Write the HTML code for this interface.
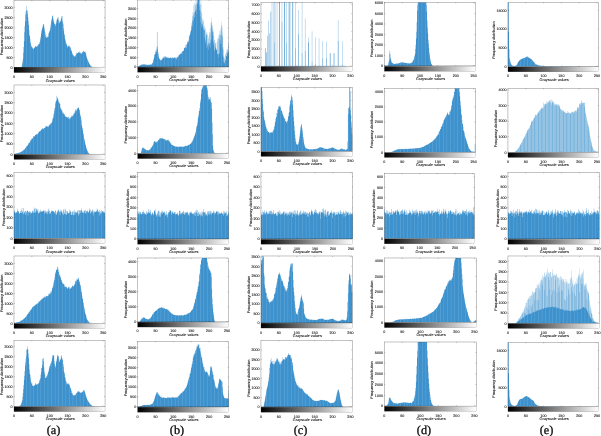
<!DOCTYPE html>
<html><head><meta charset="utf-8"><title>Histograms</title>
<style>
html,body{margin:0;padding:0;background:#fff;}
svg{display:block;}
text{text-rendering:geometricPrecision;}
.t text{font-family:"Liberation Sans",Arial,sans-serif;font-size:3.7px;fill:#111;stroke:#111;stroke-width:0.08px;}
.t text.b{font-size:3.8px;}
.l text{font-family:"Liberation Serif","Times New Roman",serif;font-size:12.3px;fill:#000;stroke:#000;stroke-width:0.25px;}
</style></head><body>
<svg width="601" height="436" viewBox="0 0 601 436">
<defs><linearGradient id="gg" x1="0" x2="1" y1="0" y2="0"><stop offset="0" stop-color="#000"/><stop offset="1" stop-color="#fff"/></linearGradient><path id="p0" d="M13.98 67.49h.35h.36h.35h.36h.35h.36h.36h.35h.36h.35h.36h.35h.36h.36h.35h.36h.35h.36h.35h.36h.36v-.16h.35v-2.11h.36v-1.82h.35v-1.95h.36v-2.69h.35v-6.11h.36v-5.54h.36v-5.88h.35v-8.91h.36v-6.09h.35v-4.99h.36v-6.51h.35v-3.33h.36v-.71h.35v-4.73h.36v3.99h.36v.57h.35v3.25h.36v3.44h.35v3.8h.36v4.06h.35v5.24h.36v4.69h.36v1.62h.35v2.46h.36v2.8h.35v2.1h.36v2.54h.35v-.84h.36v1.51h.36v.37h.35v.29h.36v1.42h.35v-.39h.36v-.4h.35v-.85h.36v.37h.35v-.75h.36v-.19h.36v-.92h.35v-.12h.36v.92h.35v-.37h.36v-.4h.35v-.38h.36v-.25h.36v.84h.35v-2.25h.36v.27h.35v-.2h.36v-.4h.35v-1.76h.36v-1.55h.36v-1.84h.35v-2.16h.36v-2.83h.35v-2.3h.36v-1.9h.35v-1.15h.36v-1.17h.35v-1.98h.36v-1.26h.36v.22h.35v1.68h.36v2.08h.35v2.39h.36v1.76h.35v2.5h.36v2.36h.36v1.09h.35v-.17h.36v-2h.35v1.19h.36v.47h.35v-.9h.36v.1h.36v-3.29h.35v-.52h.36v-1.13h.35v-.69h.36v-1.33h.35v-2.04h.36v-2.96h.36v-2.7h.35v-1.8h.36v-1.3h.35v-2.23h.36v-.92h.35v-.28h.36v3.36h.35v2.19h.36v1.44h.36v1.6h.35v-.7h.36v1.7h.35v1.26h.36v-2.35h.35v-.38h.36v-2.09h.36v-1.99h.35v-.27h.36v-1.98h.35v1.54h.36v-1.6h.35v2.76h.36v3.24h.36v-.29h.35v-1.88h.36v.92h.35v-.63h.36v-.81h.35v-1.86h.36v-1.07h.35v-1.32h.36v-.18h.36v4.66h.35v1.63h.36v1.27h.35v4.67h.36v2.73h.35v2.83h.36v1.5h.36v3.02h.35v1.36h.36v2.09h.35v1.95h.36v-.45h.35v1.74h.36v1.17h.36v1.17h.35v-1.19h.36v.37h.35v-.83h.36v-.23h.35v.18h.36v.73h.35v.68h.36v-.22h.36v1.6h.35v1.25h.36v.99h.35v.61h.36v1.4h.35v1.09h.36v1h.36v.2h.35v.44h.36v.47h.35v.51h.36v.09h.35v-.07h.36v-.26h.36v-1.27h.35v-.51h.36v-.55h.35v-1.05h.36v.29h.35v-.1h.36v-.28h.36v-.05h.35v-.67h.36v.24h.35v-1.03h.36v1.39h.35v.26h.36v-.35h.35v.57h.36v.22h.36v.3h.35v.01h.36v-1.48h.35v.1h.36v-.08h.35v-1h.36v-.45h.36v.83h.35v.04h.36v.3h.35v.19h.36v-.24h.35v1h.36v1.41h.36v1.58h.35v1.74h.36v.74h.35v.97h.36v.85h.35v.67h.36v1.12h.35v.7h.36v.7h.36v.61h.35v.68h.36v.54h.35v.32h.36v.5h.35v.26h.36v.26h.36v.22h.35v.25h.36v.24h.35v.05h.36v.21h.35h.36h.36h.35h.36h.35h.36h.35h.36h.35h.36h.36h.35h.36h.35h.36h.35h.36h.36h.35h.36h.35h.36h.35h.36h.36h.35h.36h.35h.36h.35h.36h.35V67.49Z"/><clipPath id="c0"><use href="#p0"/></clipPath><path id="p1" d="M137.57 66.89v-.29h.36v.07h.35v-.27h.36v-.02h.36v-.45h.35v-.11h.36v-.28h.36v-.09h.35v-.53h.36v.17h.36v-.3h.35v-.05h.36v-.22h.35v-.11h.36v.08h.36v-.28h.35v-.02h.36v.19h.36v.09h.35v.13h.36v-.35h.36v.15h.35v.43h.36v-.26h.36v.19h.35v-.12h.36v.11h.35v.24h.36v-.23h.36v.19h.35v-.34h.36v.38h.36v-.27h.35v.18h.36v-.14h.36v-.18h.35v-.35h.36v.04h.36v.15h.35v.36h.36v-.53h.35v-1.14h.36v-.22h.36v-1.3h.35v-1.47h.36v-1.31h.36v-1.49h.35v-2.22h.36v-1.03h.36v.01h.35v-3.48h.36v1.44h.36v-.35h.35v-2.41h.36v-2.84h.35v.08h.36v2.07h.36v3.46h.35v2.11h.36v2.7h.36v1.15h.35v.87h.36v.31h.36v.7h.35v-.08h.36v1.11h.36v-.92h.35v-.4h.36v-.04h.35v-.66h.36v-1.18h.36v.39h.35v-1.53h.36v1.29h.36v.41h.35v-1.27h.36v-.79h.36v.12h.35v1.23h.36v-.95h.36v.67h.35v-.13h.36v.91h.36v-.18h.35v-.53h.36v-.49h.35v1.18h.36v.06h.36v-.06h.35v-.16h.36v-.07h.36v-.22h.35v.63h.36v-1.07h.36v1.06h.35v-.03h.36v-.68h.36v.68h.35v-1.03h.36v.79h.35v.24h.36v-.36h.36v-.17h.35v-.68h.36v1.05h.36v.55h.35v-1.08h.36v-.08h.36v2.01h.35v-1.8h.36v-.1h.36v-.32h.35v.05h.36v-.7h.35v.06h.36v-1.02h.36v-1.16h.35v.22h.36v.16h.36v-1.64h.35v.9h.36v.17h.36v-.9h.35v.21h.36v-1.61h.36v-.55h.35v-.45h.36v.45h.35v-.67h.36v-.24h.36v-2.58h.35v.45h.36v-.9h.36v.03h.35v-.29h.36v-2.5h.36v3.6h.35v-3.85h.36v-.07h.36v-2.47h.35v.7h.36v-1.86h.35v1.86h.36v-2.11h.36v-5.04h.35v1.18h.36v-1.49h.36v-3.3h.35v2.12h.36v-2.91h.36v-1.26h.35v-4.02h.36v-2.72h.36v3.16h.35v-6.51h.36v1.46h.35v-.4h.36v-5.71h.36v2.06h.35v.33h.36v-5.43h.36v-1.12h.35v.29h.36v-6.81h.36v4.8h.35v4.69h.36v-10.94h.36v1.01h.35v-3.03h.36v-.91h.36h.35h.36h.35v5.15h.36v4.98h.36v5.54h.35v6.21h.36v-11.38h.36v13.36h.35v3.48h.36v-9.71h.36v7.9h.35v-1.84h.36v3.38h.36v2.04h.35v.98h.36v6.86h.35v-6.84h.36v.1h.36v8.79h.35v4.49h.36v-2.73h.36v-5.6h.35v.19h.36v12.62h.36v-1.92h.35v.46h.36v-3.29h.36v-.68h.35v6.84h.36v-5h.35v-1.13h.36v2.19h.36v2.19h.35v-4.54h.36v-2.68h.36v-18.29h.35v4.97h.36v12.17h.36v-9.06h.35v1.7h.36v3.07h.36v6.38h.35v2.15h.36v2.11h.35v4.73h.36v.89h.36v-2.73h.35v-5.04h.36v4.15h.36v2.29h.35v-1.13h.36v1.24h.36v4.54h.35v-.98h.36v.87h.36v2.82h.35v-3.14h.36v-.88h.35v.87h.36v-15.42h.36v-3.73h.35v9.29h.36v-3.84h.36v3.43h.35v-18.8h.36v10.38h.36v.9h.35v12.22h.36v6.96h.36v1.65h.35v3.99h.36v1.99h.35v.47h.36v-1.22h.36v-1.6h.35v-.03h.36v-.86h.36v-3.45h.35v-.14h.36v-.18h.36v-2.66h.35v-.29h.36v-1.67h.36v-.04h.35v.08h.36V66.89Z"/><clipPath id="c1"><use href="#p1"/></clipPath><path id="p3" d="M384.36 65.89v-.17h.36v-.01h.35v.11h.36v-.09h.35v-.1h.36v.04h.35v.08h.36v-.1h.35v.09h.36v-.18h.36v-.68h.35v-1.55h.36v-1.84h.35v-1.75h.36v-6.19h.35v-2.84h.36v3.78h.36v3.81h.35v1.32h.36v1.46h.35v1.24h.36v.39h.35v.19h.36v.09h.36v.55h.35v.31h.36v.15h.35v-.05h.36v.06h.35v-.16h.36h.35v-.01h.36v-.18h.36v.21h.35v-.43h.36v.14h.35v-.2h.36v.15h.35v-.04h.36v-.02h.36v-.1h.35v-.02h.36v-.35h.35v-.04h.36v-.28h.35v.11h.36v-.37h.36v-.13h.35v.12h.36v-.06h.35v.19h.36v.02h.35v-.12h.36v.09h.35v-.07h.36v.1h.36v.13h.35v.03h.36v-.04h.35v.2h.36v.15h.35v.04h.36v.14h.36v-.19h.35v.42h.36v-.42h.35v.29h.36v-.1h.35v.03h.36v.03h.36v.18h.35v.18h.36v-.32h.35v-.04h.36v-.39h.35v.03h.36v-.31h.36v-.03h.35v-.23h.36v-.81h.35v-.67h.36v-.83h.35v-.59h.36v-1.04h.35v-1.74h.36v-1.28h.36v-1.64h.35v-4.73h.36v-4.19h.35v-6.35h.36v-6.77h.35v-9.4h.36v-11.6h.36v-5.95h.35v-2.35h.36h.35h.36h.35h.36h.36h.35h.36h.35h.36h.35h.36h.35h.36h.36h.35h.36h.35h.36h.35h.36h.36h.35h.36v2.5h.35v6.64h.36v8.95h.35v6.94h.36v5.89h.36v6.39h.35v3.65h.36v4.65h.35v4.43h.36v2.89h.35v2.98h.36v1.95h.35v1.25h.36v1.62h.36v1.11h.35v.37h.36v.61h.35v.45h.36v.22h.35h.36h.36h.35h.36h.35h.36h.35h.36h.36h.35h.36h.35h.36h.35h.36h.35h.36h.36h.35h.36h.35h.36h.35h.36h.36h.35h.36h.35h.36h.35h.36h.36h.35h.36h.35h.36h.35h.36h.36h.35h.36h.35h.36h.35h.36h.35h.36h.36h.35h.36h.35h.36h.35h.36h.36h.35h.36h.35h.36h.35h.36h.36h.35h.36h.35h.36h.35h.36h.35h.36h.36h.35h.36h.35h.36h.35h.36h.36h.35h.36h.35h.36h.35h.36h.36h.35h.36h.35h.36h.35h.36h.35h.36h.36h.35h.36h.35h.36h.35h.36h.36h.35h.36h.35h.36h.35h.36h.36h.35h.36h.35h.36h.35h.36h.36h.35h.36h.35h.36V65.89Z"/><clipPath id="c3"><use href="#p3"/></clipPath><path id="p4" d="M507.96 66.49v-64.09h.35h.35v29.29h.36v17.5h.35v8.78h.36v1.83h.35v1.58h.36v1.33h.35v1.11h.36v.58h.35v.45h.36v.89h.35v-.16h.36v.15h.35v-.07h.36v.03h.35v.12h.36v.02h.35v.07h.36v.12h.35v-.25h.36v-.11h.35v-.36h.36v-.06h.35v-.29h.36v-.36h.35v-.72h.36v-.96h.35v-.83h.36v-.38h.35v-.56h.36v-.43h.35v-.33h.36v-.5h.35v.03h.36v-.46h.35v-.26h.36v-.26h.35v-.04h.36v.26h.35v-.67h.36v-.27h.35v.24h.35v.07h.36v-.54h.35h.36v-.07h.35v-.24h.36v-.24h.35v.08h.36v-.22h.35v-.34h.36v-.08h.35v-.28h.36v.04h.35v-.09h.36v.14h.35v.47h.36v.67h.35v-.02h.36v.22h.35v.12h.36v.12h.35v.46h.36v.01h.35v.37h.36v.17h.35v.57h.36v.33h.35v.32h.36v.46h.35v.62h.36v.33h.35v.13h.36v.74h.35v.26h.36v.59h.35v.33h.36v.44h.35v-.25h.36v.4h.35v.1h.36v.22h.35v.13h.35v.1h.36v.04h.35v.25h.36v.21h.35v-.22h.36v.09h.35v.1h.36v.22h.35v-.02h.36v-.01h.35v.08h.36v.03h.35v-.09h.36v.02h.35v.12h.36v.05h.35v-.18h.36v.26h.35v-.16h.36v.11h.35v.02h.36v.08h.35v-.21h.36v.16h.35v-.1h.36v.23h.35v-.16h.36v.13h.35v.01h.36v-.26h.35v.12h.36v-.12h.35v.16h.36v.06h.35v.09h.36v-.07h.35v-.15h.36v.14h.35h.35v-.23h.36v.09h.35v.16h.36v.15h.35v-.39h.36v.2h.35v-.18h.36v.39h.35v-.18h.36v.13h.35v-.05h.36v-.09h.35v.11h.36v-.01h.35h.36v-.01h.35v-.19h.36v-.01h.35v.08h.36v.08h.35v.07h.36v.15h.35v-.19h.36v.07h.35v.06h.36v.16h.35v-.41h.36v.3h.35v-.02h.36v-.41h.35v.18h.36v.19h.35v-.18h.36v-.07h.35v.14h.36v-.05h.35v.15h.36v-.09h.35v-.13h.36v.3h.35v-.37h.35v.27h.36v-.19h.35v.15h.36v.06h.35v-.11h.36v-.22h.35v.4h.36v-.19h.35v-.2h.36v.09h.35v.33h.36v-.12h.35h.36v-.03h.35v-.04h.36v-.09h.35v-.09h.36v.43h.35v.02h.36v-.07h.35v-.05h.36v.08h.35v-.15h.36v.11h.35v-.14h.36v.1h.35v-.17h.36v.19h.35v-.15h.36v.03h.35v.01h.36v-.01h.35v.22h.36v-.31h.35v.13h.36v-.18h.35v.21h.36v.13h.35v-.28h.36v.29h.35v-.24h.35v.16h.36v.09h.35v-.11h.36v.05h.35v.06h.36v-.36h.35v.32h.36v.04h.35h.36h.35v-.02h.36v-.08h.35v-.1h.36v.1h.35v.05h.36v-.09h.35v.14h.36v-.04h.35v-.02h.36v-.03h.35v.09h.36v-.07h.35v.02h.36v-.03h.35v-.19h.36v.27h.35v-.18h.36v.13h.35v-.18h.36v.23h.35v-.23h.36v.23h.35v-.08h.36h.35v.07h.36v.01h.35h.36v-.19h.35v.01h.36v.13h.35v-.24h.35v.11h.36v-.03h.35v.14h.36v-.22h.35v.29h.36v-.01h.35v-.11h.36v.12h.35v-.24h.36v.03h.35V66.49Z"/><clipPath id="c4"><use href="#p4"/></clipPath><path id="p5" d="M13.98 154.28v-.29h.35v.05h.36v-.07h.35v-.38h.36v.01h.35v-.09h.36v-.1h.36h.35v-.16h.36v-.3h.35v.25h.36v-.08h.35v-.08h.36v-.18h.36v-.14h.35v-.12h.36v-.4h.35v.21h.36v-.57h.35v.47h.36v-.47h.36v-.24h.35v-.18h.36v-.39h.35v-.29h.36v-.25h.35v-.17h.36v-.48h.36v-.17h.35v-.38h.36v-.06h.35v-.86h.36v-.26h.35v-.51h.36v-.85h.35v-.33h.36v-.43h.36v-.25h.35v-.13h.36v-1.21h.35v-.11h.36v-1.27h.35v-.26h.36v.22h.36v-1.1h.35v-.42h.36v-.84h.35v-.76h.36v.45h.35v-1.25h.36v-.72h.36v.09h.35v.06h.36v-.75h.35v-1.55h.36v-.04h.35v.02h.36v.21h.35v-.03h.36v-1.23h.36v-.47h.35v.38h.36v-.99h.35v.11h.36v.8h.35v-.7h.36v-.57h.36v.1h.35v-1.6h.36v.54h.35v-1.16h.36v.01h.35v-.1h.36v-.65h.36v.21h.35v-.54h.36v-.69h.35v-.19h.36v-.34h.35v.16h.36v-1.49h.35v.19h.36v.89h.36v-.31h.35v-.61h.36v-.16h.35v-.05h.36v-1.01h.35v-1.04h.36v1.82h.36v-1.57h.35v.02h.36v.87h.35v-.55h.36v-.27h.35v.23h.36v.27h.36v-.27h.35v-1.3h.36v.71h.35v-1.43h.36v.14h.35v-.09h.36v-1.1h.36v.07h.35v-.54h.36v-.35h.35v-.87h.36v-2.23h.35v-1.42h.36v-.33h.35v-2.9h.36v-1.43h.36v-2.6h.35v-2.27h.36v-.83h.35v-4.19h.36v-1.64h.35v-.79h.36v-.65h.36v-4.58h.35v3.12h.36v-1.26h.35v-.32h.36v2.58h.35v2.12h.36v-.05h.36v.62h.35v.84h.36v.49h.35v4.22h.36v-.71h.35v2.42h.36v-.9h.35v1.84h.36v-.33h.36v2.34h.35v.04h.36v-.51h.35v1.43h.36v.38h.35v.42h.36v-.22h.36v1.83h.35v.41h.36v-.4h.35v.22h.36v.87h.35v-.33h.36v.78h.36v-.24h.35v-.52h.36v2.15h.35v-2.03h.36v-.61h.35v2.15h.36v-.29h.35v1.09h.36v-1.37h.36v-.99h.35v.13h.36v-1.87h.35v1.51h.36v-.63h.35v-.78h.36v.92h.36v-.6h.35v-1.79h.36v.3h.35v-.69h.36v-.43h.35v-1.92h.36v-2.31h.36v2.36h.35v-1.1h.36v1.22h.35v-1.82h.36v-.32h.35v-1.58h.36v.88h.36v-.64h.35v-.81h.36v.89h.35v2.14h.36v-.64h.35v3.21h.36v2.5h.35v.82h.36v1.84h.36v2.72h.35v4.35h.36v1.76h.35v1.41h.36v2.23h.35v2.44h.36v1.56h.36v2.21h.35v2.14h.36v1.23h.35v2.16h.36v1.74h.35v1.18h.36v1.41h.36v1.26h.35v1.58h.36v.98h.35v.64h.36v.65h.35v.74h.36v.69h.35v.43h.36v.35h.36v.02h.35v.33h.36v.11h.35v.12h.36h.35h.36h.36h.35h.36h.35h.36h.35h.36h.36h.35h.36h.35h.36h.35h.36h.35h.36h.36h.35h.36h.35h.36h.35h.36h.36h.35h.36h.35h.36h.35h.36h.36h.35h.36h.35h.36h.35h.36h.35V154.28Z"/><clipPath id="c5"><use href="#p5"/></clipPath><path id="p6" d="M137.57 153.28h.36h.35h.36h.36h.35h.36h.36h.35h.36h.36v-1.78h.35v-1.84h.36v-1.11h.35v-.65h.36v-.49h.36v.07h.35v.58h.36v.31h.36v-.11h.35v.54h.36v.35h.36v.21h.35h.36v.61h.36v-.06h.35v.29h.36v-.03h.35v-.05h.36v.17h.36v.15h.35h.36v-.13h.36v-.51h.35v.01h.36v-.23h.36v-.43h.35v-.7h.36v-.3h.36v-.36h.35v-.81h.36v-.19h.35v-.77h.36v-.83h.36v-.52h.35v-.88h.36v-1.91h.36v-.21h.35v-.54h.36v-.09h.36v.07h.35v1.27h.36v.22h.36v-.48h.35v.01h.36v-.52h.35v-.2h.36v.06h.36v-.79h.35v-.77h.36v-.04h.36h.35v-1.11h.36v-.53h.36v-.08h.35v.18h.36v-.11h.36v-.18h.35v.63h.36v-.94h.35v.69h.36v.13h.36v.09h.35v.12h.36v.3h.36v-.39h.35v.25h.36v.84h.36v-.05h.35v-.3h.36v.97h.36v.01h.35v.14h.36v-.63h.36v-.16h.35v.44h.36v-.1h.35v-.46h.36v1.41h.36v.46h.35v-.33h.36v.65h.36v.58h.35v.62h.36v.88h.36v-.36h.35v.88h.36v.61h.36v-.05h.35v-.02h.36v.43h.35v.26h.36v.23h.36v.07h.35v.29h.36v-.12h.36v.63h.35v-.28h.36v.13h.36v-.18h.35v.11h.36v.16h.36v.12h.35v.14h.36v-.09h.35v-.22h.36v.06h.36v.04h.35v-.11h.36v.21h.36v-.22h.35v.1h.36v-.13h.36v-.04h.35v.25h.36v-.29h.36v.13h.35v.08h.36v.09h.35v-.06h.36v-.17h.36v.33h.35v-.79h.36v.16h.36v-.38h.35v-.1h.36v.03h.36v-.12h.35v.18h.36v.27h.36v-.59h.35v.28h.36v-.7h.35v-.06h.36v-.19h.36v-.35h.35v.22h.36v-.37h.36v-.32h.35v-.37h.36v-.14h.36v-.4h.35v-.62h.36v-1.01h.36v.16h.35v-1.27h.36v-.45h.35v-.96h.36v-.97h.36v-.76h.35v-.92h.36v-1.2h.36v-1.16h.35v-1.21h.36v-1.4h.36v-2.56h.35v-2.24h.36v-.45h.36v-1.4h.35v-2.37h.36v-3.91h.36v-1.6h.35v-2.13h.36v-3.44h.35v-.54h.36v-2.65h.36v-4.93h.35v-1.77h.36v-2.1h.36v-5.19h.35v-4.08h.36v-1.13h.36v-1.97h.35v1.28h.36v-1.97h.36v-.36h.35v-.29h.36h.35h.36h.36h.35h.36h.36h.35h.36v1.95h.36v.75h.35v2.25h.36v4.31h.36v2.5h.35v2.5h.36v-2.9h.35v2.54h.36v-.55h.36v-.25h.35v-1.43h.36v4.16h.36v.72h.35v.77h.36v6.21h.36v13.74h.35v11.48h.36v11.72h.36v3.57h.35v1.12h.36v1.4h.35v.58h.36v.17h.36v.05h.35v.07h.36v.11h.36v.15h.35h.36h.36h.35h.36h.36h.35h.36h.35h.36h.36h.35h.36h.36h.35h.36h.36h.35h.36h.36h.35h.36h.35h.36h.36h.35h.36h.36h.35h.36h.36h.35h.36h.36h.35h.36V153.28Z"/><clipPath id="c6"><use href="#p6"/></clipPath><path id="p7" d="M260.97 151.28v-63.69h.35h.36h.35v3.79h.36v7.58h.36v5.15h.35v6.16h.36v1.72h.36v5.08h.35v2.42h.36v1h.36v1.75h.35v1.79h.36v2.12h.36v.77h.35v1.6h.36v.61h.35v.36h.36v1.42h.36v.58h.35v.53h.36v-.02h.36v.06h.35v1.22h.36v-.41h.36v-.16h.35v.53h.36v-.89h.36v-.31h.35v.6h.36v-.36h.35v.39h.36v-.35h.36v-1.47h.35v.1h.36v-2.04h.36v1.01h.35v-3.03h.36v-1.23h.36v-2.88h.35v-1.35h.36v-2.8h.36v-1.33h.35v-.63h.36v-3.75h.35v.5h.36v-3.38h.36v-.77h.35v-.36h.36v-2.48h.36v-.15h.35v-.13h.36v.64h.36v-1.49h.35v2.63h.36v-.85h.36v3.4h.35v.03h.36v-.04h.35v1.29h.36v2.45h.36v-.33h.35v1.58h.36v.98h.36v1.15h.35v.43h.36v.71h.36v.06h.35v2.13h.36v.13h.36v.79h.35v-.38h.36v1.91h.35v-1.56h.36v-.83h.36v-1.58h.35v-2.8h.36v-.5h.36v-3.2h.35v-.83h.36v-5.93h.36v-1.97h.35v-3.65h.36v.24h.36v-2.55h.35v-2.16h.36v-1.18h.36v2.07h.35v3.08h.36v4.76h.35v5.46h.36v6.53h.36v4.53h.35v4.37h.36v5.31h.36v3.77h.35v3.55h.36v2.98h.36v.99h.35v1.81h.36v.53h.36v.04h.35v.08h.36v-.56h.35v.09h.36v-1.53h.36v-1.52h.35v-2.04h.36v-2.58h.36v-3.21h.35v-3.21h.36v-2.95h.36v-.87h.35v-2.12h.36v.39h.36v3.64h.35v2.29h.36v2.83h.35v3.51h.36v2.69h.36v2.56h.35v2.22h.36v1.22h.36v1.1h.35v.48h.36v.8h.36v.4h.35v.11h.36v.01h.36v.07h.35v.43h.36v-.15h.35v.37h.36v-.16h.36v.15h.35v.23h.36h.36v-.1h.35v.09h.36v-.05h.36v-.07h.35v.05h.36v.2h.36v-.25h.35v.19h.36v-.15h.35v-.2h.36v.02h.36v-.1h.35v.33h.36v-.46h.36v.23h.35v.01h.36v-.47h.36v.24h.35v-.07h.36v-.1h.36v.06h.35v-.36h.36v-.05h.36v-.11h.35v-.37h.36v.04h.35v-.68h.36v.4h.36v-.5h.35v-.05h.36v.16h.36v.11h.35v.06h.36v-.34h.36v.53h.35v-.11h.36v.38h.36v-.22h.35v.69h.36v-.26h.35v.21h.36v.4h.36v.33h.35v-.25h.36v.1h.36v-.11h.35v.01h.36v-.02h.36v.17h.35v-.06h.36v-.05h.36v-.11h.35v.06h.36v-.42h.35v.03h.36v-.03h.36v-.1h.35v-.26h.36v.3h.36v-.6h.35v.24h.36v-.27h.36v-.13h.35v-.2h.36v.05h.36v.03h.35v.55h.36v.11h.35v.21h.36v.22h.36v.07h.35v.38h.36v-.16h.36v.34h.35v.17h.36v.18h.36v-.05h.35v.24h.36v.05h.36v.04h.35v-.13h.36v.11h.35h.36h.36v-.41h.35v-.24h.36v-.07h.36v-.61h.35v-.07h.36v.26h.36v-.21h.35v.44h.36v.26h.36v.2h.35v.15h.36v-.13h.35v.01h.36h.36v.39h.35v.14h.36v-.07h.36v.13h.35v-.35h.36v-.22h.36v-.18h.35v-.39h.36v-7.41h.36v-27.13h.35v-6.46h.36v.44h.36v-1.27h.35v-19.4h.36h.35v3.66h.36v18.73h.36v4.65h.35v7.02h.36v5.83h.36v7.25h.35V151.28Z"/><clipPath id="c7"><use href="#p7"/></clipPath><path id="p8" d="M384.36 152.28h.36h.35h.36h.35h.36h.35h.36h.35h.36h.36h.35h.36h.35h.36h.35h.36v-.38h.36v.07h.35h.36v-.05h.35v.02h.36v-.24h.35v-.28h.36v.07h.36v-.1h.35v-.27h.36v-.12h.35v-.52h.36v.07h.35v-.17h.36v-.23h.35h.36v-.21h.36v-.19h.35v-.06h.36v-.4h.35v.39h.36v-.23h.35v-.25h.36v-.2h.36v-.05h.35v.46h.36v-.25h.35v-.15h.36v.18h.35v-.34h.36v.34h.36v-.2h.35v.03h.36v-.05h.35v.04h.36v.09h.35v-.03h.36v.36h.35v-.61h.36v.2h.36v.11h.35v-.27h.36v.01h.35v.13h.36v.07h.35v-.17h.36v-.12h.36v.05h.35v.19h.36v-.14h.35v-.05h.36v-.01h.35v.13h.36v-.15h.36v.03h.35v-.06h.36v-.11h.35v-.03h.36v-.31h.35v.36h.36v.12h.36v-.15h.35v-.23h.36v.17h.35h.36v.08h.35v-.18h.36v-.11h.35v.07h.36v.15h.36v-.21h.35v-.1h.36v-.34h.35v.45h.36v-.09h.35v-.28h.36v.3h.36v-.34h.35v.08h.36v-.09h.35v-.08h.36v.4h.35v-.43h.36v.09h.36v.23h.35v-.42h.36v-.17h.35v-.21h.36v-.04h.35v-.28h.36v.06h.35v-.27h.36v.04h.36v-.22h.35v.02h.36v-.25h.35v-.48h.36v-.05h.35v-.42h.36v.06h.36v-.04h.35v-.47h.36v.06h.35v-.46h.36v.1h.35v-.22h.36v-.23h.36v-.09h.35v-.29h.36v-.02h.35v-.66h.36v-.33h.35v.16h.36v.02h.35v-.74h.36v-.32h.36v.04h.35v-.15h.36v-.59h.35v.11h.36v-.57h.35v-.14h.36v-.58h.36v-.29h.35v-.28h.36v-.34h.35v-.69h.36v-.02h.35v-.48h.36v-.68h.36v-.85h.35v-.3h.36v.09h.35v-1.23h.36v-.41h.35v-.54h.36v.16h.35v-2.47h.36v-.25h.36v-.32h.35v-.96h.36v-1.21h.35v-.01h.36v-1.81h.35v-1.04h.36v.72h.36v-1.23h.35v-1.66h.36v-.48h.35v-.74h.36v-1.45h.35v-1.37h.36v-.6h.36v-.74h.35v-.5h.36v-.71h.35v-1.02h.36h.35v-1.18h.36v-.58h.36v-.6h.35v-1.05h.36v-.7h.35v2.84h.36v-.86h.35v.27h.36v.33h.35v-2.62h.36v-1.21h.36v.64h.35v-1.56h.36v-.95h.35v-2.62h.36v-1.62h.35v-3.37h.36v-1.37h.36v-1.93h.35v-.42h.36v-1.43h.35v-1.28h.36v-3.22h.35v-.51h.36v-2.85h.36h.35h.36h.35h.36h.35h.36h.35h.36h.36h.35h.36h.35v3.41h.36v4.34h.35v4.54h.36v4.65h.36v3.75h.35v4.9h.36v.87h.35v4.78h.36v3.64h.35v.55h.36v2.72h.36v3.49h.35v.87h.36v.73h.35v1.71h.36v2.18h.35v.99h.36v1.45h.35v.62h.36v1.38h.36v1h.35v1.55h.36v1.04h.35v.83h.36v1.38h.35v.67h.36v1.36h.36v.57h.35v.49h.36v.53h.35v.32h.36v.59h.35v.51h.36v.31h.36v.05h.35v.06h.36v-.02h.35v.28h.36v-.12h.35v.01h.36v.36h.36v.18h.35v-.18h.36v.22h.35v-.08h.36V152.28Z"/><clipPath id="c8"><use href="#p8"/></clipPath><path id="p9" d="M507.96 152.28h.35h.35h.36h.35h.36h.35h.36h.35h.36h.35h.36h.35h.36h.35h.36h.35h.36v-.17h.35v-.41h.36v-.06h.35v-.19h.36v-.18h.35v-.38h.36v-.04h.35v-.3h.36v-.42h.35v-.33h.36v-.45h.35v-.77h.36v-.59h.35v-.16h.36v-.75h.35v-.61h.36v-.62h.35v-.81h.36v-.4h.35v-.65h.36v-.96h.35v-.55h.36v-.54h.35v-.3h.36v-1.27h.35v-1.03h.35v-.48h.36v.03h.35v-1.13h.36v-.78h.35v-.63h.36v-.07h.35v-2.03h.36v-.04h.35v-1.16h.36v-.66h.35v.05h.36v-1.48h.35v-.93h.36v.14h.35v-1.11h.36v-.38h.35v-.53h.36v-.23h.35v-1.62h.36v-.85h.35v-.35h.36v-.6h.35v-1.92h.36v-.88h.35v-.83h.36v.35h.35v-.26h.36v-.62h.35v-1.27h.36v.37h.35v-1.37h.36h.35v-1.08h.36v-2.25h.35v.4h.36v-.39h.35v.25h.36v-.52h.35v1.55h.36v-1.98h.35v-.27h.35v-1.82h.36v.6h.35v.53h.36v-1.57h.35v-.85h.36v.37h.35v-1.61h.36v-.09h.35v.31h.36v-.73h.35v-.79h.36v-1h.35v1.16h.36v-1.16h.35v1.32h.36v-.43h.35v-5.68h.36v1.73h.35v1.7h.36v-1.77h.35v.84h.36v-.88h.35v-.47h.36v.02h.35v.62h.36v-3.04h.35v2.4h.36v-1.87h.35v.63h.36v-.69h.35v1.25h.36v-.84h.35v-1.36h.36v1.01h.35v-1.5h.36v2.38h.35v-2.75h.36v2.71h.35v-2.98h.35v5.24h.36v-4.11h.35v1.3h.36v.62h.35v.21h.36v.03h.35v-1.82h.36v3.45h.35v.27h.36v-.19h.35v-.86h.36v.92h.35v1.57h.36v-2.25h.35v.62h.36v.08h.35v1.04h.36v-1.09h.35v1.3h.36v-1.67h.35v.25h.36v.77h.35v1.37h.36v1.06h.35v1.18h.36v.34h.35v.13h.36v.07h.35v1.39h.36v-.14h.35v.31h.36v-.94h.35v.2h.36v1.2h.35v.54h.36v.64h.35v-.64h.36v.23h.35v.71h.36v-1.64h.35v2.68h.35v-.94h.36v.01h.35v-.02h.36v.2h.35v-1.98h.36v1.43h.35v.29h.36v-.5h.35v1.43h.36v-1.11h.35v-.24h.36v1.32h.35v-.03h.36v-.81h.35v-.17h.36v-.81h.35v.1h.36v.06h.35v-.54h.36v.81h.35v.92h.36v-1.48h.35v.08h.36v.56h.35v-1.31h.36v-.83h.35v.74h.36v-.9h.35v2.01h.36v-2.24h.35v.29h.36v-2.53h.35v-.33h.36v.93h.35v-1.12h.36v.84h.35v-2.92h.36v-1.46h.35v.48h.36v-.95h.35v-.12h.35v2.26h.36v-1.46h.35v-2.3h.36v-1h.35v2.84h.36v-.61h.35v-.01h.36v-.24h.35v.76h.36v-.39h.35v-.18h.36v4h.35v3.17h.36v3.27h.35v.56h.36v1.89h.35v2.09h.36v2.67h.35v.68h.36v2.34h.35v.59h.36v1.89h.35v1.17h.36v2.01h.35v2h.36v2.8h.35v2.13h.36v2.32h.35v1.64h.36v1.5h.35v1.95h.36v2.04h.35v1h.36v.72h.35v1.02h.36v.76h.35v1.14h.36v.48h.35v-.06h.36v.61h.35v-.19h.35v.33h.36v.02h.35v.36h.36v.18h.35v.04h.36v.04h.35v-.02h.36v.33h.35v-.13h.36v.26h.35V152.28Z"/><clipPath id="c9"><use href="#p9"/></clipPath><path id="p10" d="M13.98 238.28v-27.98h.35v2.17h.36v-1.21h.35v1.67h.36v.2h.35v-1.47h.36v.78h.36v-.46h.35v1.08h.36v-1.98h.35v-2.23h.36v2.19h.35v-.04h.36v1.3h.36v.88h.35v.13h.36v.47h.35v-2.98h.36v1.72h.35v.42h.36v.15h.36v-2.79h.35v-2.33h.36v3.99h.35v-.47h.36v2.13h.35v-5.69h.36v6.38h.36v-3.32h.35v1.54h.36v.29h.35v-1.65h.36v3.75h.35v-4.09h.36v2.46h.35v-1.53h.36v-.42h.36v-.32h.35v-1.02h.36v5.48h.35v-3.79h.36v.21h.35v.01h.36v-1.01h.36v1.99h.35v-1.34h.36v2.07h.35v-1.96h.36v1.5h.35v.11h.36v-.96h.36v-.5h.35v-1.65h.36v2.26h.35v-1.62h.36v2.08h.35v-5.38h.36v1.55h.35v3.77h.36v-1.06h.36v-3.67h.35v4.58h.36v-4h.35v.53h.36v2.01h.35v-.05h.36v-1.37h.36v-.72h.35v4.4h.36v-.36h.35v-.87h.36v.88h.35v-1.94h.36v.37h.36v.08h.35v-2.02h.36v1.75h.35v.22h.36v.15h.35v-.16h.36v-.61h.35v.53h.36v-.77h.36v.06h.35v-.42h.36v3.44h.35v-2.63h.36v.61h.35v.98h.36v-2.53h.36v3.56h.35v-2.57h.36v1.01h.35v1.9h.36v-2.34h.35v-1.31h.36v-.69h.36v2.1h.35v-3.38h.36v5.21h.35v-2.78h.36v3.03h.35v-2.08h.36v1.29h.36v-1.82h.35v-1.15h.36v1.2h.35v-.58h.36v.18h.35v.13h.36v-.23h.35v.8h.36v.14h.36v.48h.35v.15h.36v1.84h.35v-3.45h.36v-.71h.35v4.81h.36v-.79h.36v-1.68h.35v-.12h.36v-1.54h.35v.61h.36v-1.63h.35v-.34h.36v1.87h.36v1.11h.35v-1.16h.36v4.06h.35v-3.9h.36v-1.59h.35v1.75h.36v-1.55h.35v1.63h.36v1.22h.36v1.22h.35v-2.29h.36v-2.92h.35v6h.36v-4.51h.35v2.34h.36v1.13h.36v-5.06h.35v1.03h.36v4.25h.35v.89h.36v-.55h.35v-3.36h.36v-.07h.36v.7h.35v1.41h.36v.16h.35v.13h.36v-.65h.35v-.1h.36v-2.94h.35v2.56h.36v-1.94h.36v1.42h.35v3.34h.36v-2.9h.35v2.69h.36v-.5h.35v-2.33h.36v-.76h.36v4h.35v-4.66h.36v4.29h.35v-2.32h.36v-2.62h.35v4.86h.36v-2.69h.36v-.37h.35v.69h.36v-.36h.35v.54h.36v-1.72h.35v2.07h.36v-2.67h.36v3.09h.35v2.18h.36v-5.61h.35v4.3h.36v-3.71h.35v-.62h.36v3.14h.35v-2.52h.36v-.37h.36v.63h.35v-2.35h.36v4.13h.35v-1.19h.36v1.02h.35v-1.6h.36v2.35h.36v-.34h.35v-2.7h.36v2.18h.35v-1.71h.36v-.65h.35v3.08h.36v.7h.36v-2.49h.35v-.15h.36v.35h.35v-1.21h.36v1.2h.35v-.01h.36v.66h.35v.57h.36v-4.17h.36v2.65h.35v-1.25h.36v-.41h.35v3.94h.36v-.56h.35v-1.98h.36v1.11h.36v-1.69h.35v-.72h.36v2.38h.35v3.41h.36v-5.06h.35v2.4h.36v-1.7h.36v1.57h.35v-.74h.36v-.17h.35v.13h.36v.26h.35v-.59h.36v-.43h.35v-2.56h.36v1.65h.36v-.73h.35v2.66h.36v.16h.35v-.97h.36v.64h.35v-2.11h.36v5.6h.36v-2.28h.35v-2.26h.36v2.78h.35v-3.6h.36v2.42h.35v.04h.36v-1.36h.36v-.08h.35v.08h.36v.28h.35v1.25h.36v-.92h.35v.66h.36v.67h.35V238.28Z"/><clipPath id="c10"><use href="#p10"/></clipPath><path id="p11" d="M137.57 238.88v-26.49h.36v1.52h.35v-2.78h.36v2.46h.36v1.13h.35v-3.16h.36v.84h.36v-.42h.35v1.97h.36v-1.59h.36v1.36h.35v.68h.36v-.51h.35v-1.85h.36v.4h.36v-2.07h.35v1.31h.36v2.1h.36v-1.34h.35v1.81h.36v-1.42h.36v1.28h.35v.32h.36v-.82h.36v-2.6h.35v3.9h.36v-2.58h.35v.12h.36v1.56h.36v-1.38h.35v-.02h.36v-3.69h.36v3.71h.35v.39h.36v-2.37h.36v1.94h.35v-2.91h.36v4.34h.36v-.17h.35v1.57h.36v-.63h.35v-2.08h.36v-.28h.36v1.09h.35v.46h.36v1.3h.36v-3.93h.35v-.76h.36v.23h.36v-1.63h.35v3.57h.36v1.94h.36v2.01h.35v-1.58h.36v-1.48h.35v-1.55h.36v2.12h.36v1.96h.35v-4.81h.36v-.76h.36v4.21h.35v-3.5h.36v5.55h.36v-4.53h.35v4.35h.36v-1.82h.36v-2.79h.35v1.03h.36v-2.74h.35v3.58h.36v-2.36h.36v-.35h.35v1.74h.36v-.57h.36v-.94h.35v.9h.36v.1h.36v.89h.35v2.4h.36v-1.15h.36h.35v-3.66h.36v4.26h.36v-.77h.35v3.04h.36v-5.1h.35v1.44h.36v-1.57h.36v-.24h.35v.04h.36v-2h.36v.25h.35v.52h.36v-.22h.36v2.08h.35v2.05h.36v-2.86h.36v.7h.35v-1.21h.36v2.22h.35v-.83h.36v.99h.36v-2.3h.35v1.02h.36v1.11h.36v-1.55h.35v2.25h.36v.3h.36v-.34h.35v-.79h.36v.57h.36v-1.78h.35v2.21h.36v-1h.35v1.92h.36v.95h.36v-2.43h.35v-2.92h.36v-.58h.36v.8h.35v3.87h.36v-1.7h.36v.31h.35v-.44h.36v-.48h.36v.34h.35v-.82h.36v-1.1h.35v-.48h.36v3.41h.36v-2.39h.35v2.07h.36v1.24h.36v-1.4h.35v-.77h.36v-.65h.36v1.1h.35v-.96h.36v-.43h.36v.97h.35v-1.4h.36v3.17h.35v-1.73h.36v2.13h.36v1.27h.35v-3.78h.36v1.09h.36v-1.76h.35v1.21h.36v-.78h.36v-.67h.35v1.15h.36v.86h.36v.09h.35v.53h.36v-1.53h.35v.18h.36v1.22h.36v1.37h.35v-3.4h.36v1.48h.36v2.75h.35v-5.23h.36v1.65h.36v-1.06h.35v-1.97h.36v3.19h.36v-2.93h.35v5.71h.36v-2.47h.36v-1.23h.35v4.04h.36v-4.37h.35v2.34h.36v.59h.36v1.57h.35v-3.76h.36v2.2h.36v-3.03h.35v3.86h.36v-.86h.36v-2.26h.35v4.16h.36v-5.02h.36v.96h.35v-3.52h.36v3.22h.35v-.13h.36v1.14h.36v2.35h.35v-2.08h.36v-1.76h.36v3.81h.35v-1.41h.36v.27h.36v-2.59h.35v3.99h.36v-4.08h.36v-.58h.35v3.19h.36v-1.28h.35v-1.74h.36v3.69h.36v-3.11h.35v2.02h.36v-2.93h.36v4.06h.35v-1.71h.36v-1.96h.36v2h.35v-.34h.36v-.19h.36v-2.3h.35v2.33h.36v-1.73h.35v3.39h.36v-1.61h.36v-.3h.35v.99h.36v-.78h.36v-1.86h.35v1.01h.36v-.02h.36v-.48h.35v.47h.36v2.62h.36v-.1h.35v-2.74h.36v.4h.35v1.4h.36v-.22h.36v.87h.35v-.83h.36v-.04h.36v-1.35h.35v.73h.36v.62h.36v.87h.35v-.95h.36v1.18h.36v-3.43h.35v4.84h.36v-2.79h.35v1.1h.36v-2.77h.36v.97h.35v.73h.36v-.38h.36v.77h.35v2.6h.36v-5.1h.36v4.99h.35v-1.18h.36v-.85h.36v-2.48h.35v1.68h.36V238.88Z"/><clipPath id="c11"><use href="#p11"/></clipPath><path id="p12" d="M260.97 238.88v-23.57h.35v-2.68h.36v2.13h.36v-.12h.36v-3.95h.36v3.79h.36v-2.17h.36v-.38h.36v2.54h.35v-2.01h.36v-2.11h.36v3.17h.36v.88h.36v-1.79h.36v-.01h.36v-1.88h.36v1.32h.35v1.33h.36v.97h.36v-1.87h.36v1.41h.36v-.17h.36v-3.04h.36v1.27h.36v1.8h.35v-3.03h.36v.41h.36v2.98h.36v-3.69h.36v4.04h.36v-2.66h.36v.65h.36v1.45h.35v.61h.36v-4.61h.36v2.93h.36v1.12h.36v.38h.36v-.42h.36v-.85h.36v.72h.35v-.58h.36v1.72h.36v1.34h.36v-3.61h.36v-.98h.36v4.21h.36v-1.43h.36v-2.32h.36v-.62h.35v2.18h.36v-.17h.36v-3.05h.36v1.32h.36v2.68h.36v-.05h.36v-.77h.36v-.51h.35v1.65h.36v-2.1h.36v1.2h.36v-.88h.36v-1.87h.36v.97h.36v1.62h.36v1.47h.35v-3.72h.36v2.05h.36v.52h.36v-2.05h.36v3.35h.36v-2.35h.36v-.55h.36v1.02h.35v1.93h.36v-1.21h.36v-1.26h.36v1.72h.36v-3.02h.36v.67h.36v2.95h.36v-.72h.35v-1.9h.36v-1.12h.36v1.77h.36v-.75h.36v-1.1h.36v1.75h.36v3.75h.36v-5.56h.35v1.29h.36v1.54h.36v-4.11h.36v3.94h.36v.51h.36v-.92h.36v-2.84h.36v5.13h.36v-2.3h.35v.57h.36v-2.91h.36v3.38h.36v-4.44h.36v3.99h.36v-.04h.36v2h.36v-1.16h.35v-2.88h.36v.83h.36v1.73h.36v-3.86h.36v-.12h.36v3.97h.36v-1.34h.36v.91h.35v-1.03h.36v-1.03h.36v1.86h.36v-1.19h.36v-2.22h.36v3.7h.36v-1.51h.36v-1.43h.35v.66h.36v2.63h.36v-2.82h.36v1.86h.36v.24h.36v-1.57h.36v.3h.36v3.86h.35v-2.44h.36v-.95h.36v3.5h.36v-4.38h.36v-.26h.36v1.27h.36v1.26h.36v1.08h.36v-4.18h.35v-1.92h.36v1.49h.36v1.08h.36v-1.18h.36v3.17h.36v.57h.36v-1.36h.36v.96h.35v-1.64h.36v-2.07h.36v1.82h.36v.75h.36v-4.05h.36v.86h.36v2.18h.36v.54h.35v1.71h.36v-1.4h.36v.48h.36v1.23h.36v-1.98h.36v.99h.36v-.95h.36v-.85h.35v-.95h.36v7.87h.36v-5.05h.36v-1.63h.36v-.13h.36v.48h.36v-3.53h.36v4.4h.35v-1.33h.36v1.38h.36v-5.06h.36v2.24h.36v2.93h.36v2.74h.36v-5.93h.36v4.63h.35v-5.31h.36v3.04h.36v4.46h.36v-2.27h.36v-2.47h.36v-1h.36v-.42h.36h.36v4.72h.35v-1.04h.36v.96h.36v-1.67h.36v-.63h.36v-.82h.36v-.14h.36v.31h.36v-2.35h.35v2.16h.36v1.07h.36v4.19h.36v-5.05h.36v1.3h.36v-1.74h.36v-.71h.36v1.87h.35v-1.2h.36v.37h.36v2.95h.36v-.73h.36v-2.88h.36v2.71h.36v-.45h.36v.54h.35v-.34h.36v-2.82h.36v1.51h.36v-.9h.36v.33h.36v1.94h.36v-.39h.36v-2.96h.35v2.72h.36v-3.51h.36v4.31h.36v-.95h.36v-1.68h.36v1.77h.36v.65h.36v-1.75h.35v-.14h.36v-1.73h.36v6.1h.36v-3.84h.36v.73h.36v-3.09h.36v2.06h.36v3.23h.36v-5.28h.35v4.65h.36v-3.12h.36v.24h.36v.38h.36v.02h.36v2.35h.36v-3.46h.36v2.22h.35v.71h.36v-1.14h.36v-.89h.36v2.49h.36v-2.74h.36v1.3h.36v.15h.36v.35h.35v-1.66h.36v2.02h.36V238.88Z"/><clipPath id="c12"><use href="#p12"/></clipPath><path id="p13" d="M384.36 238.48v-29.18h.35v2.59h.35v.68h.35v.25h.36v.84h.35v-.77h.35v-2.73h.35v4.51h.35v-1.45h.36v-2.79h.35v3.41h.35v-1.37h.35v1.53h.35v-2.15h.35v4.6h.36v-4.75h.35v.87h.35v.4h.35v2.11h.35v-5.99h.35v3.27h.36v2.37h.35v-.72h.35v.47h.35v-2.82h.35v-.58h.36v1.62h.35v-1.23h.35v1.21h.35v.24h.35v-1.51h.35v-1.21h.36v1.23h.35v1.94h.35v-2.71h.35v4.31h.35v-4.51h.35v-.92h.36v2.06h.35v-.69h.35v.97h.35v.27h.35v1.97h.35v1.07h.36v-3.78h.35v.16h.35v2.62h.35v-.27h.35v-3.01h.36v-.32h.35v-1.07h.35v.67h.35v3.52h.35v.89h.35v-3.14h.36v1.61h.35v-1.25h.35v-1.48h.35v-.79h.35v5.29h.35v-2.94h.36v2.74h.35v-.31h.35v-4.03h.35v4.41h.35v.32h.36v-2.58h.35v1.96h.35v-1.23h.35v.21h.35v-.3h.35v-3.29h.36v2.82h.35v.27h.35v-.85h.35v-1.16h.35v3h.35v-.71h.36v2.12h.35v-5.56h.35v4.12h.35v-2.49h.35v-.19h.36v1.89h.35v.43h.35v-.8h.35v-1.95h.35v4.24h.35v-2.65h.36v-2.09h.35v2.1h.35v-2.93h.35v4.44h.35v-1.38h.35v-1.8h.36v2.18h.35v3.56h.35v-2.25h.35v-1.18h.35v-2.2h.36v.46h.35v2.12h.35v-2.25h.35v3.18h.35v-3.84h.35v2.69h.36v-2.06h.35v2.65h.35v-1.46h.35v-1.24h.35v3.73h.35v-2.38h.36v1.63h.35v-1.9h.35v.61h.35v-2.14h.35v2.79h.36v1.3h.35v-3.38h.35v.95h.35v1.12h.35v.84h.35v-1.13h.36v-2.65h.35v.22h.35v1.36h.35v-.89h.35v1.99h.35v-1.98h.36v-.66h.35v3.21h.35v-.26h.35v-.9h.35v-.12h.35v-2.24h.36v.68h.35v4.42h.35v-4.37h.35v-.98h.35v3.14h.36v-.03h.35v-1.13h.35v-.2h.35v1.37h.35v-1.61h.35v-.24h.36v1.49h.35v-1.48h.35v1.06h.35v-.23h.35v-3.2h.35v3.04h.36v-.78h.35v.43h.35v2.32h.35v.3h.35v-4.53h.36v5.87h.35v-1.61h.35v-.31h.35v-.06h.35v.16h.35v-1.99h.36v-.84h.35v2.89h.35v-1.16h.35v1.45h.35v-1.96h.35v-3.22h.36v1.71h.35v4.03h.35v-1.66h.35v-1.61h.35v.49h.36v-2.5h.35v2.29h.35v2.11h.35v.33h.35v-.93h.35v1.06h.36v3.72h.35v-4.71h.35v-2.53h.35v.32h.35v2.47h.35v-1.47h.36v-.49h.35v-.83h.35v-.71h.35v1.09h.35v2.7h.36v-1.89h.35v2.22h.35v-2.21h.35v1.98h.35v-1.79h.35v1.53h.36v-1.76h.35v.68h.35v2.2h.35v-1.26h.35v-2.06h.35v3.46h.36v-5.95h.35v5.54h.35v1.43h.35v-5.35h.35v3.68h.35v-.56h.36v-.14h.35v-.33h.35v-.14h.35v2.01h.35v-2.93h.36v2.35h.35v-1.85h.35v1.14h.35v.59h.35v.15h.35v-1.15h.36v.79h.35v-2.89h.35v-.93h.35v2.23h.35v-.39h.35v-1.98h.36v.53h.35v.97h.35v1.43h.35v-2.31h.35v.28h.36v3.65h.35v-3.27h.35v2.91h.35v-5.31h.35v6.8h.35v-4.11h.36v1.62h.35v-1.86h.35v.03h.35v2.12h.35v-.72h.35v-2.35h.36v2.05h.35v-.92h.35v1.01h.35v-2.12h.35v1.76h.36v-.34h.35v1.76h.35v-2.04h.35v.97h.35v-5.12h.35v7.22h.36v-1.87h.35v1.96h.35V238.48Z"/><clipPath id="c13"><use href="#p13"/></clipPath><path id="p14" d="M507.96 238.88v-26.01h.35v-.69h.36v1.35h.35v.43h.36v-.38h.36h.35v-3.09h.36v2.72h.36v-.13h.35v-.73h.36v-1.25h.36v4.78h.35v-2.56h.36v-1.06h.36v-2.77h.35v3.91h.36v.28h.35v-.95h.36v.14h.36v4.37h.35v-3.83h.36v-1.98h.36v-.36h.35v3.83h.36v-3.96h.36v3.11h.35v-1.62h.36v-3.49h.36v2.77h.35v4.24h.36v-2.33h.35v-1.9h.36v-2.47h.36v4.26h.35v-1.13h.36v.15h.36v-1.22h.35v-.18h.36v1.79h.36v-.99h.35v5.14h.36v-3.65h.36v.16h.35v-.75h.36v-.8h.35v-.17h.36v1.61h.36v-1.52h.35v-.33h.36v.56h.36v.52h.35v-.87h.36v-.73h.36v.74h.35v1.01h.36v1.58h.36v-2.84h.35v.24h.36v.3h.35v.39h.36v.65h.36v-3.77h.35v1.75h.36v1.11h.36v-.87h.35v1.39h.36v-2.97h.36v3.49h.35v.87h.36v-1.5h.36v.42h.35v-2.21h.36v3.22h.35v-1.66h.36v-2.3h.36v2.16h.35v-3.55h.36v4.18h.36v1.63h.35v-1.57h.36v-3.71h.36v.38h.35v3.83h.36v-.81h.36v-2.09h.35v2.77h.36v-.35h.36v1.92h.35v-2.68h.36v-2.19h.35v2.91h.36v1.89h.36v-2.9h.35v1.33h.36v-2.46h.36v2.63h.35v-2.92h.36v.38h.36v.04h.35v4.25h.36v-.23h.36v-2.88h.35v2.85h.36v-.45h.35v-.87h.36v-1.13h.36v1.21h.35v-2.1h.36v.33h.36v.7h.35v1.22h.36v.77h.36v-2.91h.35v-1.74h.36v2.87h.36v.04h.35v1.94h.36v.96h.35v-4.34h.36v3.28h.36v-.62h.35v-1.57h.36v-1.83h.36v3.12h.35v-1.98h.36v-2.12h.36v3.29h.35v4.19h.36v-3.03h.36v-2.47h.35v2.42h.36v-.58h.35v.46h.36v-4.68h.36v2.06h.35v4.56h.36v-3.08h.36v2.41h.35v-5.28h.36v2.15h.36v.04h.35v-1.46h.36v2.84h.36v.22h.35v-.73h.36v.5h.35v-2.8h.36v.43h.36v2.58h.35v-2.58h.36v3.05h.36v.2h.35v-3.34h.36v4.18h.36v-2.33h.35v-.77h.36v4.47h.36v-4.24h.35v.32h.36v-2.68h.36v6.74h.35v-5h.36v.1h.35v.66h.36v-.28h.36v5.08h.35v-7.52h.36v4.08h.36v-.53h.35v-2.43h.36v.15h.36v1.77h.35v.77h.36v-.75h.36v-1.29h.35v-1.73h.36v5.42h.35v-1.87h.36v-2.75h.36v5.37h.35v-4.27h.36v1.5h.36v.15h.35v-.08h.36v-.52h.36v-1.49h.35v.77h.36v.58h.36v2.16h.35v.36h.36v-1.59h.35v-1.36h.36v1.21h.36v.2h.35v-1.01h.36v.51h.36v-.81h.35v-2.99h.36v3.9h.36v1.02h.35v-3.49h.36v1.12h.36v1.53h.35v-.65h.36v-.55h.35v1.02h.36v-.46h.36v1.98h.35v-1.47h.36v.23h.36v-3.65h.35v6.55h.36v-5.06h.36v1.46h.35v1.44h.36v.19h.36v-2.97h.35v2.84h.36v1.57h.35v-7.55h.36v5.32h.36v-2.91h.35v2.29h.36v-.43h.36v1.85h.35v-.87h.36v-3.74h.36v2.68h.35v1.71h.36v1.09h.36v-.18h.35v-2.27h.36v.01h.35v-1.89h.36v3.37h.36v-.26h.35v.44h.36v-1.67h.36v-.44h.35v-.53h.36v1.65h.36v-5.04h.35v3.65h.36v-.55h.36v-.05h.35v.67h.36v1.1h.36v.75h.35v-2.79h.36v1.9h.35v-2.6h.36h.36v3.01h.35v-2.38h.36v.93h.36v1.96h.35V238.88Z"/><clipPath id="c14"><use href="#p14"/></clipPath><path id="p15" d="M13.98 323.28v-.43h.35v-.01h.36v-.14h.35v.04h.36v.17h.35v-.53h.36v.13h.36v-.25h.35v.18h.36v-.16h.35v-.11h.36v-.24h.35v.05h.36v.01h.36v-.02h.35v-.25h.36v-.09h.35v-.33h.36v-.3h.35v-.46h.36v.32h.36v-.52h.35v-.05h.36v-.34h.35v-.16h.36v-.26h.35v-.34h.36v-.38h.36v-.36h.35v-.12h.36v-.35h.35v-.36h.36v-.57h.35v-.35h.36v-.4h.35v-.56h.36v-.41h.36v-1h.35v-.13h.36v-.19h.35v-.8h.36v-.93h.35v.22h.36v-.69h.36v-.48h.35v-.71h.36v-.44h.35v-.46h.36v-.1h.35v-.61h.36v-.74h.36v-.74h.35v-.55h.36v.14h.35v-.32h.36v-.97h.35v.14h.36v-.17h.35v-.4h.36v-.09h.36v-.67h.35v-.24h.36v-.7h.35v.82h.36v-.72h.35v-.58h.36v.19h.36v.31h.35v-.77h.36v-1.54h.35v-.11h.36v-.05h.35v.4h.36v-.78h.36v-.63h.35v.13h.36h.35v-1.42h.36v.29h.35v-1.02h.36v.75h.35v-.7h.36v-.38h.36v-1.22h.35v1.41h.36v-1.44h.35v.08h.36v.11h.35v.94h.36v-1.48h.36v-.17h.35v.36h.36v-.9h.35v.78h.36v-.21h.35v-.06h.36v-.39h.36v-1.88h.35v.65h.36v-.76h.35v-.27h.36v.98h.35v-1.22h.36v-1.85h.36v1.2h.35v-.83h.36v-1.29h.35v-1.88h.36v-2.01h.35v1.41h.36v-2.28h.35v-2.63h.36v-1.75h.36v-1.21h.35v-2.5h.36v-2.76h.35v-1.85h.36v-.61h.35v-2.02h.36v-.25h.36v-1.01h.35v.61h.36v-2.73h.35v-.18h.36v2.58h.35v2.57h.36v-.52h.36v2.99h.35v1.31h.36v-.96h.35v2.58h.36v.19h.35v2.15h.36v.09h.35v1.65h.36v.68h.36v1.23h.35v.12h.36v.34h.35v.21h.36v.34h.35v.11h.36v2.25h.36v.05h.35v-.5h.36v.66h.35v-.22h.36v.32h.35v.55h.36v.86h.36v-.14h.35v.18h.36v-1.04h.35v-.75h.36v.58h.35v1.5h.36v-2.07h.35v1.92h.36v-.13h.36v.21h.35v-.99h.36v-.46h.35v-.01h.36v-.68h.35v-1.23h.36v.69h.36v.18h.35v.39h.36v-.59h.35v-1.09h.36v-.72h.35v-.25h.36v-3.11h.36v.6h.35v.37h.36v-1.06h.35v-1.77h.36v1.15h.35v-.41h.36v-1.19h.36v-1.25h.35v1.45h.36v.69h.35v1.25h.36v1.28h.35v1.63h.36v1.49h.35v.73h.36v2.81h.36v2.64h.35v1.26h.36v3.03h.35v2.66h.36v.78h.35v3.21h.36v.5h.36v2.84h.35v1.92h.36v1.86h.35v2.35h.36v1.62h.35v1.06h.36v1.02h.36v1.73h.35v1.55h.36v.91h.35v.32h.36v.38h.35v.78h.36v.34h.35v.89h.36v.17h.36v.34h.35v-.12h.36v.17h.35v.34h.36v-.26h.35v.38h.36v.04h.36h.35h.36h.35h.36h.35h.36h.36h.35h.36h.35h.36h.35h.36h.35h.36h.36h.35h.36h.35h.36h.35h.36h.36h.35h.36h.35h.36h.35h.36h.36h.35h.36h.35h.36h.35h.36h.35V323.28Z"/><clipPath id="c15"><use href="#p15"/></clipPath><path id="p16" d="M137.57 321.88h.36h.35h.36h.36h.35h.36v-.58h.36v-.48h.35v-.55h.36v-.64h.36v-.42h.35v-.45h.36v-.14h.35v-.14h.36v-.78h.36v.08h.35v-.53h.36v.31h.36v-.02h.35v.12h.36v.36h.36v.61h.35v-.16h.36v.09h.36v.36h.35v-.05h.36v.12h.35v.1h.36v.32h.36v.09h.35v-.25h.36v-.08h.36v-.14h.35v-.37h.36v-.26h.36v-.1h.35v-.26h.36v-.84h.36v-.63h.35v-.19h.36v-.97h.35v-.64h.36v-.66h.36v-.35h.35v-.08h.36v-.89h.36v-.43h.35v-.61h.36v.25h.36v-.91h.35v-.11h.36v.01h.36v-.53h.35v-.5h.36v.4h.35v-.69h.36v-.59h.36v-.26h.35v.21h.36v-.95h.36v-.13h.35v-.19h.36v.48h.36v-.6h.35v.02h.36v-.14h.36v-.18h.35v-.21h.36v.56h.35v.17h.36v.16h.36v-.58h.35v.99h.36v-.21h.36v.21h.35v-.14h.36v.01h.36v.61h.35v-.21h.36v.53h.36v-.29h.35v.36h.36h.36v.39h.35v-.24h.36v.34h.35v.33h.36v.6h.36v.31h.35v.44h.36v.18h.36v.16h.35v.66h.36v.67h.36v-.03h.35v.15h.36v.15h.36v.5h.35v.11h.36v.56h.35v.15h.36v.03h.36v.14h.35v.08h.36v-.18h.36v.48h.35v-.02h.36v-.4h.36v.43h.35v.03h.36v.16h.36v-.16h.35v-.28h.36v.52h.35v.09h.36v-.02h.36v-.69h.35v.46h.36v.15h.36v-.21h.35v-.11h.36v.17h.36v-.08h.35v-.04h.36v.04h.36v.23h.35v-.36h.36v.08h.35v-.14h.36v.37h.36v-.58h.35v.14h.36v-.44h.36v-.01h.35v.05h.36v.26h.36v-.3h.35v-.41h.36v.22h.36v-.71h.35v.13h.36v-.23h.35v-.33h.36v-.06h.36v-.15h.35v-.28h.36v-.04h.36v-.37h.35v-.33h.36v-.61h.36v-.71h.35v-.18h.36v-.19h.36v-.68h.35v-.5h.36v-.7h.35v-1.09h.36v-1.34h.36v-1.66h.35v-1.06h.36v-1.17h.36v-2.11h.35v-.95h.36v-1.12h.36v-2.25h.35v-1.52h.36v-2.08h.36v-.03h.35v-2.85h.36v-2.61h.36v-.61h.35v-3.58h.36v-1.36h.35v-5.87h.36v-1.96h.36v-3.96h.35v-4.78h.36v.03h.36v-3.73h.35v-1.36h.36v-.79h.36v-.69h.35h.36h.36h.35h.36h.35h.36h.36h.35h.36h.36h.35h.36h.36v3.4h.35v1.1h.36v4.24h.36v-.88h.35v2.06h.36v1.49h.35v.89h.36v-1.1h.36v1.91h.35v.36h.36v1.49h.36v.19h.35v3.59h.36v12.47h.36v9.39h.35v5.7h.36v4.3h.36v3.55h.35v2.95h.36v2.92h.35v1.94h.36v1.4h.36v.53h.35h.36h.36h.35h.36h.36h.35h.36h.36h.35h.36h.35h.36h.36h.35h.36h.36h.35h.36h.36h.35h.36h.36h.35h.36h.35h.36h.36h.35h.36h.36h.35h.36h.36h.35h.36h.36h.35h.36V321.88Z"/><clipPath id="c16"><use href="#p16"/></clipPath><path id="p17" d="M260.97 322.88v-59.03h.35v-3.91h.36v.25h.35v-.83h.36v-3.09h.36v-.02h.35v-.26h.36v1.19h.36v16.29h.35v2.71h.36v8.48h.36v3.2h.35v.97h.36v3.54h.36v.75h.35v-.18h.36v4.6h.35v-.92h.36v2.14h.36v.31h.35v.29h.36v1.83h.36v.54h.35v.08h.36v1.52h.36v-.81h.35v-.68h.36v-.37h.36v.77h.35v-1.26h.36v-.12h.35v.07h.36v-.35h.36v-1.62h.35v.52h.36v-.96h.36v-1.33h.35v-3.31h.36v-.05h.36v-.55h.35v-1.9h.36v-3.37h.36v-.62h.35v-2.17h.36v-2.24h.35v-1.97h.36v-1.98h.36v-1.67h.35v-2.28h.36v-.73h.36v-.1h.35v-1.83h.36v.97h.36v1.39h.35v-.1h.36v1.97h.36v1.47h.35v1.22h.36v1.87h.35v-1.07h.36v.96h.36v1.14h.35v1.28h.36v2.31h.36v.2h.35v.1h.36v2.08h.36v-1.03h.35v1.97h.36v1.36h.36v.39h.35v.62h.36v-2.04h.35v-.45h.36v-1.02h.36v-2.51h.35v-3.62h.36v-.16h.36v-4.59h.35v-1.04h.36v-5.34h.36v-2.65h.35v-1.79h.36v-2.21h.36v-.75h.35v.47h.36v1.53h.36v-1.48h.35v-.91h.36v8.82h.35v8.11h.36v7.62h.36v4.13h.35v3.98h.36v5.39h.36v3.75h.35v3.35h.36v3.08h.36v2.08h.35v.43h.36v.14h.36v.76h.35v.13h.36v-2.51h.35v-1.72h.36v-1.53h.36v-.83h.35v-.93h.36v-2.51h.36v-2.14h.35v-1.63h.36v-2.73h.36v-.6h.35v-2.88h.36v1.63h.36v1.94h.35v1.81h.36v.86h.35v1h.36v1.65h.36v5.39h.35v4.54h.36v.77h.36v1.15h.35v1.15h.36v.66h.36v.55h.35v.31h.36v.15h.36v.42h.35v.29h.36h.35v-.14h.36v.52h.36v.07h.35v.05h.36v-.05h.36v.04h.35v-.01h.36v.26h.36v-.13h.35v.2h.36v.05h.36v-.17h.35v.26h.36v-.24h.35v.14h.36v-.17h.36v.46h.35v-.19h.36v.01h.36h.35v-.2h.36v.23h.36h.35v-.14h.36v.11h.36v-.1h.35v-.22h.36v-.08h.36v-.2h.35v-.12h.36v-.07h.35v-.06h.36v-.25h.36v-.08h.35v.02h.36v.17h.36v-.4h.35v.32h.36v-.19h.36v.14h.35v-.32h.36v.13h.36v.39h.35v.27h.36v.05h.35v.24h.36v.19h.36v.05h.35v.05h.36v-.01h.36v.08h.35v-.31h.36v.05h.36v-.18h.35v.32h.36v.09h.36v-.02h.35v-.25h.36v-.11h.35v-.03h.36v-.12h.36v-.13h.35v-.17h.36v-.02h.36v-.22h.35v.23h.36v-.15h.36v-.07h.35v-.3h.36v.41h.36v-.02h.35v.06h.36v.41h.35v.28h.36v.2h.36v-.04h.35v.33h.36v.41h.36h.35v.05h.36v.03h.36v.03h.35v.15h.36v.39h.36v-.07h.35v-.01h.36v-.31h.35v.13h.36v-.31h.36v-.05h.35v.29h.36v-.67h.36v.06h.35v-.63h.36v.16h.36v-.19h.35v-.01h.36v-.11h.36v.04h.35v.63h.36v-.12h.35v.12h.36v.06h.36v-.18h.35v.49h.36v-.38h.36v.06h.35v-.15h.36v-1.26h.36v-2.18h.35v-5.46h.36v-9.11h.36v-8.77h.35v-8.74h.36v-4.38h.36v-5.01h.35v-1.39h.36v-.06h.35v1.85h.36v2.82h.36v6.01h.35v-.65h.36v2.26h.36v5.69h.35V322.88Z"/><clipPath id="c17"><use href="#p17"/></clipPath><path id="p18" d="M384.36 322.28h.36h.36h.36h.35h.36h.36h.36h.36h.36h.36h.36h.35h.36h.36h.36h.36h.36h.36v-.18h.36v-.02h.35v-.06h.36v-.12h.36v-.21h.36v.08h.36v-.02h.36v-.14h.36v-.39h.36v.09h.36v-.51h.35v.14h.36v-.4h.36v-.17h.36v-.26h.36v.13h.36v-.14h.36v-.15h.36v-.3h.35v.06h.36v.11h.36v-.34h.36v.15h.36v-.23h.36v-.24h.36v.27h.36v-.27h.35v.23h.36v-.17h.36v.01h.36v.22h.36v-.46h.36v.52h.36v-.1h.36v.1h.35v-.42h.36v.23h.36h.36v-.09h.36v-.05h.36v-.11h.36v.15h.36v-.49h.35v.41h.36v.02h.36v-.31h.36v.34h.36v-.07h.36v-.11h.36v.16h.36v-.22h.36v.12h.35v-.17h.36v-.01h.36v-.28h.36v.16h.36h.36v.18h.36h.36v-.27h.35v.02h.36v-.24h.36v.45h.36v-.39h.36v.14h.36v-.16h.36v.03h.36h.35v.13h.36v-.17h.36v-.05h.36v-.1h.36v-.04h.36v-.05h.36v.19h.36v-.46h.35v.27h.36v.02h.36v-.11h.36v.19h.36v-.29h.36v-.47h.36v.22h.36v.25h.35v-.02h.36v-.15h.36v-.17h.36v-.45h.36h.36v-.11h.36v-.09h.36v.04h.35v-.38h.36v-.29h.36v.04h.36v.06h.36v-.49h.36v-.13h.36v-.18h.36v-.04h.36v-.34h.35v.17h.36v-.32h.36v-.64h.36v-.14h.36v-.26h.36v.01h.36v-.28h.36v-.63h.35v.15h.36v-.03h.36v-.51h.36v-.01h.36v.04h.36v-.71h.36v.06h.36v-.24h.35v-.23h.36v-.57h.36v.39h.36v-.86h.36v-.3h.36v-.89h.36v.14h.36v-.58h.35v-.46h.36v-.35h.36v-.33h.36v-.02h.36v-.89h.36v-.54h.36v-1.03h.36v-.35h.35v-.92h.36v.1h.36v-1.28h.36v.15h.36v-.76h.36v-.31h.36v-1.8h.36v-1.05h.35v-.85h.36v-.36h.36v-.99h.36v-.5h.36v-1.95h.36v-.86h.36v-1h.36v-.68h.36v-1.99h.35v-.64h.36v-.71h.36v.69h.36v-2.26h.36v-1.15h.36v.18h.36v-1.04h.36v-.98h.35v-1.04h.36v-1.58h.36v1.8h.36v-2.02h.36v-.17h.36v-1.43h.36v.67h.36v.61h.35v-1.04h.36v-.49h.36v1.02h.36v-1.63h.36v-.11h.36v-1.07h.36v-.86h.36v-3.8h.35v-3.23h.36v-4.19h.36v-2.47h.36v-2.22h.36v-1.09h.36v-.25h.36v-1.61h.36h.35h.36h.36h.36h.36h.36h.36h.36h.36h.35h.36h.36h.36h.36v.31h.36v4.56h.36v5.7h.36v5.36h.35v5.25h.36v7.35h.36v3.67h.36v2.6h.36v1.95h.36v2.22h.36v2.33h.36v2.3h.35v1.94h.36v1.19h.36v1.96h.36v1.42h.36v1.12h.36v1.42h.36v1.37h.36v.83h.35v1.83h.36v1.26h.36v1.08h.36v.9h.36v.48h.36v1.02h.36v.75h.36v.86h.35v.67h.36v.03h.36v.07h.36v.2h.36v.21h.36v-.02h.36v-.23h.36v-.28h.35v-.21h.36v-.33h.36v.03h.36v-.52h.36v.01h.36v-.62h.36v-.28h.36V322.28Z"/><clipPath id="c18"><use href="#p18"/></clipPath><clipPath id="u19"><path d="M507.96 323.28h.35h.36h.35h.36h.36h.35h.36h.36h.35h.36h.36h.35h.36h.36h.35h.36h.35h.36h.36h.35h.36h.36v-.01h.35v-.82h.36v-.61h.36v-.25h.35v-.71h.36v-.33h.36v-.94h.35v-.28h.36v-.52h.35v-.72h.36v-.36h.36v-.02h.35v-.6h.36v-1.13h.36v-.02h.35v-1.16h.36v-.33h.36v-.9h.35v-.69h.36v-1.1h.36v-.35h.35v.57h.36v-1.7h.35v-1.48h.36v.05h.36v-2.23h.35v.55h.36v-1.59h.36v-2.65h.35v-.29h.36v-.2h.36v.57h.35v-3.03h.36v-.03h.36v-2.44h.35v1.52h.36v-.23h.35v-2.07h.36v-.72h.36v2.92h.35v-1.21h.36v-2.13h.36v.76h.35v-1.42h.36v-.55h.36v1.64h.35v-4.44h.36v-.25h.36v1.21h.35v1.6h.36v-1.35h.35v-1.5h.36v1.42h.36v-.14h.35v-4.36h.36v.67h.36v-.76h.35v-.14h.36v.1h.36v-3.44h.35v2.1h.36v-1.5h.36v-1.95h.35v4.13h.36v-2.69h.36v.73h.35v2.56h.36v-5.08h.35v.6h.36v-3.3h.36v.94h.35v-2.97h.36v7.44h.36v-4.11h.35v-1.89h.36v-4.85h.36v2.41h.35v-.39h.36v.58h.36v-.52h.35v-3.59h.36v-1.09h.35v5.71h.36v-2.22h.36v-.74h.35v-1.42h.36v-1.4h.36v2.58h.35v-3.49h.36v-2.9h.36v8.71h.35v-4.52h.36v.54h.36v6.76h.35v-6.21h.36v-.87h.35v-.67h.36v.09h.36v-.27h.35v5.31h.36v-.22h.36v-1.54h.35v-2.81h.36v-3.62h.36v4.85h.35v1.8h.36v.67h.36v-1.63h.35v.28h.36v-1.08h.35v1.47h.36v-.53h.36v1.23h.35v-.78h.36v-1.88h.36v.75h.35v3.34h.36v.22h.36v-1.21h.35v1.96h.36v-.36h.36v1.59h.35v-2.2h.36v7.25h.35v-8.59h.36v3.43h.36v-3h.35v.08h.36v2.5h.36v.62h.35v-1.59h.36v3.6h.36v-1.64h.35v-.81h.36v-.46h.36v2.24h.35v2.09h.36v-1.35h.36v-2.94h.35v4.9h.36v-1.69h.35v1.66h.36v-4.9h.36v2.56h.35v1.55h.36v-1.31h.36v3.17h.35v-1.09h.36v-.69h.36v4.81h.35v-4.86h.36v.44h.36v-5.53h.35v2.07h.36v-1.41h.35v-8.55h.36v8.13h.36v-2.05h.35v5.85h.36v2.06h.36v-4.21h.35v6.93h.36v-1.04h.36v-1.69h.35v.78h.36v-.37h.36v-.1h.35v-1.32h.36v-1.91h.35v2.55h.36v.86h.36v-5.75h.35v3.04h.36v-3.68h.36v-1.51h.35v-.2h.36v-2.78h.36v.81h.35v-6.1h.36v7.89h.36v-1.1h.35v1.75h.36v1.94h.35v-4.84h.36v4.06h.36v-4.75h.35v1.73h.36v-2.59h.36v-.65h.35v-2.22h.36v9.4h.36v4.65h.35v1.38h.36v1.4h.36v-1.75h.35v-.41h.36v-1.03h.35v2.59h.36v-2.37h.36v4.57h.35v1.44h.36v1.6h.36v.41h.35v1.36h.36v-.26h.36v3.69h.35v3.8h.36v2.53h.36v2.73h.35v1.99h.36v.64h.35v1.75h.36v2.84h.36v1.17h.35v.97h.36v2.5h.36v.83h.35v1.04h.36v.23h.36v.91h.35v.65h.36v.52h.36v.17h.35v.36h.36v.02h.36v.36h.35v.01h.36v.18h.35v.04h.36v.14h.36v.37h.35v.01h.36v.02h.36v.06h.35V323.28Z"/></clipPath><path id="p19" d="M507.96 323.28h.35h.36h.35h.36h.36h.35h.36h.36h.35h.36h.36h.35h.36h.36h.35h.36h.35h.36h.36h.35h.36h.36h.35v-.29h.36v-.53h.36v-.13h.35v-.31h.36v-.27h.36v-.3h.35v-.32h.36v-.21h.35v-.38h.36v-.16h.36v-.12h.35v-.57h.36v.06h.36v-.27h.35v-.41h.36v-.01h.36v-.66h.35v.13h.36v-.5h.36v-.2h.35v-.32h.36v-.19h.35v-.56h.36v.05h.36v-.46h.35v-.22h.36v-.41h.36v-.41h.35v-.02h.36v-.29h.36h.35v-.38h.36v-.19h.36v.29h.35v-.52h.36v.21h.35v-.62h.36v.03h.36v-.27h.35v.1h.36v.24h.36v-.54h.35v.1h.36v-.66h.36v.6h.35v-.86h.36v.66h.36v-.96h.35v-.37h.36v.44h.35v-.53h.36v.15h.36v-.21h.35v-.35h.36v.46h.36v-.16h.35v-.59h.36v.13h.36v-.88h.35v.13h.36v-.09h.36h.35v.15h.36v-.35h.36v.25h.35v-.66h.36v.26h.35v-.38h.36v-.12h.36v-.09h.35v-.17h.36v-.41h.36v.48h.35v-.9h.36v.74h.36h.35v-.64h.36v.09h.36v-.65h.35v.04h.36v-.31h.35v.52h.36v-.77h.36v.75h.35v-.33h.36v-.03h.36v-.06h.35v-.42h.36v.12h.36v-.03h.35v-.15h.36v-.34h.36v1.08h.35v-.45h.36v-.61h.35v.21h.36h.36v-.45h.35v.16h.36v.28h.36v-.06h.35v-.67h.36v.01h.36v.31h.35v.19h.36v.31h.36v-.35h.35v.24h.36v.29h.35v1.07h.36v-1.64h.36v.71h.35v-.6h.36v.73h.36v.85h.35v-.38h.36v-.59h.36v.91h.35v-.3h.36v-.35h.36v.53h.35v.1h.36v.67h.35v.04h.36v-.48h.36v.34h.35v.24h.36v.19h.36v.2h.35v-.49h.36v.35h.36v.16h.35v.42h.36v-.78h.36v.7h.35v.7h.36v-.25h.36v-.46h.35v.37h.36v.38h.35v-.16h.36v-.83h.36v1.12h.35v-.41h.36v-.46h.36v.53h.35v.39h.36v-.62h.36v.65h.35v-.47h.36v.45h.36v.02h.35v.02h.36v-.26h.35v-.02h.36v-.02h.36v.25h.35v-.6h.36v.21h.36v.1h.35v.11h.36v.37h.36v-.5h.35v-.12h.36v.04h.36v.08h.35v-.41h.36h.35v.23h.36v-.94h.36v.16h.35v.26h.36v-.27h.36v-.35h.35v.33h.36v-.18h.36v.18h.35v-.11h.36v-.17h.36v-.26h.35v.02h.36v-.22h.35v-.37h.36v-.34h.36v.09h.35v-.26h.36v-.01h.36v-.83h.35v-.33h.36v.23h.36v.31h.35v.4h.36v-.28h.36v-.06h.35v.24h.36v.17h.35v.77h.36v.77h.36v.49h.35v1.01h.36v.75h.36v1.21h.35v.17h.36v.62h.36v.86h.35v.92h.36v.85h.36v1.2h.35v.29h.36v.6h.35v.85h.36v.17h.36v.79h.35v.54h.36v.54h.36v.37h.35v.02h.36v.12h.36v.2h.35v-.11h.36v.41h.36v.1h.35v.08h.36v.34h.36v-.25h.35v.23h.36v.16h.35v-.15h.36v.28h.36v.05h.35v.15h.36v-.07h.36v.07h.35V323.28Z"/><clipPath id="c19"><use href="#p19"/></clipPath><path id="p20" d="M13.98 406.48h.35h.36h.35h.36h.35h.36h.36h.35h.36h.35h.36h.35h.36h.36v-.03h.35v-.13h.36v-.71h.35v-.01h.36v-.34h.35v-.45h.36v-1.11h.36v-1.21h.35v-1.35h.36v-1.19h.35v-3.16h.36v-3.7h.35v-4.05h.36v-3.94h.36v-5.01h.35v-4.26h.36v-4.89h.35v-5.16h.36v-3.23h.35v-3.85h.36v-3.02h.35v-5.34h.36v-1.26h.36v-2.8h.35v2.93h.36v.36h.35v3.87h.36v4.4h.35v6.18h.36v5.36h.36v4.4h.35v.83h.36v2.89h.35v3.16h.36v1.58h.35v1.49h.36v-.4h.36v1.36h.35v1.27h.36v.01h.35v-.1h.36v.32h.35v-.37h.36v-.3h.35v-.58h.36v-.22h.36v-1.44h.35v.23h.36v.86h.35v-.01h.36v.57h.35v-.71h.36v.04h.36v-.79h.35v.65h.36v-1.23h.35v-.21h.36v-1.37h.35v-1.55h.36v-.46h.36v-1.4h.35v-3.03h.36v-2.6h.35v-4.18h.36v-.03h.35v-3.2h.36v-5.81h.35v-.21h.36v-1.09h.36v3.4h.35v6.14h.36v3.96h.35v2.08h.36v1.49h.35v3.25h.36v.03h.36v-.64h.35v-.73h.36v-.79h.35v-.4h.36v-1.4h.35v-.78h.36v-1.38h.36v-1.05h.35v-1.66h.36v-1.78h.35v-1.45h.36v.17h.35v-1.74h.36v-1.1h.36v-.37h.35v-1.67h.36v-.52h.35v-2.47h.36v-2.84h.35v.11h.36v-.04h.35v-.07h.36v-.39h.36v6.06h.35v2.92h.36v2.39h.35v.93h.36v-1.93h.35v-2.87h.36v-1.57h.36v-1.7h.35v-2.45h.36v-1.72h.35v-.43h.36v1.51h.35v-.06h.36v2.89h.36v2.12h.35v.78h.36v-2.28h.35v-.05h.36v-.93h.35v-2.59h.36v1.61h.35v-2.68h.36v3.13h.36v1.45h.35v.87h.36v3.42h.35v2.7h.36v4.63h.35v1.32h.36v1.29h.36v3.08h.35v1.15h.36v2.17h.35v.95h.36v1.04h.35v2.17h.36v-.84h.36v.53h.35v-.88h.36v.53h.35v.67h.36v-1.36h.35v1.4h.36v.78h.35v.87h.36v1.78h.36v.01h.35v1.8h.36v.94h.35v2.26h.36v-.24h.35v1.09h.36v1.02h.36v.41h.35v.06h.36v.36h.35v-.17h.36v-.48h.35h.36v.33h.36v-.99h.35v-.81h.36v-.33h.35v-.13h.36v-.65h.35v-.04h.36v-1.16h.36v.64h.35v-.22h.36v-.68h.35v.68h.36v.65h.35v.1h.36v.25h.35v.22h.36v.17h.36v-.28h.35v-.59h.36v-.09h.35v.2h.36v-.91h.35v-.45h.36v-1.18h.36v.8h.35v-.2h.36v1.11h.35v.09h.36v2.05h.35v1.09h.36v1.65h.36v.72h.35v1.3h.36v.56h.35v1.15h.36v.49h.35v.74h.36v.36h.35v.72h.36v.35h.36v.64h.35v.47h.36v.39h.35v.37h.36v.31h.35v.46h.36v.02h.36v.29h.35v.27h.36v.35h.35v.1h.36v.01h.35v-.03h.36v.04h.36v.08h.35v.03h.36h.35h.36h.35h.36h.35h.36h.36h.35h.36h.35h.36h.35h.36h.36h.35h.36h.35h.36h.35h.36h.36h.35h.36h.35h.36h.35h.36h.35V406.48Z"/><clipPath id="c20"><use href="#p20"/></clipPath><path id="p21" d="M137.57 406.88v-.2h.36v.17h.35v-.4h.36v.25h.36v-.21h.35v-.11h.36v-.05h.36v-.06h.35v-.23h.36v-.11h.36h.35v-.26h.36v-.06h.35v-.12h.36v-.35h.36v-.12h.35v.2h.36v-.14h.36v.01h.35v.03h.36v-.02h.36v-.15h.35v.19h.36v-.1h.36v-.28h.35v.18h.36v-.01h.35v-.07h.36v.03h.36v-.04h.35v.01h.36v.42h.36v-.39h.35v.01h.36v-.37h.36v.22h.35v-.27h.36v-.15h.36v-.01h.35v-.02h.36v-.29h.35v-.33h.36v-.5h.36v-.82h.35v-.54h.36v-.78h.36v-.85h.35v-1.16h.36v-1.25h.36v-1.61h.35v-.65h.36v-1.02h.36v-1h.35v-.71h.36v-1.09h.35v.34h.36v1.11h.36v.07h.35v1.25h.36v-.08h.36v.67h.35v.46h.36v.83h.36v.06h.35v.39h.36v.01h.36v.63h.35v-.57h.36v.87h.35v-.07h.36v.09h.36v-.23h.35v-.01h.36v-.08h.36v-.16h.35v.56h.36v.12h.36v-.02h.35v-.21h.36v.24h.36v-.04h.35v.22h.36v-.2h.36v-.4h.35v-.2h.36v.03h.35v.09h.36v.13h.36v.03h.35v-.16h.36v.28h.36v-.32h.35v.33h.36v.1h.36v-.43h.35v.33h.36v-.67h.36v.25h.35v.06h.36v.01h.35v-.32h.36v.53h.36v-.08h.35v.18h.36v-.02h.36v-.14h.35v-.29h.36v.04h.36v.24h.35v.06h.36v-.09h.36v.14h.35v-1.2h.36v.24h.35v-.84h.36v.21h.36v-.33h.35v-.5h.36v-.93h.36v.08h.35v-.54h.36v-.35h.36v-.34h.35v-.25h.36v-.25h.36v-.47h.35v-.1h.36v-1.23h.35v.62h.36v-.35h.36v-.32h.35v-.98h.36v-.49h.36v-.78h.35v-.39h.36v-.28h.36v-1.18h.35v-.06h.36v-1.38h.36v-.66h.35v-1.83h.36v-1.25h.35v-1.18h.36v-1.41h.36v-1.58h.35v-.4h.36v-2.44h.36v-1.42h.35v.1h.36v-2.91h.36v-2.17h.35v-1.36h.36v-2.46h.36v-.55h.35v-2.56h.36v-2.89h.35v-1.27h.36v-2.32h.36v.93h.35v-1.49h.36v-1.32h.36v.35h.35v-2.27h.36v-.84h.36v-.6h.35v-1.53h.36v-1.93h.36v.88h.35v-1.15h.36v-2.02h.36v1.79h.35v-.89h.36v-.02h.35v3.68h.36v.34h.36v-.81h.35v3.41h.36v2.32h.36v1.81h.35v1.97h.36v.43h.36v2.76h.35v2.35h.36v1.16h.36v3.44h.35v-1.01h.36v.37h.35v2.47h.36v1.38h.36v1.48h.35v.1h.36v-.94h.36v.52h.35v-.5h.36v.98h.36v.06h.35v.52h.36v.94h.36v1.09h.35v.61h.36v1.35h.35v-.95h.36v-1.81h.36v-3.8h.35v-3.06h.36v-.68h.36v.58h.35v-1.14h.36v2.33h.36v2.11h.35v1.91h.36v2.24h.36v.12h.35v4.21h.36v1.06h.35v.8h.36v2.07h.36v1.98h.35v2.57h.36v-.99h.36v1.13h.35v.51h.36v.85h.36v-.25h.35v-1.28h.36v-.88h.36v-2.27h.35v-1.25h.36v-1.95h.35v-2.1h.36v-.27h.36v.26h.35v.97h.36v-.12h.36v.88h.35v.09h.36v1.46h.36v-.63h.35v5.76h.36v5.27h.36v2.09h.35v1.47h.36v.54h.35v1.25h.36v.21h.36h.35v-.23h.36v.49h.36v-.21h.35v.19h.36v.06h.36v-.28h.35v.13h.36v.48h.36v.31h.35v-8.9h.36V406.88Z"/><clipPath id="c21"><use href="#p21"/></clipPath><path id="p22" d="M260.97 406.88h.35h.36h.35h.36h.36h.35h.36v-.37h.36v-2.02h.35v-1.63h.36v-1.56h.36v-2.12h.35v-2.4h.36v-1.53h.36v-2.4h.35v-2.38h.36v-1.64h.35v-1.08h.36v-1.54h.36v-1.77h.35v-2.48h.36v-1.71h.36v-3.29h.35v-3.15h.36v-5.71h.36v-3.88h.35v-.51h.36v-3.45h.36v-1.92h.35v3.46h.36v.14h.35v-.96h.36v2.25h.36v.41h.35v.75h.36v-.41h.36v-3.44h.35v3.07h.36v.92h.36v-2.76h.35v.5h.36v-1.46h.36v.49h.35v-1.41h.36v-1.52h.35v.83h.36v-.97h.36v1.11h.35v2.63h.36v-1.39h.36v.91h.35v2.26h.36v-2.04h.36v3.09h.35v-1.11h.36v-1.08h.36v1.61h.35v-3.26h.36v1.14h.35v-2.08h.36v.86h.36v-3.71h.35v2.53h.36v-.58h.36v-.21h.35v.25h.36v.5h.36v-.09h.35v-2.6h.36v.23h.36v.47h.35v-.7h.36v1.2h.35v-1.3h.36v-1.11h.36v-.57h.35v-.29h.36v-1.48h.36v-.02h.35v1.6h.36v.12h.36v-.07h.35v2.58h.36v-2.34h.36v1.21h.35v1.97h.36v.87h.36v2.65h.35v.64h.36v3.05h.35v4.32h.36v2.01h.36v1.68h.35v1.87h.36v2.35h.36v.57h.35v2.6h.36v.53h.36v1.18h.35v.66h.36v1.31h.36v1.57h.35v-1.26h.36v.55h.35v1.34h.36v-1.4h.36v1.85h.35v-.26h.36v.03h.36v1.41h.35v-.92h.36v1.09h.36v-.11h.35v-.4h.36v.37h.36v.95h.35v-.02h.36v-.5h.35v1.32h.36v.55h.36v.75h.35v.03h.36v.98h.36v.3h.35v.87h.36v-.55h.36v-.2h.35v1.16h.36v-.1h.36v.45h.35v-.57h.36v1.16h.35v.67h.36h.36v.23h.35v.12h.36v.69h.36v-.25h.35v.79h.36v.34h.36v.29h.35v.25h.36v.66h.36v.51h.35v.13h.36v.07h.35v.23h.36v.62h.36v-.22h.35v.33h.36v.17h.36v.35h.35v-.51h.36v.29h.36v.14h.35v.01h.36v-.38h.36v.12h.35v.04h.36v.12h.36v-.2h.35v-.1h.36v-.01h.35v-.22h.36v.1h.36v-.45h.35v-.04h.36v-.15h.36v.13h.35v-.53h.36v.55h.36v-.21h.35v.3h.36v-.24h.36v.13h.35v.32h.36v.03h.35v-.38h.36v.32h.36v-.16h.35v.73h.36v-.12h.36v.01h.35v-.27h.36v.33h.36v.13h.35v-.06h.36v.55h.36v.28h.35v.34h.36v.06h.35v.34h.36v-.05h.36v.41h.35h.36v.37h.36v-.13h.35v-.1h.36v-.02h.36v.12h.35v-.12h.36v-.2h.36v.27h.35v-.36h.36v-.11h.35v-.64h.36v-.28h.36v-.27h.35v-.38h.36v-1.19h.36v-2.11h.35v-1.35h.36v-1.88h.36v-1.54h.35v-1.31h.36v-1.52h.36v-.32h.35v-.38h.36v1.1h.35v1.59h.36v1.37h.36v2.48h.35v1.83h.36v1.92h.36v1.43h.35v1.63h.36v1.51h.36v.94h.35v.85h.36v.61h.36v.19h.35h.36h.35h.36h.36h.35h.36h.36h.35h.36h.36h.35h.36h.36h.35h.36h.36h.35h.36h.35h.36h.36h.35h.36h.36h.35V406.88Z"/><clipPath id="c22"><use href="#p22"/></clipPath><path id="p23" d="M384.36 406.08h.36v-.09h.36v-.04h.36v-.14h.35v-.22h.36v-.09h.36v.03h.36v-.1h.36v-.73h.36v-.75h.36v-.5h.36v-1.16h.35v-2.44h.36v-1.96h.36v-.47h.36v.03h.36v.6h.36v.78h.36v.8h.36v.64h.35v.83h.36v.25h.36v.34h.36v.67h.36v.07h.36v.34h.36v.31h.36v-.13h.36v.29h.35v-.05h.36v.21h.36v.13h.36v-.56h.36v.32h.36v.04h.36v.49h.36v-.18h.35v-.04h.36v-.19h.36v-.2h.36v-.07h.36v.02h.36v-.09h.36v-.1h.36v.06h.35v.07h.36v-.36h.36v.07h.36v-.22h.36v.24h.36v-.11h.36v.05h.36v-.23h.35v-.27h.36v.16h.36v.11h.36v-.33h.36v.15h.36v.19h.36v-.01h.36v.21h.35v-.25h.36v.27h.36v.01h.36v-.02h.36v-.15h.36v.08h.36v.05h.36v.15h.36v.15h.35v.02h.36v-.05h.36v-.33h.36v-.03h.36v.3h.36v.1h.36v-.35h.36v-.53h.35v-.51h.36v-.19h.36v-.26h.36v-.52h.36v-1.49h.36v-1.33h.36v-1.34h.36v-1.78h.35v-3.57h.36v-3.3h.36v-6.21h.36v-7.22h.36v-8.36h.36v-8.69h.36v-6.42h.36v-8.99h.35h.36h.36h.36h.36h.36h.36h.36h.35h.36h.36h.36h.36h.36h.36h.36h.35h.36h.36h.36h.36h.36h.36h.36h.36h.35v8.81h.36v7.51h.36v7.15h.36v6.69h.36v6.65h.36v4.82h.36v5.09h.36v3.26h.35v2.65h.36v3.33h.36v2.03h.36v1.29h.36v1.73h.36v.74h.36v.57h.36v.64h.35v.58h.36v.27h.36v-.14h.36v.2h.36v.16h.36v.05h.36v.01h.36h.35h.36h.36h.36h.36h.36h.36h.36h.35h.36h.36h.36h.36h.36h.36h.36h.35h.36h.36h.36h.36h.36h.36h.36h.36h.35h.36h.36h.36h.36h.36h.36h.36h.35h.36h.36h.36h.36h.36h.36h.36h.35h.36h.36h.36h.36h.36h.36h.36h.35h.36h.36h.36h.36h.36h.36h.36h.35h.36h.36h.36h.36h.36h.36h.36h.36h.35h.36h.36h.36h.36h.36h.36h.36h.35h.36h.36h.36h.36h.36h.36h.36h.35h.36h.36h.36h.36h.36h.36h.36h.35h.36h.36h.36h.36h.36h.36h.36h.35h.36h.36h.36h.36h.36h.36h.36h.35h.36h.36h.36h.36h.36h.36h.36V406.08Z"/><clipPath id="c23"><use href="#p23"/></clipPath><path id="p24" d="M507.96 406.48v-64.09h.35h.35v30.91h.36v16.94h.35v7.34h.36v2.33h.35v1.64h.36v1.42h.35v.82h.36v.56h.35v.23h.36v.58h.35v.26h.36v-.06h.35v.2h.36v.16h.35v-.28h.36v.26h.35v.3h.36v.19h.35v-.38h.36v.03h.35v-.55h.36v-.15h.35v-.09h.36v-.33h.35v-.69h.36v-.94h.35v-1.2h.36v-.73h.35v-.39h.36v-.79h.35v-.33h.36v-.42h.35v.14h.36v-.35h.35v-.11h.36v-.02h.35v-.01h.36v-.84h.35v.72h.36v-.15h.35v-.33h.35v-.51h.36v-.25h.35v-.41h.36v-.11h.35v-.41h.36v.1h.35v.08h.36v-.81h.35v.09h.36v.26h.35v-.2h.36v.04h.35v.59h.36v.16h.35v.39h.36v-.22h.35v.15h.36v1.04h.35v-.48h.36v.68h.35v.08h.36v.37h.35v.24h.36v.25h.35v.29h.36v.33h.35v-.05h.36v.62h.35v.24h.36v.26h.35v.78h.36v.6h.35v.65h.36v.71h.35v.15h.36v.28h.35v.01h.36v.75h.35v.09h.36v.33h.35v-.01h.35v.3h.36v-.16h.35v.02h.36v.34h.35v-.06h.36v.2h.35v.05h.36v.11h.35v-.07h.36v-.25h.35v.27h.36v-.06h.35v-.03h.36h.35v.15h.36v-.12h.35v.15h.36v-.22h.35v.35h.36v-.18h.35v.24h.36v-.24h.35v-.09h.36v.25h.35v.03h.36v-.24h.35v.05h.36v-.13h.35v.07h.36v.16h.35v-.02h.36v.01h.35v.02h.36v.07h.35v-.01h.36v-.19h.35v-.01h.36v-.03h.35v.32h.35v-.24h.36v-.08h.35v.02h.36v.1h.35v.06h.36v-.06h.35v.12h.36v.04h.35v-.11h.36v-.18h.35v.23h.36v-.02h.35v.12h.36h.35v-.12h.36v-.2h.35v.32h.36v-.2h.35v.16h.36v-.4h.35v.02h.36v.42h.35v-.06h.36v-.32h.35v.19h.36v.19h.35h.36v-.32h.35v.05h.36v.2h.35v-.07h.36v-.13h.35v.08h.36v.02h.35v.17h.36v-.06h.35v-.11h.36v.17h.35v-.05h.36v.02h.35v-.11h.35v.14h.36v-.1h.35v.02h.36v-.22h.35v.26h.36v-.12h.35v-.03h.36v.09h.35v-.02h.36v-.11h.35v.23h.36h.35v-.08h.36v-.2h.35v.28h.36v-.32h.35v.3h.36v-.15h.35v.1h.36v.07h.35h.36v-.37h.35v.37h.36v-.04h.35v.04h.36v-.26h.35v.24h.36v-.08h.35v.1h.36v-.28h.35v.1h.36v.11h.35v-.15h.36v.11h.35v.11h.36v-.02h.35v.02h.36v-.02h.35v-.24h.36v.26h.35v-.19h.35v-.01h.36v.18h.35v-.3h.36v.32h.35v-.06h.36v-.05h.35v.11h.36v-.14h.35v.09h.36v-.02h.35v-.01h.36v-.02h.35v-.02h.36v.12h.35v-.16h.36v.04h.35h.36v.12h.35v-.18h.36v-.12h.35v.22h.36h.35v.08h.36h.35v-.23h.36v.23h.35h.36v-.08h.35v.03h.36v.05h.35v-.14h.36v-.02h.35v.16h.36v-.04h.35v-.21h.36v.25h.35v-.05h.36v.05h.35v-.21h.36v.21h.35h.35h.36h.35h.36h.35h.36h.35v-.02h.36v.02h.35v-.01h.36v-.09h.35V406.48Z"/><clipPath id="c24"><use href="#p24"/></clipPath></defs>
<rect width="601" height="436" fill="#fff"/>
<g class="t">
<g><use href="#p0" fill="#3d91cd"/><g clip-path="url(#c0)"><rect x="15.58" y="0.40" width="0.5" height="67.09" fill="#fff" opacity="0.22"/><rect x="19.15" y="0.40" width="0.5" height="67.09" fill="#fff" opacity="0.22"/><rect x="22.72" y="0.40" width="0.5" height="67.09" fill="#fff" opacity="0.22"/><rect x="26.29" y="0.40" width="0.5" height="67.09" fill="#fff" opacity="0.22"/><rect x="29.87" y="0.40" width="0.5" height="67.09" fill="#fff" opacity="0.22"/><rect x="33.44" y="0.40" width="0.5" height="67.09" fill="#fff" opacity="0.22"/><rect x="37.01" y="0.40" width="0.5" height="67.09" fill="#fff" opacity="0.22"/><rect x="40.58" y="0.40" width="0.5" height="67.09" fill="#fff" opacity="0.22"/><rect x="44.15" y="0.40" width="0.5" height="67.09" fill="#fff" opacity="0.22"/><rect x="47.72" y="0.40" width="0.5" height="67.09" fill="#fff" opacity="0.22"/><rect x="51.29" y="0.40" width="0.5" height="67.09" fill="#fff" opacity="0.22"/><rect x="54.86" y="0.40" width="0.5" height="67.09" fill="#fff" opacity="0.22"/><rect x="58.43" y="0.40" width="0.5" height="67.09" fill="#fff" opacity="0.22"/><rect x="62.00" y="0.40" width="0.5" height="67.09" fill="#fff" opacity="0.22"/><rect x="65.57" y="0.40" width="0.5" height="67.09" fill="#fff" opacity="0.22"/><rect x="69.14" y="0.40" width="0.5" height="67.09" fill="#fff" opacity="0.22"/><rect x="72.71" y="0.40" width="0.5" height="67.09" fill="#fff" opacity="0.22"/><rect x="76.28" y="0.40" width="0.5" height="67.09" fill="#fff" opacity="0.22"/><rect x="79.85" y="0.40" width="0.5" height="67.09" fill="#fff" opacity="0.22"/><rect x="83.42" y="0.40" width="0.5" height="67.09" fill="#fff" opacity="0.22"/><rect x="86.99" y="0.40" width="0.5" height="67.09" fill="#fff" opacity="0.22"/><rect x="90.56" y="0.40" width="0.5" height="67.09" fill="#fff" opacity="0.22"/><rect x="94.13" y="0.40" width="0.5" height="67.09" fill="#fff" opacity="0.22"/><rect x="97.71" y="0.40" width="0.5" height="67.09" fill="#fff" opacity="0.22"/><rect x="101.28" y="0.40" width="0.5" height="67.09" fill="#fff" opacity="0.22"/><rect x="104.85" y="0.40" width="0.5" height="67.09" fill="#fff" opacity="0.22"/></g><rect x="13.98" y="0.40" width="91.05" height="67.09" fill="none" stroke="#3a3a3a" stroke-width="0.3"/><path d="M31.83 0.40v0.9M31.83 67.49v-0.9M49.68 0.40v0.9M49.68 67.49v-0.9M67.53 0.40v0.9M67.53 67.49v-0.9M85.39 0.40v0.9M85.39 67.49v-0.9M103.24 0.40v0.9M103.24 67.49v-0.9M13.98 7.59h0.9M105.02 7.59h-0.9M13.98 17.57h0.9M105.02 17.57h-0.9M13.98 27.55h0.9M105.02 27.55h-0.9M13.98 37.54h0.9M105.02 37.54h-0.9M13.98 47.52h0.9M105.02 47.52h-0.9M13.98 57.50h0.9M105.02 57.50h-0.9M13.98 67.49h0.9M105.02 67.49h-0.9" stroke="#3a3a3a" stroke-width="0.3" fill="none"/><rect x="13.98" y="67.09" width="91.05" height="5.59" fill="url(#gg)" stroke="#555" stroke-width="0.2"/><text x="12.68" y="8.89" text-anchor="end">3000</text><text x="12.68" y="18.87" text-anchor="end">2500</text><text x="12.68" y="28.85" text-anchor="end">2000</text><text x="12.68" y="38.84" text-anchor="end">1500</text><text x="12.68" y="48.82" text-anchor="end">1000</text><text x="12.68" y="58.80" text-anchor="end">500</text><text x="12.68" y="68.79" text-anchor="end">0</text><text x="13.98" y="78.27" text-anchor="middle">0</text><text x="31.83" y="78.27" text-anchor="middle">50</text><text x="49.68" y="78.27" text-anchor="middle">100</text><text x="67.53" y="78.27" text-anchor="middle">150</text><text x="85.39" y="78.27" text-anchor="middle">200</text><text x="103.24" y="78.27" text-anchor="middle">250</text><text x="60.20" y="81.67" text-anchor="middle" class="b">Grayscale values</text><text transform="translate(3.08 36.70) rotate(-90)" text-anchor="middle" class="b">Frequency distribution</text></g>
<g><path d="M137.57 66.89h.36h.35h.36h.36h.35h.36h.36h.35h.36h.36h.35h.36h.35h.36h.36h.35h.36h.36h.35h.36h.36h.35h.36h.36h.35h.36h.35h.36h.36h.35h.36h.36h.35h.36h.36h.35h.36h.36h.35h.36h.35h.36h.36h.35h.36h.36h.35h.36h.36h.35h.36h.36h.35h.36h.35h.36h.36h.35h.36h.36h.35h.36h.36h.35h.36h.36h.35h.36h.35h.36h.36h.35h.36h.36h.35h.36h.36h.35h.36h.36h.35h.36h.36h.35h.36h.35h.36h.36h.35h.36h.36h.35h.36h.36h.35h.36h.36h.35h.36h.35h.36h.36h.35h.36h.36h.35h.36h.36h.35h.36h.36h.35h.36h.35h.36h.36h.35h.36h.36h.35h.36h.36h.35h.36h.36h.35h.36h.35h.36h.36h.35h.36h.36h.35h.36h.36h.35h.36h.36h.35h.36h.35h.36h.36h.35h.36h.36h.35h.36h.36v-32.83h.35v-4.41h.36v-1.68h.36v-11.86h.35v-3.73h.36v3.93h.35v-3.28h.36v-6.95h.36v-3.81h.35v1.84h.36v8.82h.36v-6.66h.35v3.38h.36v-9.65h.36h.35v4.35h.36v3h.36v-7.35h.35h.36h.36h.35h.36v.09h.35h.36h.36v-.09h.35v3.98h.36v.83h.36v-3.27h.35v11.17h.36v-.46h.36v10.29h.35v-2.5h.36v-.75h.36v.84h.35v1h.36v5.18h.35v-1.07h.36v2.67h.36v-.09h.35v.86h.36v5.05h.36v-1.94h.35v2.52h.36v-2.44h.36v2.11h.35v.81h.36v9.43h.36v-5.18h.35v-2.24h.36v-.95h.35v-3.9h.36v.43h.36v.44h.35v-4.85h.36v-4.36h.36v-5.76h.35v4.13h.36v3.05h.36v.34h.35v-.44h.36v3.99h.36v1.5h.35v1.53h.36v4.02h.35v3.9h.36v.22h.36v1.59h.35v1.44h.36v3.88h.36v2.79h.35v1.11h.36v-8.6h.36v-.55h.35v-3.14h.36v-.68h.36v1.28h.35v-3.76h.36v.42h.35v-4.78h.36v3.1h.36v-2.9h.35v2.99h.36v-5.51h.36v-.59h.35v-6.64h.36v8.69h.36v-3.65h.35v5.62h.36v6.08h.36v8.74h.35v2.81h.36v6.31h.35v2.61h.36v-.57h.36v-2.81h.35v-.65h.36v-.99h.36v-1.45h.35v-.22h.36v-2.38h.36v-.64h.35v.12h.36v.13h.36v-5.55h.35v-2.01h.36V66.89Z" fill="#3d91cd" opacity="0.45"/><use href="#p1" fill="#3d91cd"/><rect x="156.94" y="31.95" width="0.8" height="34.94" fill="#3d91cd" opacity="0.45"/><g clip-path="url(#c1)"><rect x="139.18" y="0.00" width="0.5" height="66.89" fill="#fff" opacity="0.22"/><rect x="142.76" y="0.00" width="0.5" height="66.89" fill="#fff" opacity="0.22"/><rect x="146.34" y="0.00" width="0.5" height="66.89" fill="#fff" opacity="0.22"/><rect x="149.92" y="0.00" width="0.5" height="66.89" fill="#fff" opacity="0.22"/><rect x="153.49" y="0.00" width="0.5" height="66.89" fill="#fff" opacity="0.22"/><rect x="157.07" y="0.00" width="0.5" height="66.89" fill="#fff" opacity="0.22"/><rect x="160.65" y="0.00" width="0.5" height="66.89" fill="#fff" opacity="0.22"/><rect x="164.23" y="0.00" width="0.5" height="66.89" fill="#fff" opacity="0.22"/><rect x="167.81" y="0.00" width="0.5" height="66.89" fill="#fff" opacity="0.22"/><rect x="171.39" y="0.00" width="0.5" height="66.89" fill="#fff" opacity="0.22"/><rect x="174.96" y="0.00" width="0.5" height="66.89" fill="#fff" opacity="0.22"/><rect x="178.54" y="0.00" width="0.5" height="66.89" fill="#fff" opacity="0.22"/><rect x="182.12" y="0.00" width="0.5" height="66.89" fill="#fff" opacity="0.22"/><rect x="185.70" y="0.00" width="0.5" height="66.89" fill="#fff" opacity="0.22"/><rect x="189.28" y="0.00" width="0.5" height="66.89" fill="#fff" opacity="0.22"/><rect x="192.86" y="0.00" width="0.5" height="66.89" fill="#fff" opacity="0.22"/><rect x="196.43" y="0.00" width="0.5" height="66.89" fill="#fff" opacity="0.22"/><rect x="200.01" y="0.00" width="0.5" height="66.89" fill="#fff" opacity="0.22"/><rect x="203.59" y="0.00" width="0.5" height="66.89" fill="#fff" opacity="0.22"/><rect x="207.17" y="0.00" width="0.5" height="66.89" fill="#fff" opacity="0.22"/><rect x="210.75" y="0.00" width="0.5" height="66.89" fill="#fff" opacity="0.22"/><rect x="214.33" y="0.00" width="0.5" height="66.89" fill="#fff" opacity="0.22"/><rect x="217.90" y="0.00" width="0.5" height="66.89" fill="#fff" opacity="0.22"/><rect x="221.48" y="0.00" width="0.5" height="66.89" fill="#fff" opacity="0.22"/><rect x="225.06" y="0.00" width="0.5" height="66.89" fill="#fff" opacity="0.22"/><rect x="228.64" y="0.00" width="0.5" height="66.89" fill="#fff" opacity="0.22"/></g><rect x="137.57" y="0.00" width="91.25" height="66.89" fill="none" stroke="#3a3a3a" stroke-width="0.3"/><path d="M155.46 0.00v0.9M155.46 66.89v-0.9M173.35 0.00v0.9M173.35 66.89v-0.9M191.25 0.00v0.9M191.25 66.89v-0.9M209.14 0.00v0.9M209.14 66.89v-0.9M227.03 0.00v0.9M227.03 66.89v-0.9M137.57 8.39h0.9M228.82 8.39h-0.9M137.57 18.37h0.9M228.82 18.37h-0.9M137.57 27.95h0.9M228.82 27.95h-0.9M137.57 37.74h0.9M228.82 37.74h-0.9M137.57 47.52h0.9M228.82 47.52h-0.9M137.57 57.30h0.9M228.82 57.30h-0.9M137.57 66.89h0.9M228.82 66.89h-0.9" stroke="#3a3a3a" stroke-width="0.3" fill="none"/><rect x="137.57" y="67.09" width="91.25" height="5.19" fill="url(#gg)" stroke="#555" stroke-width="0.2"/><text x="136.27" y="9.69" text-anchor="end">3000</text><text x="136.27" y="19.67" text-anchor="end">2500</text><text x="136.27" y="29.25" text-anchor="end">2000</text><text x="136.27" y="39.04" text-anchor="end">1500</text><text x="136.27" y="48.82" text-anchor="end">1000</text><text x="136.27" y="58.60" text-anchor="end">500</text><text x="136.27" y="68.19" text-anchor="end">0</text><text x="137.57" y="77.87" text-anchor="middle">0</text><text x="155.46" y="77.87" text-anchor="middle">50</text><text x="173.35" y="77.87" text-anchor="middle">100</text><text x="191.25" y="77.87" text-anchor="middle">150</text><text x="209.14" y="77.87" text-anchor="middle">200</text><text x="227.03" y="77.87" text-anchor="middle">250</text><text x="183.89" y="81.07" text-anchor="middle" class="b">Grayscale values</text><text transform="translate(126.67 37.30) rotate(-90)" text-anchor="middle" class="b">Frequency distribution</text></g>
<g><rect x="264.97" y="48.25" width="0.7" height="18.04" fill="#3d91cd" opacity="0.72"/><rect x="265.96" y="52.41" width="0.7" height="13.88" fill="#3d91cd" opacity="0.72"/><rect x="267.13" y="35.77" width="0.7" height="30.52" fill="#3d91cd" opacity="0.58"/><rect x="268.29" y="20.80" width="0.7" height="45.49" fill="#3d91cd" opacity="0.51"/><rect x="269.29" y="33.28" width="0.7" height="33.01" fill="#3d91cd" opacity="0.58"/><rect x="270.46" y="11.65" width="0.7" height="54.64" fill="#3d91cd" opacity="0.65"/><rect x="271.62" y="2.00" width="0.7" height="5.49" fill="#3d91cd" opacity="0.42"/><rect x="271.62" y="7.49" width="0.7" height="58.80" fill="#3d91cd" opacity="0.36"/><rect x="272.95" y="2.00" width="0.7" height="64.29" fill="#3d91cd" opacity="0.36"/><rect x="274.28" y="2.00" width="0.7" height="40.43" fill="#3d91cd" opacity="0.42"/><rect x="274.28" y="42.43" width="0.7" height="23.86" fill="#3d91cd" opacity="0.72"/><rect x="275.45" y="2.00" width="0.7" height="64.29" fill="#3d91cd" opacity="0.36"/><rect x="276.78" y="2.00" width="0.7" height="64.29" fill="#3d91cd" opacity="0.36"/><rect x="279.11" y="2.00" width="0.7" height="64.29" fill="#3d91cd" opacity="1.00"/><rect x="281.61" y="2.00" width="0.7" height="19.63" fill="#3d91cd" opacity="0.42"/><rect x="281.61" y="21.63" width="0.7" height="44.66" fill="#3d91cd" opacity="0.80"/><rect x="284.10" y="2.00" width="0.7" height="64.29" fill="#3d91cd" opacity="1.00"/><rect x="286.26" y="2.00" width="0.7" height="40.43" fill="#3d91cd" opacity="0.42"/><rect x="286.26" y="42.43" width="0.7" height="23.86" fill="#3d91cd" opacity="0.72"/><rect x="288.76" y="2.00" width="0.7" height="64.29" fill="#3d91cd" opacity="1.00"/><rect x="289.92" y="2.00" width="0.7" height="64.29" fill="#3d91cd" opacity="0.36"/><rect x="292.42" y="2.00" width="0.7" height="64.29" fill="#3d91cd" opacity="1.00"/><rect x="295.08" y="2.00" width="0.7" height="46.26" fill="#3d91cd" opacity="0.42"/><rect x="295.08" y="48.25" width="0.7" height="18.04" fill="#3d91cd" opacity="0.80"/><rect x="298.24" y="9.98" width="0.7" height="24.13" fill="#3d91cd" opacity="0.42"/><rect x="298.24" y="34.11" width="0.7" height="32.18" fill="#3d91cd" opacity="0.80"/><rect x="301.74" y="2.00" width="0.7" height="51.25" fill="#3d91cd" opacity="0.42"/><rect x="301.74" y="53.24" width="0.7" height="13.04" fill="#3d91cd" opacity="0.80"/><rect x="304.90" y="18.30" width="0.7" height="32.45" fill="#3d91cd" opacity="0.42"/><rect x="304.90" y="50.75" width="0.7" height="15.54" fill="#3d91cd" opacity="0.80"/><rect x="308.23" y="37.44" width="0.7" height="4.99" fill="#3d91cd" opacity="0.42"/><rect x="308.23" y="42.43" width="0.7" height="23.86" fill="#3d91cd" opacity="1.00"/><rect x="311.72" y="31.28" width="0.7" height="30.28" fill="#3d91cd" opacity="0.42"/><rect x="311.72" y="61.56" width="0.7" height="4.73" fill="#3d91cd" opacity="0.80"/><rect x="315.05" y="37.44" width="0.7" height="26.62" fill="#3d91cd" opacity="0.42"/><rect x="315.05" y="64.06" width="0.7" height="2.23" fill="#3d91cd" opacity="0.72"/><rect x="318.71" y="38.27" width="0.7" height="26.62" fill="#3d91cd" opacity="0.42"/><rect x="318.71" y="64.89" width="0.7" height="1.40" fill="#3d91cd" opacity="0.65"/><rect x="322.37" y="40.77" width="0.7" height="17.47" fill="#3d91cd" opacity="0.42"/><rect x="322.37" y="58.24" width="0.7" height="8.05" fill="#3d91cd" opacity="0.80"/><rect x="326.20" y="41.60" width="0.7" height="16.64" fill="#3d91cd" opacity="0.42"/><rect x="326.20" y="58.24" width="0.7" height="8.05" fill="#3d91cd" opacity="0.80"/><rect x="329.86" y="53.24" width="0.7" height="13.04" fill="#3d91cd" opacity="0.87"/><rect x="333.68" y="53.24" width="0.7" height="13.04" fill="#3d91cd" opacity="0.87"/><rect x="337.84" y="19.97" width="0.7" height="20.80" fill="#3d91cd" opacity="0.42"/><rect x="337.84" y="40.77" width="0.7" height="25.52" fill="#3d91cd" opacity="0.87"/><rect x="342.00" y="41.26" width="0.7" height="23.63" fill="#3d91cd" opacity="0.42"/><rect x="342.00" y="64.89" width="0.7" height="1.40" fill="#3d91cd" opacity="0.87"/><rect x="263.97" y="65.89" width="82.12" height="0.5" fill="#3d91cd" opacity="0.8"/><rect x="260.97" y="2.40" width="91.25" height="63.89" fill="none" stroke="#3a3a3a" stroke-width="0.3"/><path d="M278.86 2.40v0.9M278.86 66.29v-0.9M296.75 2.40v0.9M296.75 66.29v-0.9M314.64 2.40v0.9M314.64 66.29v-0.9M332.53 2.40v0.9M332.53 66.29v-0.9M350.42 2.40v0.9M350.42 66.29v-0.9M260.97 4.39h0.9M352.21 4.39h-0.9M260.97 13.58h0.9M352.21 13.58h-0.9M260.97 22.36h0.9M352.21 22.36h-0.9M260.97 31.35h0.9M352.21 31.35h-0.9M260.97 39.93h0.9M352.21 39.93h-0.9M260.97 48.92h0.9M352.21 48.92h-0.9M260.97 57.50h0.9M352.21 57.50h-0.9M260.97 66.29h0.9M352.21 66.29h-0.9" stroke="#3a3a3a" stroke-width="0.3" fill="none"/><rect x="260.97" y="66.49" width="91.25" height="4.99" fill="url(#gg)" stroke="#555" stroke-width="0.2"/><text x="259.67" y="5.69" text-anchor="end">7000</text><text x="259.67" y="14.88" text-anchor="end">6000</text><text x="259.67" y="23.66" text-anchor="end">5000</text><text x="259.67" y="32.65" text-anchor="end">4000</text><text x="259.67" y="41.23" text-anchor="end">3000</text><text x="259.67" y="50.22" text-anchor="end">2000</text><text x="259.67" y="58.80" text-anchor="end">1000</text><text x="259.67" y="67.59" text-anchor="end">0</text><text x="260.97" y="77.27" text-anchor="middle">0</text><text x="278.86" y="77.27" text-anchor="middle">50</text><text x="296.75" y="77.27" text-anchor="middle">100</text><text x="314.64" y="77.27" text-anchor="middle">150</text><text x="332.53" y="77.27" text-anchor="middle">200</text><text x="350.42" y="77.27" text-anchor="middle">250</text><text x="307.29" y="80.47" text-anchor="middle" class="b">Grayscale values</text><text transform="translate(250.07 39.70) rotate(-90)" text-anchor="middle" class="b">Frequency distribution</text></g>
<g><use href="#p3" fill="#3d91cd"/><g clip-path="url(#c3)"><rect x="385.97" y="2.40" width="0.5" height="63.49" fill="#fff" opacity="0.22"/><rect x="389.54" y="2.40" width="0.5" height="63.49" fill="#fff" opacity="0.22"/><rect x="393.11" y="2.40" width="0.5" height="63.49" fill="#fff" opacity="0.22"/><rect x="396.68" y="2.40" width="0.5" height="63.49" fill="#fff" opacity="0.22"/><rect x="400.25" y="2.40" width="0.5" height="63.49" fill="#fff" opacity="0.22"/><rect x="403.82" y="2.40" width="0.5" height="63.49" fill="#fff" opacity="0.22"/><rect x="407.39" y="2.40" width="0.5" height="63.49" fill="#fff" opacity="0.22"/><rect x="410.96" y="2.40" width="0.5" height="63.49" fill="#fff" opacity="0.22"/><rect x="414.53" y="2.40" width="0.5" height="63.49" fill="#fff" opacity="0.22"/><rect x="418.10" y="2.40" width="0.5" height="63.49" fill="#fff" opacity="0.22"/><rect x="421.67" y="2.40" width="0.5" height="63.49" fill="#fff" opacity="0.22"/><rect x="425.24" y="2.40" width="0.5" height="63.49" fill="#fff" opacity="0.22"/><rect x="428.81" y="2.40" width="0.5" height="63.49" fill="#fff" opacity="0.22"/><rect x="432.38" y="2.40" width="0.5" height="63.49" fill="#fff" opacity="0.22"/><rect x="435.95" y="2.40" width="0.5" height="63.49" fill="#fff" opacity="0.22"/><rect x="439.52" y="2.40" width="0.5" height="63.49" fill="#fff" opacity="0.22"/><rect x="443.09" y="2.40" width="0.5" height="63.49" fill="#fff" opacity="0.22"/><rect x="446.66" y="2.40" width="0.5" height="63.49" fill="#fff" opacity="0.22"/><rect x="450.24" y="2.40" width="0.5" height="63.49" fill="#fff" opacity="0.22"/><rect x="453.81" y="2.40" width="0.5" height="63.49" fill="#fff" opacity="0.22"/><rect x="457.38" y="2.40" width="0.5" height="63.49" fill="#fff" opacity="0.22"/><rect x="460.95" y="2.40" width="0.5" height="63.49" fill="#fff" opacity="0.22"/><rect x="464.52" y="2.40" width="0.5" height="63.49" fill="#fff" opacity="0.22"/><rect x="468.09" y="2.40" width="0.5" height="63.49" fill="#fff" opacity="0.22"/><rect x="471.66" y="2.40" width="0.5" height="63.49" fill="#fff" opacity="0.22"/><rect x="475.23" y="2.40" width="0.5" height="63.49" fill="#fff" opacity="0.22"/></g><rect x="384.36" y="2.40" width="91.05" height="63.49" fill="none" stroke="#3a3a3a" stroke-width="0.3"/><path d="M402.21 2.40v0.9M402.21 65.89v-0.9M420.06 2.40v0.9M420.06 65.89v-0.9M437.92 2.40v0.9M437.92 65.89v-0.9M455.77 2.40v0.9M455.77 65.89v-0.9M473.62 2.40v0.9M473.62 65.89v-0.9M384.36 3.00h0.9M475.41 3.00h-0.9M384.36 13.58h0.9M475.41 13.58h-0.9M384.36 23.96h0.9M475.41 23.96h-0.9M384.36 34.54h0.9M475.41 34.54h-0.9M384.36 44.93h0.9M475.41 44.93h-0.9M384.36 55.51h0.9M475.41 55.51h-0.9M384.36 65.89h0.9M475.41 65.89h-0.9" stroke="#3a3a3a" stroke-width="0.3" fill="none"/><rect x="384.36" y="66.29" width="91.05" height="4.99" fill="url(#gg)" stroke="#555" stroke-width="0.2"/><text x="383.06" y="4.30" text-anchor="end">6000</text><text x="383.06" y="14.88" text-anchor="end">5000</text><text x="383.06" y="25.26" text-anchor="end">4000</text><text x="383.06" y="35.84" text-anchor="end">3000</text><text x="383.06" y="46.23" text-anchor="end">2000</text><text x="383.06" y="56.81" text-anchor="end">1000</text><text x="383.06" y="67.19" text-anchor="end">0</text><text x="384.36" y="76.87" text-anchor="middle">0</text><text x="402.21" y="76.87" text-anchor="middle">50</text><text x="420.06" y="76.87" text-anchor="middle">100</text><text x="437.92" y="76.87" text-anchor="middle">150</text><text x="455.77" y="76.87" text-anchor="middle">200</text><text x="473.62" y="76.87" text-anchor="middle">250</text><text x="430.58" y="80.27" text-anchor="middle" class="b">Grayscale values</text><text transform="translate(373.46 38.40) rotate(-90)" text-anchor="middle" class="b">Frequency distribution</text></g>
<g><use href="#p4" fill="#3d91cd"/><g clip-path="url(#c4)"><rect x="509.56" y="2.40" width="0.5" height="64.09" fill="#fff" opacity="0.22"/><rect x="513.12" y="2.40" width="0.5" height="64.09" fill="#fff" opacity="0.22"/><rect x="516.68" y="2.40" width="0.5" height="64.09" fill="#fff" opacity="0.22"/><rect x="520.25" y="2.40" width="0.5" height="64.09" fill="#fff" opacity="0.22"/><rect x="523.81" y="2.40" width="0.5" height="64.09" fill="#fff" opacity="0.22"/><rect x="527.37" y="2.40" width="0.5" height="64.09" fill="#fff" opacity="0.22"/><rect x="530.93" y="2.40" width="0.5" height="64.09" fill="#fff" opacity="0.22"/><rect x="534.50" y="2.40" width="0.5" height="64.09" fill="#fff" opacity="0.22"/><rect x="538.06" y="2.40" width="0.5" height="64.09" fill="#fff" opacity="0.22"/><rect x="541.62" y="2.40" width="0.5" height="64.09" fill="#fff" opacity="0.22"/><rect x="545.19" y="2.40" width="0.5" height="64.09" fill="#fff" opacity="0.22"/><rect x="548.75" y="2.40" width="0.5" height="64.09" fill="#fff" opacity="0.22"/><rect x="552.31" y="2.40" width="0.5" height="64.09" fill="#fff" opacity="0.22"/><rect x="555.87" y="2.40" width="0.5" height="64.09" fill="#fff" opacity="0.22"/><rect x="559.44" y="2.40" width="0.5" height="64.09" fill="#fff" opacity="0.22"/><rect x="563.00" y="2.40" width="0.5" height="64.09" fill="#fff" opacity="0.22"/><rect x="566.56" y="2.40" width="0.5" height="64.09" fill="#fff" opacity="0.22"/><rect x="570.12" y="2.40" width="0.5" height="64.09" fill="#fff" opacity="0.22"/><rect x="573.69" y="2.40" width="0.5" height="64.09" fill="#fff" opacity="0.22"/><rect x="577.25" y="2.40" width="0.5" height="64.09" fill="#fff" opacity="0.22"/><rect x="580.81" y="2.40" width="0.5" height="64.09" fill="#fff" opacity="0.22"/><rect x="584.37" y="2.40" width="0.5" height="64.09" fill="#fff" opacity="0.22"/><rect x="587.94" y="2.40" width="0.5" height="64.09" fill="#fff" opacity="0.22"/><rect x="591.50" y="2.40" width="0.5" height="64.09" fill="#fff" opacity="0.22"/><rect x="595.06" y="2.40" width="0.5" height="64.09" fill="#fff" opacity="0.22"/><rect x="598.63" y="2.40" width="0.5" height="64.09" fill="#fff" opacity="0.22"/></g><rect x="507.96" y="2.40" width="90.85" height="64.09" fill="none" stroke="#3a3a3a" stroke-width="0.3"/><path d="M525.77 2.40v0.9M525.77 66.49v-0.9M543.58 2.40v0.9M543.58 66.49v-0.9M561.40 2.40v0.9M561.40 66.49v-0.9M579.21 2.40v0.9M579.21 66.49v-0.9M597.02 2.40v0.9M597.02 66.49v-0.9M507.96 10.38h0.9M598.80 10.38h-0.9M507.96 28.95h0.9M598.80 28.95h-0.9M507.96 47.92h0.9M598.80 47.92h-0.9M507.96 66.49h0.9M598.80 66.49h-0.9" stroke="#3a3a3a" stroke-width="0.3" fill="none"/><rect x="507.96" y="66.89" width="90.85" height="4.99" fill="url(#gg)" stroke="#555" stroke-width="0.2"/><text x="506.66" y="11.68" text-anchor="end">15000</text><text x="506.66" y="30.25" text-anchor="end">10000</text><text x="506.66" y="49.22" text-anchor="end">5000</text><text x="506.66" y="67.79" text-anchor="end">0</text><text x="507.96" y="77.27" text-anchor="middle">0</text><text x="525.77" y="77.27" text-anchor="middle">50</text><text x="543.58" y="77.27" text-anchor="middle">100</text><text x="561.40" y="77.27" text-anchor="middle">150</text><text x="579.21" y="77.27" text-anchor="middle">200</text><text x="597.02" y="77.27" text-anchor="middle">250</text><text x="554.08" y="80.87" text-anchor="middle" class="b">Grayscale values</text><text transform="translate(495.26 40.10) rotate(-90)" text-anchor="middle" class="b">Frequency distribution</text></g>
<g><use href="#p5" fill="#3d91cd"/><g clip-path="url(#c5)"><rect x="15.58" y="84.99" width="0.5" height="69.28" fill="#fff" opacity="0.22"/><rect x="19.15" y="84.99" width="0.5" height="69.28" fill="#fff" opacity="0.22"/><rect x="22.72" y="84.99" width="0.5" height="69.28" fill="#fff" opacity="0.22"/><rect x="26.29" y="84.99" width="0.5" height="69.28" fill="#fff" opacity="0.22"/><rect x="29.87" y="84.99" width="0.5" height="69.28" fill="#fff" opacity="0.22"/><rect x="33.44" y="84.99" width="0.5" height="69.28" fill="#fff" opacity="0.22"/><rect x="37.01" y="84.99" width="0.5" height="69.28" fill="#fff" opacity="0.22"/><rect x="40.58" y="84.99" width="0.5" height="69.28" fill="#fff" opacity="0.22"/><rect x="44.15" y="84.99" width="0.5" height="69.28" fill="#fff" opacity="0.22"/><rect x="47.72" y="84.99" width="0.5" height="69.28" fill="#fff" opacity="0.22"/><rect x="51.29" y="84.99" width="0.5" height="69.28" fill="#fff" opacity="0.22"/><rect x="54.86" y="84.99" width="0.5" height="69.28" fill="#fff" opacity="0.22"/><rect x="58.43" y="84.99" width="0.5" height="69.28" fill="#fff" opacity="0.22"/><rect x="62.00" y="84.99" width="0.5" height="69.28" fill="#fff" opacity="0.22"/><rect x="65.57" y="84.99" width="0.5" height="69.28" fill="#fff" opacity="0.22"/><rect x="69.14" y="84.99" width="0.5" height="69.28" fill="#fff" opacity="0.22"/><rect x="72.71" y="84.99" width="0.5" height="69.28" fill="#fff" opacity="0.22"/><rect x="76.28" y="84.99" width="0.5" height="69.28" fill="#fff" opacity="0.22"/><rect x="79.85" y="84.99" width="0.5" height="69.28" fill="#fff" opacity="0.22"/><rect x="83.42" y="84.99" width="0.5" height="69.28" fill="#fff" opacity="0.22"/><rect x="86.99" y="84.99" width="0.5" height="69.28" fill="#fff" opacity="0.22"/><rect x="90.56" y="84.99" width="0.5" height="69.28" fill="#fff" opacity="0.22"/><rect x="94.13" y="84.99" width="0.5" height="69.28" fill="#fff" opacity="0.22"/><rect x="97.71" y="84.99" width="0.5" height="69.28" fill="#fff" opacity="0.22"/><rect x="101.28" y="84.99" width="0.5" height="69.28" fill="#fff" opacity="0.22"/><rect x="104.85" y="84.99" width="0.5" height="69.28" fill="#fff" opacity="0.22"/></g><rect x="13.98" y="84.99" width="91.05" height="69.28" fill="none" stroke="#3a3a3a" stroke-width="0.3"/><path d="M31.83 84.99v0.9M31.83 154.28v-0.9M49.68 84.99v0.9M49.68 154.28v-0.9M67.53 84.99v0.9M67.53 154.28v-0.9M85.39 84.99v0.9M85.39 154.28v-0.9M103.24 84.99v0.9M103.24 154.28v-0.9M13.98 92.38h0.9M105.02 92.38h-0.9M13.98 102.56h0.9M105.02 102.56h-0.9M13.98 112.95h0.9M105.02 112.95h-0.9M13.98 123.33h0.9M105.02 123.33h-0.9M13.98 133.51h0.9M105.02 133.51h-0.9M13.98 143.89h0.9M105.02 143.89h-0.9M13.98 154.28h0.9M105.02 154.28h-0.9" stroke="#3a3a3a" stroke-width="0.3" fill="none"/><rect x="13.98" y="154.48" width="91.05" height="4.99" fill="url(#gg)" stroke="#555" stroke-width="0.2"/><text x="12.68" y="93.68" text-anchor="end">3000</text><text x="12.68" y="103.86" text-anchor="end">2500</text><text x="12.68" y="114.25" text-anchor="end">2000</text><text x="12.68" y="124.63" text-anchor="end">1500</text><text x="12.68" y="134.81" text-anchor="end">1000</text><text x="12.68" y="145.19" text-anchor="end">500</text><text x="12.68" y="155.58" text-anchor="end">0</text><text x="13.98" y="164.86" text-anchor="middle">0</text><text x="31.83" y="164.86" text-anchor="middle">50</text><text x="49.68" y="164.86" text-anchor="middle">100</text><text x="67.53" y="164.86" text-anchor="middle">150</text><text x="85.39" y="164.86" text-anchor="middle">200</text><text x="103.24" y="164.86" text-anchor="middle">250</text><text x="60.20" y="168.26" text-anchor="middle" class="b">Grayscale values</text><text transform="translate(3.08 123.60) rotate(-90)" text-anchor="middle" class="b">Frequency distribution</text></g>
<g><use href="#p6" fill="#3d91cd"/><g clip-path="url(#c6)"><rect x="139.18" y="85.59" width="0.5" height="67.69" fill="#fff" opacity="0.22"/><rect x="142.76" y="85.59" width="0.5" height="67.69" fill="#fff" opacity="0.22"/><rect x="146.34" y="85.59" width="0.5" height="67.69" fill="#fff" opacity="0.22"/><rect x="149.92" y="85.59" width="0.5" height="67.69" fill="#fff" opacity="0.22"/><rect x="153.49" y="85.59" width="0.5" height="67.69" fill="#fff" opacity="0.22"/><rect x="157.07" y="85.59" width="0.5" height="67.69" fill="#fff" opacity="0.22"/><rect x="160.65" y="85.59" width="0.5" height="67.69" fill="#fff" opacity="0.22"/><rect x="164.23" y="85.59" width="0.5" height="67.69" fill="#fff" opacity="0.22"/><rect x="167.81" y="85.59" width="0.5" height="67.69" fill="#fff" opacity="0.22"/><rect x="171.39" y="85.59" width="0.5" height="67.69" fill="#fff" opacity="0.22"/><rect x="174.96" y="85.59" width="0.5" height="67.69" fill="#fff" opacity="0.22"/><rect x="178.54" y="85.59" width="0.5" height="67.69" fill="#fff" opacity="0.22"/><rect x="182.12" y="85.59" width="0.5" height="67.69" fill="#fff" opacity="0.22"/><rect x="185.70" y="85.59" width="0.5" height="67.69" fill="#fff" opacity="0.22"/><rect x="189.28" y="85.59" width="0.5" height="67.69" fill="#fff" opacity="0.22"/><rect x="192.86" y="85.59" width="0.5" height="67.69" fill="#fff" opacity="0.22"/><rect x="196.43" y="85.59" width="0.5" height="67.69" fill="#fff" opacity="0.22"/><rect x="200.01" y="85.59" width="0.5" height="67.69" fill="#fff" opacity="0.22"/><rect x="203.59" y="85.59" width="0.5" height="67.69" fill="#fff" opacity="0.22"/><rect x="207.17" y="85.59" width="0.5" height="67.69" fill="#fff" opacity="0.22"/><rect x="210.75" y="85.59" width="0.5" height="67.69" fill="#fff" opacity="0.22"/><rect x="214.33" y="85.59" width="0.5" height="67.69" fill="#fff" opacity="0.22"/><rect x="217.90" y="85.59" width="0.5" height="67.69" fill="#fff" opacity="0.22"/><rect x="221.48" y="85.59" width="0.5" height="67.69" fill="#fff" opacity="0.22"/><rect x="225.06" y="85.59" width="0.5" height="67.69" fill="#fff" opacity="0.22"/><rect x="228.64" y="85.59" width="0.5" height="67.69" fill="#fff" opacity="0.22"/></g><rect x="137.57" y="85.59" width="91.25" height="67.69" fill="none" stroke="#3a3a3a" stroke-width="0.3"/><path d="M155.46 85.59v0.9M155.46 153.28v-0.9M173.35 85.59v0.9M173.35 153.28v-0.9M191.25 85.59v0.9M191.25 153.28v-0.9M209.14 85.59v0.9M209.14 153.28v-0.9M227.03 85.59v0.9M227.03 153.28v-0.9M137.57 90.38h0.9M228.82 90.38h-0.9M137.57 106.16h0.9M228.82 106.16h-0.9M137.57 121.93h0.9M228.82 121.93h-0.9M137.57 137.50h0.9M228.82 137.50h-0.9M137.57 153.28h0.9M228.82 153.28h-0.9" stroke="#3a3a3a" stroke-width="0.3" fill="none"/><rect x="137.57" y="153.68" width="91.25" height="4.99" fill="url(#gg)" stroke="#555" stroke-width="0.2"/><text x="136.27" y="91.68" text-anchor="end">4000</text><text x="136.27" y="107.46" text-anchor="end">3000</text><text x="136.27" y="123.23" text-anchor="end">2000</text><text x="136.27" y="138.80" text-anchor="end">1000</text><text x="136.27" y="154.58" text-anchor="end">0</text><text x="137.57" y="163.86" text-anchor="middle">0</text><text x="155.46" y="163.86" text-anchor="middle">50</text><text x="173.35" y="163.86" text-anchor="middle">100</text><text x="191.25" y="163.86" text-anchor="middle">150</text><text x="209.14" y="163.86" text-anchor="middle">200</text><text x="227.03" y="163.86" text-anchor="middle">250</text><text x="183.89" y="167.26" text-anchor="middle" class="b">Grayscale values</text><text transform="translate(126.67 124.80) rotate(-90)" text-anchor="middle" class="b">Frequency distribution</text></g>
<g><use href="#p7" fill="#3d91cd"/><g clip-path="url(#c7)"><rect x="262.58" y="87.59" width="0.5" height="63.69" fill="#fff" opacity="0.22"/><rect x="266.15" y="87.59" width="0.5" height="63.69" fill="#fff" opacity="0.22"/><rect x="269.73" y="87.59" width="0.5" height="63.69" fill="#fff" opacity="0.22"/><rect x="273.31" y="87.59" width="0.5" height="63.69" fill="#fff" opacity="0.22"/><rect x="276.89" y="87.59" width="0.5" height="63.69" fill="#fff" opacity="0.22"/><rect x="280.47" y="87.59" width="0.5" height="63.69" fill="#fff" opacity="0.22"/><rect x="284.05" y="87.59" width="0.5" height="63.69" fill="#fff" opacity="0.22"/><rect x="287.62" y="87.59" width="0.5" height="63.69" fill="#fff" opacity="0.22"/><rect x="291.20" y="87.59" width="0.5" height="63.69" fill="#fff" opacity="0.22"/><rect x="294.78" y="87.59" width="0.5" height="63.69" fill="#fff" opacity="0.22"/><rect x="298.36" y="87.59" width="0.5" height="63.69" fill="#fff" opacity="0.22"/><rect x="301.94" y="87.59" width="0.5" height="63.69" fill="#fff" opacity="0.22"/><rect x="305.52" y="87.59" width="0.5" height="63.69" fill="#fff" opacity="0.22"/><rect x="309.09" y="87.59" width="0.5" height="63.69" fill="#fff" opacity="0.22"/><rect x="312.67" y="87.59" width="0.5" height="63.69" fill="#fff" opacity="0.22"/><rect x="316.25" y="87.59" width="0.5" height="63.69" fill="#fff" opacity="0.22"/><rect x="319.83" y="87.59" width="0.5" height="63.69" fill="#fff" opacity="0.22"/><rect x="323.41" y="87.59" width="0.5" height="63.69" fill="#fff" opacity="0.22"/><rect x="326.99" y="87.59" width="0.5" height="63.69" fill="#fff" opacity="0.22"/><rect x="330.56" y="87.59" width="0.5" height="63.69" fill="#fff" opacity="0.22"/><rect x="334.14" y="87.59" width="0.5" height="63.69" fill="#fff" opacity="0.22"/><rect x="337.72" y="87.59" width="0.5" height="63.69" fill="#fff" opacity="0.22"/><rect x="341.30" y="87.59" width="0.5" height="63.69" fill="#fff" opacity="0.22"/><rect x="344.88" y="87.59" width="0.5" height="63.69" fill="#fff" opacity="0.22"/><rect x="348.46" y="87.59" width="0.5" height="63.69" fill="#fff" opacity="0.22"/><rect x="352.03" y="87.59" width="0.5" height="63.69" fill="#fff" opacity="0.22"/></g><rect x="260.97" y="87.59" width="91.25" height="63.69" fill="none" stroke="#3a3a3a" stroke-width="0.3"/><path d="M278.86 87.59v0.9M278.86 151.28v-0.9M296.75 87.59v0.9M296.75 151.28v-0.9M314.64 87.59v0.9M314.64 151.28v-0.9M332.53 87.59v0.9M332.53 151.28v-0.9M350.42 87.59v0.9M350.42 151.28v-0.9M260.97 91.98h0.9M352.21 91.98h-0.9M260.97 100.37h0.9M352.21 100.37h-0.9M260.97 108.95h0.9M352.21 108.95h-0.9M260.97 117.34h0.9M352.21 117.34h-0.9M260.97 125.92h0.9M352.21 125.92h-0.9M260.97 134.31h0.9M352.21 134.31h-0.9M260.97 142.90h0.9M352.21 142.90h-0.9M260.97 151.28h0.9M352.21 151.28h-0.9" stroke="#3a3a3a" stroke-width="0.3" fill="none"/><rect x="260.97" y="151.68" width="91.25" height="4.79" fill="url(#gg)" stroke="#555" stroke-width="0.2"/><text x="259.67" y="93.28" text-anchor="end">3500</text><text x="259.67" y="101.67" text-anchor="end">3000</text><text x="259.67" y="110.25" text-anchor="end">2500</text><text x="259.67" y="118.64" text-anchor="end">2000</text><text x="259.67" y="127.22" text-anchor="end">1500</text><text x="259.67" y="135.61" text-anchor="end">1000</text><text x="259.67" y="144.20" text-anchor="end">500</text><text x="259.67" y="152.58" text-anchor="end">0</text><text x="260.97" y="161.67" text-anchor="middle">0</text><text x="278.86" y="161.67" text-anchor="middle">50</text><text x="296.75" y="161.67" text-anchor="middle">100</text><text x="314.64" y="161.67" text-anchor="middle">150</text><text x="332.53" y="161.67" text-anchor="middle">200</text><text x="350.42" y="161.67" text-anchor="middle">250</text><text x="307.29" y="164.86" text-anchor="middle" class="b">Grayscale values</text><text transform="translate(250.07 125.70) rotate(-90)" text-anchor="middle" class="b">Frequency distribution</text></g>
<g><use href="#p8" fill="#3d91cd"/><rect x="474.61" y="143.89" width="0.8" height="8.39" fill="#3d91cd" opacity="0.45"/><g clip-path="url(#c8)"><rect x="385.97" y="88.59" width="0.5" height="63.69" fill="#fff" opacity="0.22"/><rect x="389.54" y="88.59" width="0.5" height="63.69" fill="#fff" opacity="0.22"/><rect x="393.11" y="88.59" width="0.5" height="63.69" fill="#fff" opacity="0.22"/><rect x="396.68" y="88.59" width="0.5" height="63.69" fill="#fff" opacity="0.22"/><rect x="400.25" y="88.59" width="0.5" height="63.69" fill="#fff" opacity="0.22"/><rect x="403.82" y="88.59" width="0.5" height="63.69" fill="#fff" opacity="0.22"/><rect x="407.39" y="88.59" width="0.5" height="63.69" fill="#fff" opacity="0.22"/><rect x="410.96" y="88.59" width="0.5" height="63.69" fill="#fff" opacity="0.22"/><rect x="414.53" y="88.59" width="0.5" height="63.69" fill="#fff" opacity="0.22"/><rect x="418.10" y="88.59" width="0.5" height="63.69" fill="#fff" opacity="0.22"/><rect x="421.67" y="88.59" width="0.5" height="63.69" fill="#fff" opacity="0.22"/><rect x="425.24" y="88.59" width="0.5" height="63.69" fill="#fff" opacity="0.22"/><rect x="428.81" y="88.59" width="0.5" height="63.69" fill="#fff" opacity="0.22"/><rect x="432.38" y="88.59" width="0.5" height="63.69" fill="#fff" opacity="0.22"/><rect x="435.95" y="88.59" width="0.5" height="63.69" fill="#fff" opacity="0.22"/><rect x="439.52" y="88.59" width="0.5" height="63.69" fill="#fff" opacity="0.22"/><rect x="443.09" y="88.59" width="0.5" height="63.69" fill="#fff" opacity="0.22"/><rect x="446.66" y="88.59" width="0.5" height="63.69" fill="#fff" opacity="0.22"/><rect x="450.24" y="88.59" width="0.5" height="63.69" fill="#fff" opacity="0.22"/><rect x="453.81" y="88.59" width="0.5" height="63.69" fill="#fff" opacity="0.22"/><rect x="457.38" y="88.59" width="0.5" height="63.69" fill="#fff" opacity="0.22"/><rect x="460.95" y="88.59" width="0.5" height="63.69" fill="#fff" opacity="0.22"/><rect x="464.52" y="88.59" width="0.5" height="63.69" fill="#fff" opacity="0.22"/><rect x="468.09" y="88.59" width="0.5" height="63.69" fill="#fff" opacity="0.22"/><rect x="471.66" y="88.59" width="0.5" height="63.69" fill="#fff" opacity="0.22"/><rect x="475.23" y="88.59" width="0.5" height="63.69" fill="#fff" opacity="0.22"/></g><rect x="384.36" y="88.59" width="91.05" height="63.69" fill="none" stroke="#3a3a3a" stroke-width="0.3"/><path d="M402.21 88.59v0.9M402.21 152.28v-0.9M420.06 88.59v0.9M420.06 152.28v-0.9M437.92 88.59v0.9M437.92 152.28v-0.9M455.77 88.59v0.9M455.77 152.28v-0.9M473.62 88.59v0.9M473.62 152.28v-0.9M384.36 91.58h0.9M475.41 91.58h-0.9M384.36 106.76h0.9M475.41 106.76h-0.9M384.36 121.93h0.9M475.41 121.93h-0.9M384.36 137.10h0.9M475.41 137.10h-0.9M384.36 152.28h0.9M475.41 152.28h-0.9" stroke="#3a3a3a" stroke-width="0.3" fill="none"/><rect x="384.36" y="152.68" width="91.05" height="4.79" fill="url(#gg)" stroke="#555" stroke-width="0.2"/><text x="383.06" y="92.88" text-anchor="end">4000</text><text x="383.06" y="108.06" text-anchor="end">3000</text><text x="383.06" y="123.23" text-anchor="end">2000</text><text x="383.06" y="138.40" text-anchor="end">1000</text><text x="383.06" y="153.58" text-anchor="end">0</text><text x="384.36" y="162.66" text-anchor="middle">0</text><text x="402.21" y="162.66" text-anchor="middle">50</text><text x="420.06" y="162.66" text-anchor="middle">100</text><text x="437.92" y="162.66" text-anchor="middle">150</text><text x="455.77" y="162.66" text-anchor="middle">200</text><text x="473.62" y="162.66" text-anchor="middle">250</text><text x="430.58" y="166.06" text-anchor="middle" class="b">Grayscale values</text><text transform="translate(373.46 129.50) rotate(-90)" text-anchor="middle" class="b">Frequency distribution</text></g>
<g><use href="#p9" fill="#3d91cd" opacity="0.55"/><g clip-path="url(#c9)"><rect x="509.56" y="88.39" width="0.55" height="63.89" fill="#3d91cd" opacity="0.55"/><rect x="513.12" y="88.39" width="0.55" height="63.89" fill="#3d91cd" opacity="0.55"/><rect x="516.68" y="88.39" width="0.55" height="63.89" fill="#3d91cd" opacity="0.55"/><rect x="520.25" y="88.39" width="0.55" height="63.89" fill="#3d91cd" opacity="0.55"/><rect x="523.81" y="88.39" width="0.55" height="63.89" fill="#3d91cd" opacity="0.55"/><rect x="527.37" y="88.39" width="0.55" height="63.89" fill="#3d91cd" opacity="0.55"/><rect x="530.93" y="88.39" width="0.55" height="63.89" fill="#3d91cd" opacity="0.55"/><rect x="534.50" y="88.39" width="0.55" height="63.89" fill="#3d91cd" opacity="0.55"/><rect x="538.06" y="88.39" width="0.55" height="63.89" fill="#3d91cd" opacity="0.55"/><rect x="541.62" y="88.39" width="0.55" height="63.89" fill="#3d91cd" opacity="0.55"/><rect x="545.19" y="88.39" width="0.55" height="63.89" fill="#3d91cd" opacity="0.55"/><rect x="548.75" y="88.39" width="0.55" height="63.89" fill="#3d91cd" opacity="0.55"/><rect x="552.31" y="88.39" width="0.55" height="63.89" fill="#3d91cd" opacity="0.55"/><rect x="555.87" y="88.39" width="0.55" height="63.89" fill="#3d91cd" opacity="0.55"/><rect x="559.44" y="88.39" width="0.55" height="63.89" fill="#3d91cd" opacity="0.55"/><rect x="563.00" y="88.39" width="0.55" height="63.89" fill="#3d91cd" opacity="0.55"/><rect x="566.56" y="88.39" width="0.55" height="63.89" fill="#3d91cd" opacity="0.55"/><rect x="570.12" y="88.39" width="0.55" height="63.89" fill="#3d91cd" opacity="0.55"/><rect x="573.69" y="88.39" width="0.55" height="63.89" fill="#3d91cd" opacity="0.55"/><rect x="577.25" y="88.39" width="0.55" height="63.89" fill="#3d91cd" opacity="0.55"/><rect x="580.81" y="88.39" width="0.55" height="63.89" fill="#3d91cd" opacity="0.55"/><rect x="584.37" y="88.39" width="0.55" height="63.89" fill="#3d91cd" opacity="0.55"/><rect x="587.94" y="88.39" width="0.55" height="63.89" fill="#3d91cd" opacity="0.55"/><rect x="591.50" y="88.39" width="0.55" height="63.89" fill="#3d91cd" opacity="0.55"/><rect x="595.06" y="88.39" width="0.55" height="63.89" fill="#3d91cd" opacity="0.55"/><rect x="598.63" y="88.39" width="0.55" height="63.89" fill="#3d91cd" opacity="0.55"/></g><rect x="507.96" y="88.39" width="90.85" height="63.89" fill="none" stroke="#3a3a3a" stroke-width="0.3"/><path d="M525.77 88.39v0.9M525.77 152.28v-0.9M543.58 88.39v0.9M543.58 152.28v-0.9M561.40 88.39v0.9M561.40 152.28v-0.9M579.21 88.39v0.9M579.21 152.28v-0.9M597.02 88.39v0.9M597.02 152.28v-0.9M507.96 89.98h0.9M598.80 89.98h-0.9M507.96 105.56h0.9M598.80 105.56h-0.9M507.96 121.13h0.9M598.80 121.13h-0.9M507.96 136.71h0.9M598.80 136.71h-0.9M507.96 152.28h0.9M598.80 152.28h-0.9" stroke="#3a3a3a" stroke-width="0.3" fill="none"/><rect x="507.96" y="152.68" width="90.85" height="4.79" fill="url(#gg)" stroke="#555" stroke-width="0.2"/><text x="506.66" y="91.28" text-anchor="end">4000</text><text x="506.66" y="106.86" text-anchor="end">3000</text><text x="506.66" y="122.43" text-anchor="end">2000</text><text x="506.66" y="138.01" text-anchor="end">1000</text><text x="506.66" y="153.58" text-anchor="end">0</text><text x="507.96" y="162.66" text-anchor="middle">0</text><text x="525.77" y="162.66" text-anchor="middle">50</text><text x="543.58" y="162.66" text-anchor="middle">100</text><text x="561.40" y="162.66" text-anchor="middle">150</text><text x="579.21" y="162.66" text-anchor="middle">200</text><text x="597.02" y="162.66" text-anchor="middle">250</text><text x="554.08" y="166.06" text-anchor="middle" class="b">Grayscale values</text><text transform="translate(497.06 128.50) rotate(-90)" text-anchor="middle" class="b">Frequency distribution</text></g>
<g><use href="#p10" fill="#3d91cd"/><g clip-path="url(#c10)"><rect x="15.58" y="172.39" width="0.5" height="65.89" fill="#fff" opacity="0.22"/><rect x="19.15" y="172.39" width="0.5" height="65.89" fill="#fff" opacity="0.22"/><rect x="22.72" y="172.39" width="0.5" height="65.89" fill="#fff" opacity="0.22"/><rect x="26.29" y="172.39" width="0.5" height="65.89" fill="#fff" opacity="0.22"/><rect x="29.87" y="172.39" width="0.5" height="65.89" fill="#fff" opacity="0.22"/><rect x="33.44" y="172.39" width="0.5" height="65.89" fill="#fff" opacity="0.22"/><rect x="37.01" y="172.39" width="0.5" height="65.89" fill="#fff" opacity="0.22"/><rect x="40.58" y="172.39" width="0.5" height="65.89" fill="#fff" opacity="0.22"/><rect x="44.15" y="172.39" width="0.5" height="65.89" fill="#fff" opacity="0.22"/><rect x="47.72" y="172.39" width="0.5" height="65.89" fill="#fff" opacity="0.22"/><rect x="51.29" y="172.39" width="0.5" height="65.89" fill="#fff" opacity="0.22"/><rect x="54.86" y="172.39" width="0.5" height="65.89" fill="#fff" opacity="0.22"/><rect x="58.43" y="172.39" width="0.5" height="65.89" fill="#fff" opacity="0.22"/><rect x="62.00" y="172.39" width="0.5" height="65.89" fill="#fff" opacity="0.22"/><rect x="65.57" y="172.39" width="0.5" height="65.89" fill="#fff" opacity="0.22"/><rect x="69.14" y="172.39" width="0.5" height="65.89" fill="#fff" opacity="0.22"/><rect x="72.71" y="172.39" width="0.5" height="65.89" fill="#fff" opacity="0.22"/><rect x="76.28" y="172.39" width="0.5" height="65.89" fill="#fff" opacity="0.22"/><rect x="79.85" y="172.39" width="0.5" height="65.89" fill="#fff" opacity="0.22"/><rect x="83.42" y="172.39" width="0.5" height="65.89" fill="#fff" opacity="0.22"/><rect x="86.99" y="172.39" width="0.5" height="65.89" fill="#fff" opacity="0.22"/><rect x="90.56" y="172.39" width="0.5" height="65.89" fill="#fff" opacity="0.22"/><rect x="94.13" y="172.39" width="0.5" height="65.89" fill="#fff" opacity="0.22"/><rect x="97.71" y="172.39" width="0.5" height="65.89" fill="#fff" opacity="0.22"/><rect x="101.28" y="172.39" width="0.5" height="65.89" fill="#fff" opacity="0.22"/><rect x="104.85" y="172.39" width="0.5" height="65.89" fill="#fff" opacity="0.22"/></g><rect x="13.98" y="172.39" width="91.05" height="65.89" fill="none" stroke="#3a3a3a" stroke-width="0.3"/><path d="M31.83 172.39v0.9M31.83 238.28v-0.9M49.68 172.39v0.9M49.68 238.28v-0.9M67.53 172.39v0.9M67.53 238.28v-0.9M85.39 172.39v0.9M85.39 238.28v-0.9M103.24 172.39v0.9M103.24 238.28v-0.9M13.98 175.99h0.9M105.02 175.99h-0.9M13.98 186.37h0.9M105.02 186.37h-0.9M13.98 196.75h0.9M105.02 196.75h-0.9M13.98 207.13h0.9M105.02 207.13h-0.9M13.98 217.52h0.9M105.02 217.52h-0.9M13.98 227.90h0.9M105.02 227.90h-0.9M13.98 238.28h0.9M105.02 238.28h-0.9" stroke="#3a3a3a" stroke-width="0.3" fill="none"/><rect x="13.98" y="238.68" width="91.05" height="5.19" fill="url(#gg)" stroke="#555" stroke-width="0.2"/><text x="12.68" y="177.29" text-anchor="end">600</text><text x="12.68" y="187.67" text-anchor="end">500</text><text x="12.68" y="198.05" text-anchor="end">400</text><text x="12.68" y="208.43" text-anchor="end">300</text><text x="12.68" y="218.82" text-anchor="end">200</text><text x="12.68" y="229.20" text-anchor="end">100</text><text x="12.68" y="239.58" text-anchor="end">0</text><text x="13.98" y="249.27" text-anchor="middle">0</text><text x="31.83" y="249.27" text-anchor="middle">50</text><text x="49.68" y="249.27" text-anchor="middle">100</text><text x="67.53" y="249.27" text-anchor="middle">150</text><text x="85.39" y="249.27" text-anchor="middle">200</text><text x="103.24" y="249.27" text-anchor="middle">250</text><text x="60.20" y="252.66" text-anchor="middle" class="b">Grayscale values</text><text transform="translate(4.98 207.30) rotate(-90)" text-anchor="middle" class="b">Frequency distribution</text></g>
<g><use href="#p11" fill="#3d91cd"/><g clip-path="url(#c11)"><rect x="139.18" y="172.39" width="0.5" height="66.49" fill="#fff" opacity="0.22"/><rect x="142.76" y="172.39" width="0.5" height="66.49" fill="#fff" opacity="0.22"/><rect x="146.34" y="172.39" width="0.5" height="66.49" fill="#fff" opacity="0.22"/><rect x="149.92" y="172.39" width="0.5" height="66.49" fill="#fff" opacity="0.22"/><rect x="153.49" y="172.39" width="0.5" height="66.49" fill="#fff" opacity="0.22"/><rect x="157.07" y="172.39" width="0.5" height="66.49" fill="#fff" opacity="0.22"/><rect x="160.65" y="172.39" width="0.5" height="66.49" fill="#fff" opacity="0.22"/><rect x="164.23" y="172.39" width="0.5" height="66.49" fill="#fff" opacity="0.22"/><rect x="167.81" y="172.39" width="0.5" height="66.49" fill="#fff" opacity="0.22"/><rect x="171.39" y="172.39" width="0.5" height="66.49" fill="#fff" opacity="0.22"/><rect x="174.96" y="172.39" width="0.5" height="66.49" fill="#fff" opacity="0.22"/><rect x="178.54" y="172.39" width="0.5" height="66.49" fill="#fff" opacity="0.22"/><rect x="182.12" y="172.39" width="0.5" height="66.49" fill="#fff" opacity="0.22"/><rect x="185.70" y="172.39" width="0.5" height="66.49" fill="#fff" opacity="0.22"/><rect x="189.28" y="172.39" width="0.5" height="66.49" fill="#fff" opacity="0.22"/><rect x="192.86" y="172.39" width="0.5" height="66.49" fill="#fff" opacity="0.22"/><rect x="196.43" y="172.39" width="0.5" height="66.49" fill="#fff" opacity="0.22"/><rect x="200.01" y="172.39" width="0.5" height="66.49" fill="#fff" opacity="0.22"/><rect x="203.59" y="172.39" width="0.5" height="66.49" fill="#fff" opacity="0.22"/><rect x="207.17" y="172.39" width="0.5" height="66.49" fill="#fff" opacity="0.22"/><rect x="210.75" y="172.39" width="0.5" height="66.49" fill="#fff" opacity="0.22"/><rect x="214.33" y="172.39" width="0.5" height="66.49" fill="#fff" opacity="0.22"/><rect x="217.90" y="172.39" width="0.5" height="66.49" fill="#fff" opacity="0.22"/><rect x="221.48" y="172.39" width="0.5" height="66.49" fill="#fff" opacity="0.22"/><rect x="225.06" y="172.39" width="0.5" height="66.49" fill="#fff" opacity="0.22"/><rect x="228.64" y="172.39" width="0.5" height="66.49" fill="#fff" opacity="0.22"/></g><rect x="137.57" y="172.39" width="91.25" height="66.49" fill="none" stroke="#3a3a3a" stroke-width="0.3"/><path d="M155.46 172.39v0.9M155.46 238.88v-0.9M173.35 172.39v0.9M173.35 238.88v-0.9M191.25 172.39v0.9M191.25 238.88v-0.9M209.14 172.39v0.9M209.14 238.88v-0.9M227.03 172.39v0.9M227.03 238.88v-0.9M137.57 176.38h0.9M228.82 176.38h-0.9M137.57 186.97h0.9M228.82 186.97h-0.9M137.57 197.35h0.9M228.82 197.35h-0.9M137.57 207.93h0.9M228.82 207.93h-0.9M137.57 218.31h0.9M228.82 218.31h-0.9M137.57 228.70h0.9M228.82 228.70h-0.9M137.57 238.88h0.9M228.82 238.88h-0.9" stroke="#3a3a3a" stroke-width="0.3" fill="none"/><rect x="137.57" y="239.28" width="91.25" height="4.99" fill="url(#gg)" stroke="#555" stroke-width="0.2"/><text x="136.27" y="177.68" text-anchor="end">600</text><text x="136.27" y="188.27" text-anchor="end">500</text><text x="136.27" y="198.65" text-anchor="end">400</text><text x="136.27" y="209.23" text-anchor="end">300</text><text x="136.27" y="219.61" text-anchor="end">200</text><text x="136.27" y="230.00" text-anchor="end">100</text><text x="136.27" y="240.18" text-anchor="end">0</text><text x="137.57" y="249.86" text-anchor="middle">0</text><text x="155.46" y="249.86" text-anchor="middle">50</text><text x="173.35" y="249.86" text-anchor="middle">100</text><text x="191.25" y="249.86" text-anchor="middle">150</text><text x="209.14" y="249.86" text-anchor="middle">200</text><text x="227.03" y="249.86" text-anchor="middle">250</text><text x="183.89" y="253.26" text-anchor="middle" class="b">Grayscale values</text><text transform="translate(128.57 208.00) rotate(-90)" text-anchor="middle" class="b">Frequency distribution</text></g>
<g><use href="#p12" fill="#3d91cd"/><g clip-path="url(#c12)"><rect x="262.59" y="172.39" width="0.5" height="66.49" fill="#fff" opacity="0.22"/><rect x="266.19" y="172.39" width="0.5" height="66.49" fill="#fff" opacity="0.22"/><rect x="269.79" y="172.39" width="0.5" height="66.49" fill="#fff" opacity="0.22"/><rect x="273.39" y="172.39" width="0.5" height="66.49" fill="#fff" opacity="0.22"/><rect x="276.99" y="172.39" width="0.5" height="66.49" fill="#fff" opacity="0.22"/><rect x="280.60" y="172.39" width="0.5" height="66.49" fill="#fff" opacity="0.22"/><rect x="284.20" y="172.39" width="0.5" height="66.49" fill="#fff" opacity="0.22"/><rect x="287.80" y="172.39" width="0.5" height="66.49" fill="#fff" opacity="0.22"/><rect x="291.40" y="172.39" width="0.5" height="66.49" fill="#fff" opacity="0.22"/><rect x="295.00" y="172.39" width="0.5" height="66.49" fill="#fff" opacity="0.22"/><rect x="298.60" y="172.39" width="0.5" height="66.49" fill="#fff" opacity="0.22"/><rect x="302.21" y="172.39" width="0.5" height="66.49" fill="#fff" opacity="0.22"/><rect x="305.81" y="172.39" width="0.5" height="66.49" fill="#fff" opacity="0.22"/><rect x="309.41" y="172.39" width="0.5" height="66.49" fill="#fff" opacity="0.22"/><rect x="313.01" y="172.39" width="0.5" height="66.49" fill="#fff" opacity="0.22"/><rect x="316.61" y="172.39" width="0.5" height="66.49" fill="#fff" opacity="0.22"/><rect x="320.22" y="172.39" width="0.5" height="66.49" fill="#fff" opacity="0.22"/><rect x="323.82" y="172.39" width="0.5" height="66.49" fill="#fff" opacity="0.22"/><rect x="327.42" y="172.39" width="0.5" height="66.49" fill="#fff" opacity="0.22"/><rect x="331.02" y="172.39" width="0.5" height="66.49" fill="#fff" opacity="0.22"/><rect x="334.62" y="172.39" width="0.5" height="66.49" fill="#fff" opacity="0.22"/><rect x="338.22" y="172.39" width="0.5" height="66.49" fill="#fff" opacity="0.22"/><rect x="341.83" y="172.39" width="0.5" height="66.49" fill="#fff" opacity="0.22"/><rect x="345.43" y="172.39" width="0.5" height="66.49" fill="#fff" opacity="0.22"/><rect x="349.03" y="172.39" width="0.5" height="66.49" fill="#fff" opacity="0.22"/><rect x="352.63" y="172.39" width="0.5" height="66.49" fill="#fff" opacity="0.22"/></g><rect x="260.97" y="172.39" width="91.85" height="66.49" fill="none" stroke="#3a3a3a" stroke-width="0.3"/><path d="M278.97 172.39v0.9M278.97 238.88v-0.9M296.98 172.39v0.9M296.98 238.88v-0.9M314.99 172.39v0.9M314.99 238.88v-0.9M333.00 172.39v0.9M333.00 238.88v-0.9M351.01 172.39v0.9M351.01 238.88v-0.9M260.97 176.38h0.9M352.81 176.38h-0.9M260.97 186.97h0.9M352.81 186.97h-0.9M260.97 197.35h0.9M352.81 197.35h-0.9M260.97 207.93h0.9M352.81 207.93h-0.9M260.97 218.31h0.9M352.81 218.31h-0.9M260.97 228.70h0.9M352.81 228.70h-0.9M260.97 238.88h0.9M352.81 238.88h-0.9" stroke="#3a3a3a" stroke-width="0.3" fill="none"/><rect x="260.97" y="239.28" width="91.85" height="4.99" fill="url(#gg)" stroke="#555" stroke-width="0.2"/><text x="259.67" y="177.68" text-anchor="end">600</text><text x="259.67" y="188.27" text-anchor="end">500</text><text x="259.67" y="198.65" text-anchor="end">400</text><text x="259.67" y="209.23" text-anchor="end">300</text><text x="259.67" y="219.61" text-anchor="end">200</text><text x="259.67" y="230.00" text-anchor="end">100</text><text x="259.67" y="240.18" text-anchor="end">0</text><text x="260.97" y="249.86" text-anchor="middle">0</text><text x="278.97" y="249.86" text-anchor="middle">50</text><text x="296.98" y="249.86" text-anchor="middle">100</text><text x="314.99" y="249.86" text-anchor="middle">150</text><text x="333.00" y="249.86" text-anchor="middle">200</text><text x="351.01" y="249.86" text-anchor="middle">250</text><text x="307.59" y="253.26" text-anchor="middle" class="b">Grayscale values</text><text transform="translate(251.97 207.80) rotate(-90)" text-anchor="middle" class="b">Frequency distribution</text></g>
<g><use href="#p13" fill="#3d91cd"/><g clip-path="url(#c13)"><rect x="385.95" y="173.39" width="0.5" height="65.09" fill="#fff" opacity="0.22"/><rect x="389.48" y="173.39" width="0.5" height="65.09" fill="#fff" opacity="0.22"/><rect x="393.01" y="173.39" width="0.5" height="65.09" fill="#fff" opacity="0.22"/><rect x="396.54" y="173.39" width="0.5" height="65.09" fill="#fff" opacity="0.22"/><rect x="400.07" y="173.39" width="0.5" height="65.09" fill="#fff" opacity="0.22"/><rect x="403.61" y="173.39" width="0.5" height="65.09" fill="#fff" opacity="0.22"/><rect x="407.14" y="173.39" width="0.5" height="65.09" fill="#fff" opacity="0.22"/><rect x="410.67" y="173.39" width="0.5" height="65.09" fill="#fff" opacity="0.22"/><rect x="414.20" y="173.39" width="0.5" height="65.09" fill="#fff" opacity="0.22"/><rect x="417.73" y="173.39" width="0.5" height="65.09" fill="#fff" opacity="0.22"/><rect x="421.26" y="173.39" width="0.5" height="65.09" fill="#fff" opacity="0.22"/><rect x="424.79" y="173.39" width="0.5" height="65.09" fill="#fff" opacity="0.22"/><rect x="428.32" y="173.39" width="0.5" height="65.09" fill="#fff" opacity="0.22"/><rect x="431.86" y="173.39" width="0.5" height="65.09" fill="#fff" opacity="0.22"/><rect x="435.39" y="173.39" width="0.5" height="65.09" fill="#fff" opacity="0.22"/><rect x="438.92" y="173.39" width="0.5" height="65.09" fill="#fff" opacity="0.22"/><rect x="442.45" y="173.39" width="0.5" height="65.09" fill="#fff" opacity="0.22"/><rect x="445.98" y="173.39" width="0.5" height="65.09" fill="#fff" opacity="0.22"/><rect x="449.51" y="173.39" width="0.5" height="65.09" fill="#fff" opacity="0.22"/><rect x="453.04" y="173.39" width="0.5" height="65.09" fill="#fff" opacity="0.22"/><rect x="456.58" y="173.39" width="0.5" height="65.09" fill="#fff" opacity="0.22"/><rect x="460.11" y="173.39" width="0.5" height="65.09" fill="#fff" opacity="0.22"/><rect x="463.64" y="173.39" width="0.5" height="65.09" fill="#fff" opacity="0.22"/><rect x="467.17" y="173.39" width="0.5" height="65.09" fill="#fff" opacity="0.22"/><rect x="470.70" y="173.39" width="0.5" height="65.09" fill="#fff" opacity="0.22"/><rect x="474.23" y="173.39" width="0.5" height="65.09" fill="#fff" opacity="0.22"/></g><rect x="384.36" y="173.39" width="90.05" height="65.09" fill="none" stroke="#3a3a3a" stroke-width="0.3"/><path d="M402.02 173.39v0.9M402.02 238.48v-0.9M419.67 173.39v0.9M419.67 238.48v-0.9M437.33 173.39v0.9M437.33 238.48v-0.9M454.99 173.39v0.9M454.99 238.48v-0.9M472.64 173.39v0.9M472.64 238.48v-0.9M384.36 176.98h0.9M474.41 176.98h-0.9M384.36 187.37h0.9M474.41 187.37h-0.9M384.36 197.55h0.9M474.41 197.55h-0.9M384.36 207.93h0.9M474.41 207.93h-0.9M384.36 218.11h0.9M474.41 218.11h-0.9M384.36 228.30h0.9M474.41 228.30h-0.9M384.36 238.48h0.9M474.41 238.48h-0.9" stroke="#3a3a3a" stroke-width="0.3" fill="none"/><rect x="384.36" y="238.88" width="90.05" height="4.99" fill="url(#gg)" stroke="#555" stroke-width="0.2"/><text x="383.06" y="178.28" text-anchor="end">600</text><text x="383.06" y="188.67" text-anchor="end">500</text><text x="383.06" y="198.85" text-anchor="end">400</text><text x="383.06" y="209.23" text-anchor="end">300</text><text x="383.06" y="219.41" text-anchor="end">200</text><text x="383.06" y="229.60" text-anchor="end">100</text><text x="383.06" y="239.78" text-anchor="end">0</text><text x="384.36" y="249.46" text-anchor="middle">0</text><text x="402.02" y="249.46" text-anchor="middle">50</text><text x="419.67" y="249.46" text-anchor="middle">100</text><text x="437.33" y="249.46" text-anchor="middle">150</text><text x="454.99" y="249.46" text-anchor="middle">200</text><text x="472.64" y="249.46" text-anchor="middle">250</text><text x="430.08" y="253.06" text-anchor="middle" class="b">Grayscale values</text><text transform="translate(375.36 208.20) rotate(-90)" text-anchor="middle" class="b">Frequency distribution</text></g>
<g><use href="#p14" fill="#3d91cd"/><g clip-path="url(#c14)"><rect x="509.57" y="172.39" width="0.5" height="66.49" fill="#fff" opacity="0.22"/><rect x="513.14" y="172.39" width="0.5" height="66.49" fill="#fff" opacity="0.22"/><rect x="516.72" y="172.39" width="0.5" height="66.49" fill="#fff" opacity="0.22"/><rect x="520.30" y="172.39" width="0.5" height="66.49" fill="#fff" opacity="0.22"/><rect x="523.88" y="172.39" width="0.5" height="66.49" fill="#fff" opacity="0.22"/><rect x="527.46" y="172.39" width="0.5" height="66.49" fill="#fff" opacity="0.22"/><rect x="531.04" y="172.39" width="0.5" height="66.49" fill="#fff" opacity="0.22"/><rect x="534.61" y="172.39" width="0.5" height="66.49" fill="#fff" opacity="0.22"/><rect x="538.19" y="172.39" width="0.5" height="66.49" fill="#fff" opacity="0.22"/><rect x="541.77" y="172.39" width="0.5" height="66.49" fill="#fff" opacity="0.22"/><rect x="545.35" y="172.39" width="0.5" height="66.49" fill="#fff" opacity="0.22"/><rect x="548.93" y="172.39" width="0.5" height="66.49" fill="#fff" opacity="0.22"/><rect x="552.51" y="172.39" width="0.5" height="66.49" fill="#fff" opacity="0.22"/><rect x="556.08" y="172.39" width="0.5" height="66.49" fill="#fff" opacity="0.22"/><rect x="559.66" y="172.39" width="0.5" height="66.49" fill="#fff" opacity="0.22"/><rect x="563.24" y="172.39" width="0.5" height="66.49" fill="#fff" opacity="0.22"/><rect x="566.82" y="172.39" width="0.5" height="66.49" fill="#fff" opacity="0.22"/><rect x="570.40" y="172.39" width="0.5" height="66.49" fill="#fff" opacity="0.22"/><rect x="573.98" y="172.39" width="0.5" height="66.49" fill="#fff" opacity="0.22"/><rect x="577.55" y="172.39" width="0.5" height="66.49" fill="#fff" opacity="0.22"/><rect x="581.13" y="172.39" width="0.5" height="66.49" fill="#fff" opacity="0.22"/><rect x="584.71" y="172.39" width="0.5" height="66.49" fill="#fff" opacity="0.22"/><rect x="588.29" y="172.39" width="0.5" height="66.49" fill="#fff" opacity="0.22"/><rect x="591.87" y="172.39" width="0.5" height="66.49" fill="#fff" opacity="0.22"/><rect x="595.45" y="172.39" width="0.5" height="66.49" fill="#fff" opacity="0.22"/><rect x="599.02" y="172.39" width="0.5" height="66.49" fill="#fff" opacity="0.22"/></g><rect x="507.96" y="172.39" width="91.25" height="66.49" fill="none" stroke="#3a3a3a" stroke-width="0.3"/><path d="M525.85 172.39v0.9M525.85 238.88v-0.9M543.74 172.39v0.9M543.74 238.88v-0.9M561.63 172.39v0.9M561.63 238.88v-0.9M579.52 172.39v0.9M579.52 238.88v-0.9M597.41 172.39v0.9M597.41 238.88v-0.9M507.96 176.38h0.9M599.20 176.38h-0.9M507.96 186.97h0.9M599.20 186.97h-0.9M507.96 197.35h0.9M599.20 197.35h-0.9M507.96 207.93h0.9M599.20 207.93h-0.9M507.96 218.31h0.9M599.20 218.31h-0.9M507.96 228.70h0.9M599.20 228.70h-0.9M507.96 238.88h0.9M599.20 238.88h-0.9" stroke="#3a3a3a" stroke-width="0.3" fill="none"/><rect x="507.96" y="239.28" width="91.25" height="4.99" fill="url(#gg)" stroke="#555" stroke-width="0.2"/><text x="506.66" y="177.68" text-anchor="end">600</text><text x="506.66" y="188.27" text-anchor="end">500</text><text x="506.66" y="198.65" text-anchor="end">400</text><text x="506.66" y="209.23" text-anchor="end">300</text><text x="506.66" y="219.61" text-anchor="end">200</text><text x="506.66" y="230.00" text-anchor="end">100</text><text x="506.66" y="240.18" text-anchor="end">0</text><text x="507.96" y="249.86" text-anchor="middle">0</text><text x="525.85" y="249.86" text-anchor="middle">50</text><text x="543.74" y="249.86" text-anchor="middle">100</text><text x="561.63" y="249.86" text-anchor="middle">150</text><text x="579.52" y="249.86" text-anchor="middle">200</text><text x="597.41" y="249.86" text-anchor="middle">250</text><text x="554.28" y="253.26" text-anchor="middle" class="b">Grayscale values</text><text transform="translate(498.96 208.00) rotate(-90)" text-anchor="middle" class="b">Frequency distribution</text></g>
<g><use href="#p15" fill="#3d91cd"/><g clip-path="url(#c15)"><rect x="15.58" y="255.99" width="0.5" height="67.29" fill="#fff" opacity="0.22"/><rect x="19.15" y="255.99" width="0.5" height="67.29" fill="#fff" opacity="0.22"/><rect x="22.72" y="255.99" width="0.5" height="67.29" fill="#fff" opacity="0.22"/><rect x="26.29" y="255.99" width="0.5" height="67.29" fill="#fff" opacity="0.22"/><rect x="29.87" y="255.99" width="0.5" height="67.29" fill="#fff" opacity="0.22"/><rect x="33.44" y="255.99" width="0.5" height="67.29" fill="#fff" opacity="0.22"/><rect x="37.01" y="255.99" width="0.5" height="67.29" fill="#fff" opacity="0.22"/><rect x="40.58" y="255.99" width="0.5" height="67.29" fill="#fff" opacity="0.22"/><rect x="44.15" y="255.99" width="0.5" height="67.29" fill="#fff" opacity="0.22"/><rect x="47.72" y="255.99" width="0.5" height="67.29" fill="#fff" opacity="0.22"/><rect x="51.29" y="255.99" width="0.5" height="67.29" fill="#fff" opacity="0.22"/><rect x="54.86" y="255.99" width="0.5" height="67.29" fill="#fff" opacity="0.22"/><rect x="58.43" y="255.99" width="0.5" height="67.29" fill="#fff" opacity="0.22"/><rect x="62.00" y="255.99" width="0.5" height="67.29" fill="#fff" opacity="0.22"/><rect x="65.57" y="255.99" width="0.5" height="67.29" fill="#fff" opacity="0.22"/><rect x="69.14" y="255.99" width="0.5" height="67.29" fill="#fff" opacity="0.22"/><rect x="72.71" y="255.99" width="0.5" height="67.29" fill="#fff" opacity="0.22"/><rect x="76.28" y="255.99" width="0.5" height="67.29" fill="#fff" opacity="0.22"/><rect x="79.85" y="255.99" width="0.5" height="67.29" fill="#fff" opacity="0.22"/><rect x="83.42" y="255.99" width="0.5" height="67.29" fill="#fff" opacity="0.22"/><rect x="86.99" y="255.99" width="0.5" height="67.29" fill="#fff" opacity="0.22"/><rect x="90.56" y="255.99" width="0.5" height="67.29" fill="#fff" opacity="0.22"/><rect x="94.13" y="255.99" width="0.5" height="67.29" fill="#fff" opacity="0.22"/><rect x="97.71" y="255.99" width="0.5" height="67.29" fill="#fff" opacity="0.22"/><rect x="101.28" y="255.99" width="0.5" height="67.29" fill="#fff" opacity="0.22"/><rect x="104.85" y="255.99" width="0.5" height="67.29" fill="#fff" opacity="0.22"/></g><rect x="13.98" y="255.99" width="91.05" height="67.29" fill="none" stroke="#3a3a3a" stroke-width="0.3"/><path d="M31.83 255.99v0.9M31.83 323.28v-0.9M49.68 255.99v0.9M49.68 323.28v-0.9M67.53 255.99v0.9M67.53 323.28v-0.9M85.39 255.99v0.9M85.39 323.28v-0.9M103.24 255.99v0.9M103.24 323.28v-0.9M13.98 263.58h0.9M105.02 263.58h-0.9M13.98 273.56h0.9M105.02 273.56h-0.9M13.98 283.54h0.9M105.02 283.54h-0.9M13.98 293.53h0.9M105.02 293.53h-0.9M13.98 303.51h0.9M105.02 303.51h-0.9M13.98 313.49h0.9M105.02 313.49h-0.9M13.98 323.28h0.9M105.02 323.28h-0.9" stroke="#3a3a3a" stroke-width="0.3" fill="none"/><rect x="13.98" y="323.48" width="91.05" height="4.99" fill="url(#gg)" stroke="#555" stroke-width="0.2"/><text x="12.68" y="264.88" text-anchor="end">3000</text><text x="12.68" y="274.86" text-anchor="end">2500</text><text x="12.68" y="284.84" text-anchor="end">2000</text><text x="12.68" y="294.83" text-anchor="end">1500</text><text x="12.68" y="304.81" text-anchor="end">1000</text><text x="12.68" y="314.79" text-anchor="end">500</text><text x="12.68" y="324.58" text-anchor="end">0</text><text x="13.98" y="333.86" text-anchor="middle">0</text><text x="31.83" y="333.86" text-anchor="middle">50</text><text x="49.68" y="333.86" text-anchor="middle">100</text><text x="67.53" y="333.86" text-anchor="middle">150</text><text x="85.39" y="333.86" text-anchor="middle">200</text><text x="103.24" y="333.86" text-anchor="middle">250</text><text x="60.20" y="337.26" text-anchor="middle" class="b">Grayscale values</text><text transform="translate(3.08 293.30) rotate(-90)" text-anchor="middle" class="b">Frequency distribution</text></g>
<g><use href="#p16" fill="#3d91cd"/><g clip-path="url(#c16)"><rect x="139.18" y="257.99" width="0.5" height="63.89" fill="#fff" opacity="0.22"/><rect x="142.76" y="257.99" width="0.5" height="63.89" fill="#fff" opacity="0.22"/><rect x="146.34" y="257.99" width="0.5" height="63.89" fill="#fff" opacity="0.22"/><rect x="149.92" y="257.99" width="0.5" height="63.89" fill="#fff" opacity="0.22"/><rect x="153.49" y="257.99" width="0.5" height="63.89" fill="#fff" opacity="0.22"/><rect x="157.07" y="257.99" width="0.5" height="63.89" fill="#fff" opacity="0.22"/><rect x="160.65" y="257.99" width="0.5" height="63.89" fill="#fff" opacity="0.22"/><rect x="164.23" y="257.99" width="0.5" height="63.89" fill="#fff" opacity="0.22"/><rect x="167.81" y="257.99" width="0.5" height="63.89" fill="#fff" opacity="0.22"/><rect x="171.39" y="257.99" width="0.5" height="63.89" fill="#fff" opacity="0.22"/><rect x="174.96" y="257.99" width="0.5" height="63.89" fill="#fff" opacity="0.22"/><rect x="178.54" y="257.99" width="0.5" height="63.89" fill="#fff" opacity="0.22"/><rect x="182.12" y="257.99" width="0.5" height="63.89" fill="#fff" opacity="0.22"/><rect x="185.70" y="257.99" width="0.5" height="63.89" fill="#fff" opacity="0.22"/><rect x="189.28" y="257.99" width="0.5" height="63.89" fill="#fff" opacity="0.22"/><rect x="192.86" y="257.99" width="0.5" height="63.89" fill="#fff" opacity="0.22"/><rect x="196.43" y="257.99" width="0.5" height="63.89" fill="#fff" opacity="0.22"/><rect x="200.01" y="257.99" width="0.5" height="63.89" fill="#fff" opacity="0.22"/><rect x="203.59" y="257.99" width="0.5" height="63.89" fill="#fff" opacity="0.22"/><rect x="207.17" y="257.99" width="0.5" height="63.89" fill="#fff" opacity="0.22"/><rect x="210.75" y="257.99" width="0.5" height="63.89" fill="#fff" opacity="0.22"/><rect x="214.33" y="257.99" width="0.5" height="63.89" fill="#fff" opacity="0.22"/><rect x="217.90" y="257.99" width="0.5" height="63.89" fill="#fff" opacity="0.22"/><rect x="221.48" y="257.99" width="0.5" height="63.89" fill="#fff" opacity="0.22"/><rect x="225.06" y="257.99" width="0.5" height="63.89" fill="#fff" opacity="0.22"/><rect x="228.64" y="257.99" width="0.5" height="63.89" fill="#fff" opacity="0.22"/></g><rect x="137.57" y="257.99" width="91.25" height="63.89" fill="none" stroke="#3a3a3a" stroke-width="0.3"/><path d="M155.46 257.99v0.9M155.46 321.88v-0.9M173.35 257.99v0.9M173.35 321.88v-0.9M191.25 257.99v0.9M191.25 321.88v-0.9M209.14 257.99v0.9M209.14 321.88v-0.9M227.03 257.99v0.9M227.03 321.88v-0.9M137.57 261.58h0.9M228.82 261.58h-0.9M137.57 276.56h0.9M228.82 276.56h-0.9M137.57 291.73h0.9M228.82 291.73h-0.9M137.57 306.91h0.9M228.82 306.91h-0.9M137.57 321.88h0.9M228.82 321.88h-0.9" stroke="#3a3a3a" stroke-width="0.3" fill="none"/><rect x="137.57" y="322.08" width="91.25" height="4.99" fill="url(#gg)" stroke="#555" stroke-width="0.2"/><text x="136.27" y="262.88" text-anchor="end">4000</text><text x="136.27" y="277.86" text-anchor="end">3000</text><text x="136.27" y="293.03" text-anchor="end">2000</text><text x="136.27" y="308.21" text-anchor="end">1000</text><text x="136.27" y="323.18" text-anchor="end">0</text><text x="137.57" y="332.46" text-anchor="middle">0</text><text x="155.46" y="332.46" text-anchor="middle">50</text><text x="173.35" y="332.46" text-anchor="middle">100</text><text x="191.25" y="332.46" text-anchor="middle">150</text><text x="209.14" y="332.46" text-anchor="middle">200</text><text x="227.03" y="332.46" text-anchor="middle">250</text><text x="183.89" y="335.86" text-anchor="middle" class="b">Grayscale values</text><text transform="translate(126.67 299.50) rotate(-90)" text-anchor="middle" class="b">Frequency distribution</text></g>
<g><use href="#p17" fill="#3d91cd"/><g clip-path="url(#c17)"><rect x="262.58" y="255.99" width="0.5" height="66.89" fill="#fff" opacity="0.22"/><rect x="266.15" y="255.99" width="0.5" height="66.89" fill="#fff" opacity="0.22"/><rect x="269.73" y="255.99" width="0.5" height="66.89" fill="#fff" opacity="0.22"/><rect x="273.31" y="255.99" width="0.5" height="66.89" fill="#fff" opacity="0.22"/><rect x="276.89" y="255.99" width="0.5" height="66.89" fill="#fff" opacity="0.22"/><rect x="280.47" y="255.99" width="0.5" height="66.89" fill="#fff" opacity="0.22"/><rect x="284.05" y="255.99" width="0.5" height="66.89" fill="#fff" opacity="0.22"/><rect x="287.62" y="255.99" width="0.5" height="66.89" fill="#fff" opacity="0.22"/><rect x="291.20" y="255.99" width="0.5" height="66.89" fill="#fff" opacity="0.22"/><rect x="294.78" y="255.99" width="0.5" height="66.89" fill="#fff" opacity="0.22"/><rect x="298.36" y="255.99" width="0.5" height="66.89" fill="#fff" opacity="0.22"/><rect x="301.94" y="255.99" width="0.5" height="66.89" fill="#fff" opacity="0.22"/><rect x="305.52" y="255.99" width="0.5" height="66.89" fill="#fff" opacity="0.22"/><rect x="309.09" y="255.99" width="0.5" height="66.89" fill="#fff" opacity="0.22"/><rect x="312.67" y="255.99" width="0.5" height="66.89" fill="#fff" opacity="0.22"/><rect x="316.25" y="255.99" width="0.5" height="66.89" fill="#fff" opacity="0.22"/><rect x="319.83" y="255.99" width="0.5" height="66.89" fill="#fff" opacity="0.22"/><rect x="323.41" y="255.99" width="0.5" height="66.89" fill="#fff" opacity="0.22"/><rect x="326.99" y="255.99" width="0.5" height="66.89" fill="#fff" opacity="0.22"/><rect x="330.56" y="255.99" width="0.5" height="66.89" fill="#fff" opacity="0.22"/><rect x="334.14" y="255.99" width="0.5" height="66.89" fill="#fff" opacity="0.22"/><rect x="337.72" y="255.99" width="0.5" height="66.89" fill="#fff" opacity="0.22"/><rect x="341.30" y="255.99" width="0.5" height="66.89" fill="#fff" opacity="0.22"/><rect x="344.88" y="255.99" width="0.5" height="66.89" fill="#fff" opacity="0.22"/><rect x="348.46" y="255.99" width="0.5" height="66.89" fill="#fff" opacity="0.22"/><rect x="352.03" y="255.99" width="0.5" height="66.89" fill="#fff" opacity="0.22"/></g><rect x="260.97" y="255.99" width="91.25" height="66.89" fill="none" stroke="#3a3a3a" stroke-width="0.3"/><path d="M278.86 255.99v0.9M278.86 322.88v-0.9M296.75 255.99v0.9M296.75 322.88v-0.9M314.64 255.99v0.9M314.64 322.88v-0.9M332.53 255.99v0.9M332.53 322.88v-0.9M350.42 255.99v0.9M350.42 322.88v-0.9M260.97 256.99h0.9M352.21 256.99h-0.9M260.97 266.37h0.9M352.21 266.37h-0.9M260.97 275.96h0.9M352.21 275.96h-0.9M260.97 285.34h0.9M352.21 285.34h-0.9M260.97 294.73h0.9M352.21 294.73h-0.9M260.97 304.11h0.9M352.21 304.11h-0.9M260.97 313.49h0.9M352.21 313.49h-0.9M260.97 322.88h0.9M352.21 322.88h-0.9" stroke="#3a3a3a" stroke-width="0.3" fill="none"/><rect x="260.97" y="323.08" width="91.25" height="4.99" fill="url(#gg)" stroke="#555" stroke-width="0.2"/><text x="259.67" y="258.29" text-anchor="end">3500</text><text x="259.67" y="267.67" text-anchor="end">3000</text><text x="259.67" y="277.26" text-anchor="end">2500</text><text x="259.67" y="286.64" text-anchor="end">2000</text><text x="259.67" y="296.03" text-anchor="end">1500</text><text x="259.67" y="305.41" text-anchor="end">1000</text><text x="259.67" y="314.79" text-anchor="end">500</text><text x="259.67" y="324.18" text-anchor="end">0</text><text x="260.97" y="333.66" text-anchor="middle">0</text><text x="278.86" y="333.66" text-anchor="middle">50</text><text x="296.75" y="333.66" text-anchor="middle">100</text><text x="314.64" y="333.66" text-anchor="middle">150</text><text x="332.53" y="333.66" text-anchor="middle">200</text><text x="350.42" y="333.66" text-anchor="middle">250</text><text x="307.29" y="336.86" text-anchor="middle" class="b">Grayscale values</text><text transform="translate(250.07 294.50) rotate(-90)" text-anchor="middle" class="b">Frequency distribution</text></g>
<g><use href="#p18" fill="#3d91cd"/><g clip-path="url(#c18)"><rect x="385.98" y="257.99" width="0.5" height="64.29" fill="#fff" opacity="0.22"/><rect x="389.58" y="257.99" width="0.5" height="64.29" fill="#fff" opacity="0.22"/><rect x="393.18" y="257.99" width="0.5" height="64.29" fill="#fff" opacity="0.22"/><rect x="396.79" y="257.99" width="0.5" height="64.29" fill="#fff" opacity="0.22"/><rect x="400.39" y="257.99" width="0.5" height="64.29" fill="#fff" opacity="0.22"/><rect x="403.99" y="257.99" width="0.5" height="64.29" fill="#fff" opacity="0.22"/><rect x="407.59" y="257.99" width="0.5" height="64.29" fill="#fff" opacity="0.22"/><rect x="411.19" y="257.99" width="0.5" height="64.29" fill="#fff" opacity="0.22"/><rect x="414.79" y="257.99" width="0.5" height="64.29" fill="#fff" opacity="0.22"/><rect x="418.40" y="257.99" width="0.5" height="64.29" fill="#fff" opacity="0.22"/><rect x="422.00" y="257.99" width="0.5" height="64.29" fill="#fff" opacity="0.22"/><rect x="425.60" y="257.99" width="0.5" height="64.29" fill="#fff" opacity="0.22"/><rect x="429.20" y="257.99" width="0.5" height="64.29" fill="#fff" opacity="0.22"/><rect x="432.80" y="257.99" width="0.5" height="64.29" fill="#fff" opacity="0.22"/><rect x="436.41" y="257.99" width="0.5" height="64.29" fill="#fff" opacity="0.22"/><rect x="440.01" y="257.99" width="0.5" height="64.29" fill="#fff" opacity="0.22"/><rect x="443.61" y="257.99" width="0.5" height="64.29" fill="#fff" opacity="0.22"/><rect x="447.21" y="257.99" width="0.5" height="64.29" fill="#fff" opacity="0.22"/><rect x="450.81" y="257.99" width="0.5" height="64.29" fill="#fff" opacity="0.22"/><rect x="454.42" y="257.99" width="0.5" height="64.29" fill="#fff" opacity="0.22"/><rect x="458.02" y="257.99" width="0.5" height="64.29" fill="#fff" opacity="0.22"/><rect x="461.62" y="257.99" width="0.5" height="64.29" fill="#fff" opacity="0.22"/><rect x="465.22" y="257.99" width="0.5" height="64.29" fill="#fff" opacity="0.22"/><rect x="468.82" y="257.99" width="0.5" height="64.29" fill="#fff" opacity="0.22"/><rect x="472.42" y="257.99" width="0.5" height="64.29" fill="#fff" opacity="0.22"/><rect x="476.03" y="257.99" width="0.5" height="64.29" fill="#fff" opacity="0.22"/></g><rect x="384.36" y="257.99" width="91.85" height="64.29" fill="none" stroke="#3a3a3a" stroke-width="0.3"/><path d="M402.37 257.99v0.9M402.37 322.28v-0.9M420.38 257.99v0.9M420.38 322.28v-0.9M438.39 257.99v0.9M438.39 322.28v-0.9M456.40 257.99v0.9M456.40 322.28v-0.9M474.41 257.99v0.9M474.41 322.28v-0.9M384.36 260.98h0.9M476.21 260.98h-0.9M384.36 276.36h0.9M476.21 276.36h-0.9M384.36 291.73h0.9M476.21 291.73h-0.9M384.36 307.10h0.9M476.21 307.10h-0.9M384.36 322.28h0.9M476.21 322.28h-0.9" stroke="#3a3a3a" stroke-width="0.3" fill="none"/><rect x="384.36" y="322.68" width="91.85" height="4.99" fill="url(#gg)" stroke="#555" stroke-width="0.2"/><text x="383.06" y="262.28" text-anchor="end">4000</text><text x="383.06" y="277.66" text-anchor="end">3000</text><text x="383.06" y="293.03" text-anchor="end">2000</text><text x="383.06" y="308.40" text-anchor="end">1000</text><text x="383.06" y="323.58" text-anchor="end">0</text><text x="384.36" y="332.86" text-anchor="middle">0</text><text x="402.37" y="332.86" text-anchor="middle">50</text><text x="420.38" y="332.86" text-anchor="middle">100</text><text x="438.39" y="332.86" text-anchor="middle">150</text><text x="456.40" y="332.86" text-anchor="middle">200</text><text x="474.41" y="332.86" text-anchor="middle">250</text><text x="430.98" y="336.26" text-anchor="middle" class="b">Grayscale values</text><text transform="translate(373.46 299.30) rotate(-90)" text-anchor="middle" class="b">Frequency distribution</text></g>
<g><path d="M507.96 323.28h.35h.36h.35h.36h.36h.35h.36h.36h.35h.36h.36h.35h.36h.36h.35h.36h.35h.36h.36h.35h.36h.36v-.01h.35v-.82h.36v-.61h.36v-.25h.35v-.71h.36v-.33h.36v-.94h.35v-.28h.36v-.52h.35v-.72h.36v-.36h.36v-.02h.35v-.6h.36v-1.13h.36v-.02h.35v-1.16h.36v-.33h.36v-.9h.35v-.69h.36v-1.1h.36v-.35h.35v.57h.36v-1.7h.35v-1.48h.36v.05h.36v-2.23h.35v.55h.36v-1.59h.36v-2.65h.35v-.29h.36v-.2h.36v.57h.35v-3.03h.36v-.03h.36v-2.44h.35v1.52h.36v-.23h.35v-2.07h.36v-.72h.36v2.92h.35v-1.21h.36v-2.13h.36v.76h.35v-1.42h.36v-.55h.36v1.64h.35v-4.44h.36v-.25h.36v1.21h.35v1.6h.36v-1.35h.35v-1.5h.36v1.42h.36v-.14h.35v-4.36h.36v.67h.36v-.76h.35v-.14h.36v.1h.36v-3.44h.35v2.1h.36v-1.5h.36v-1.95h.35v4.13h.36v-2.69h.36v.73h.35v2.56h.36v-5.08h.35v.6h.36v-3.3h.36v.94h.35v-2.97h.36v7.44h.36v-4.11h.35v-1.89h.36v-4.85h.36v2.41h.35v-.39h.36v.58h.36v-.52h.35v-3.59h.36v-1.09h.35v5.71h.36v-2.22h.36v-.74h.35v-1.42h.36v-1.4h.36v2.58h.35v-3.49h.36v-2.9h.36v8.71h.35v-4.52h.36v.54h.36v6.76h.35v-6.21h.36v-.87h.35v-.67h.36v.09h.36v-.27h.35v5.31h.36v-.22h.36v-1.54h.35v-2.81h.36v-3.62h.36v4.85h.35v1.8h.36v.67h.36v-1.63h.35v.28h.36v-1.08h.35v1.47h.36v-.53h.36v1.23h.35v-.78h.36v-1.88h.36v.75h.35v3.34h.36v.22h.36v-1.21h.35v1.96h.36v-.36h.36v1.59h.35v-2.2h.36v7.25h.35v-8.59h.36v3.43h.36v-3h.35v.08h.36v2.5h.36v.62h.35v-1.59h.36v3.6h.36v-1.64h.35v-.81h.36v-.46h.36v2.24h.35v2.09h.36v-1.35h.36v-2.94h.35v4.9h.36v-1.69h.35v1.66h.36v-4.9h.36v2.56h.35v1.55h.36v-1.31h.36v3.17h.35v-1.09h.36v-.69h.36v4.81h.35v-4.86h.36v.44h.36v-5.53h.35v2.07h.36v-1.41h.35v-8.55h.36v8.13h.36v-2.05h.35v5.85h.36v2.06h.36v-4.21h.35v6.93h.36v-1.04h.36v-1.69h.35v.78h.36v-.37h.36v-.1h.35v-1.32h.36v-1.91h.35v2.55h.36v.86h.36v-5.75h.35v3.04h.36v-3.68h.36v-1.51h.35v-.2h.36v-2.78h.36v.81h.35v-6.1h.36v7.89h.36v-1.1h.35v1.75h.36v1.94h.35v-4.84h.36v4.06h.36v-4.75h.35v1.73h.36v-2.59h.36v-.65h.35v-2.22h.36v9.4h.36v4.65h.35v1.38h.36v1.4h.36v-1.75h.35v-.41h.36v-1.03h.35v2.59h.36v-2.37h.36v4.57h.35v1.44h.36v1.6h.36v.41h.35v1.36h.36v-.26h.36v3.69h.35v3.8h.36v2.53h.36v2.73h.35v1.99h.36v.64h.35v1.75h.36v2.84h.36v1.17h.35v.97h.36v2.5h.36v.83h.35v1.04h.36v.23h.36v.91h.35v.65h.36v.52h.36v.17h.35v.36h.36v.02h.36v.36h.35v.01h.36v.18h.35v.04h.36v.14h.36v.37h.35v.01h.36v.02h.36v.06h.35V323.28Z" fill="#3d91cd" opacity="0.5"/><g clip-path="url(#u19)"><rect x="508.26" y="255.99" width="0.55" height="67.29" fill="#fff" opacity="0.36"/><rect x="510.40" y="255.99" width="0.55" height="67.29" fill="#fff" opacity="0.31"/><rect x="512.54" y="255.99" width="0.55" height="67.29" fill="#fff" opacity="0.46"/><rect x="514.68" y="255.99" width="0.55" height="67.29" fill="#fff" opacity="0.28"/><rect x="516.11" y="255.99" width="0.55" height="67.29" fill="#fff" opacity="0.66"/><rect x="517.89" y="255.99" width="0.55" height="67.29" fill="#fff" opacity="0.37"/><rect x="519.32" y="255.99" width="0.55" height="67.29" fill="#fff" opacity="0.34"/><rect x="521.46" y="255.99" width="0.55" height="67.29" fill="#fff" opacity="0.46"/><rect x="523.60" y="255.99" width="0.55" height="67.29" fill="#fff" opacity="0.46"/><rect x="525.74" y="255.99" width="0.55" height="67.29" fill="#fff" opacity="0.64"/><rect x="527.17" y="255.99" width="0.55" height="67.29" fill="#fff" opacity="0.54"/><rect x="529.31" y="255.99" width="0.55" height="67.29" fill="#fff" opacity="0.43"/><rect x="530.74" y="255.99" width="0.55" height="67.29" fill="#fff" opacity="0.55"/><rect x="532.17" y="255.99" width="0.55" height="67.29" fill="#fff" opacity="0.32"/><rect x="534.31" y="255.99" width="0.55" height="67.29" fill="#fff" opacity="0.27"/><rect x="535.74" y="255.99" width="0.55" height="67.29" fill="#fff" opacity="0.62"/><rect x="537.52" y="255.99" width="0.55" height="67.29" fill="#fff" opacity="0.46"/><rect x="539.66" y="255.99" width="0.55" height="67.29" fill="#fff" opacity="0.66"/><rect x="541.44" y="255.99" width="0.55" height="67.29" fill="#fff" opacity="0.57"/><rect x="543.22" y="255.99" width="0.55" height="67.29" fill="#fff" opacity="0.43"/><rect x="545.36" y="255.99" width="0.55" height="67.29" fill="#fff" opacity="0.45"/><rect x="546.79" y="255.99" width="0.55" height="67.29" fill="#fff" opacity="0.65"/><rect x="548.22" y="255.99" width="0.55" height="67.29" fill="#fff" opacity="0.27"/><rect x="550.00" y="255.99" width="0.55" height="67.29" fill="#fff" opacity="0.35"/><rect x="552.14" y="255.99" width="0.55" height="67.29" fill="#fff" opacity="0.45"/><rect x="554.28" y="255.99" width="0.55" height="67.29" fill="#fff" opacity="0.63"/><rect x="556.06" y="255.99" width="0.55" height="67.29" fill="#fff" opacity="0.48"/><rect x="557.84" y="255.99" width="0.55" height="67.29" fill="#fff" opacity="0.51"/><rect x="559.98" y="255.99" width="0.55" height="67.29" fill="#fff" opacity="0.51"/><rect x="562.12" y="255.99" width="0.55" height="67.29" fill="#fff" opacity="0.35"/><rect x="563.90" y="255.99" width="0.55" height="67.29" fill="#fff" opacity="0.56"/><rect x="565.33" y="255.99" width="0.55" height="67.29" fill="#fff" opacity="0.64"/><rect x="567.47" y="255.99" width="0.55" height="67.29" fill="#fff" opacity="0.55"/><rect x="568.90" y="255.99" width="0.55" height="67.29" fill="#fff" opacity="0.56"/><rect x="570.68" y="255.99" width="0.55" height="67.29" fill="#fff" opacity="0.68"/><rect x="572.82" y="255.99" width="0.55" height="67.29" fill="#fff" opacity="0.51"/><rect x="574.96" y="255.99" width="0.55" height="67.29" fill="#fff" opacity="0.54"/><rect x="577.10" y="255.99" width="0.55" height="67.29" fill="#fff" opacity="0.62"/><rect x="579.24" y="255.99" width="0.55" height="67.29" fill="#fff" opacity="0.37"/><rect x="580.67" y="255.99" width="0.55" height="67.29" fill="#fff" opacity="0.28"/><rect x="582.81" y="255.99" width="0.55" height="67.29" fill="#fff" opacity="0.70"/><rect x="584.24" y="255.99" width="0.55" height="67.29" fill="#fff" opacity="0.40"/><rect x="585.67" y="255.99" width="0.55" height="67.29" fill="#fff" opacity="0.43"/><rect x="587.10" y="255.99" width="0.55" height="67.29" fill="#fff" opacity="0.26"/><rect x="588.88" y="255.99" width="0.55" height="67.29" fill="#fff" opacity="0.60"/><rect x="590.31" y="255.99" width="0.55" height="67.29" fill="#fff" opacity="0.27"/><rect x="592.45" y="255.99" width="0.55" height="67.29" fill="#fff" opacity="0.59"/><rect x="594.23" y="255.99" width="0.55" height="67.29" fill="#fff" opacity="0.57"/><rect x="596.01" y="255.99" width="0.55" height="67.29" fill="#fff" opacity="0.50"/><rect x="597.79" y="255.99" width="0.55" height="67.29" fill="#fff" opacity="0.48"/></g><rect x="516.87" y="322.12" width="0.45" height="1.16" fill="#3d91cd" opacity="0.75"/><rect x="518.29" y="320.85" width="0.45" height="2.43" fill="#3d91cd" opacity="0.75"/><rect x="519.72" y="318.66" width="0.45" height="4.62" fill="#3d91cd" opacity="0.75"/><rect x="521.14" y="318.35" width="0.45" height="4.93" fill="#3d91cd" opacity="0.75"/><rect x="522.57" y="314.31" width="0.45" height="8.97" fill="#3d91cd" opacity="0.75"/><rect x="523.99" y="313.06" width="0.45" height="10.22" fill="#3d91cd" opacity="0.75"/><rect x="525.42" y="313.11" width="0.45" height="10.16" fill="#3d91cd" opacity="0.75"/><rect x="526.85" y="307.73" width="0.45" height="15.55" fill="#3d91cd" opacity="0.75"/><rect x="528.27" y="309.56" width="0.45" height="13.72" fill="#3d91cd" opacity="0.75"/><rect x="529.70" y="305.36" width="0.45" height="17.92" fill="#3d91cd" opacity="0.75"/><rect x="531.12" y="306.85" width="0.45" height="16.43" fill="#3d91cd" opacity="0.75"/><rect x="532.55" y="304.47" width="0.45" height="18.81" fill="#3d91cd" opacity="0.75"/><rect x="533.97" y="299.86" width="0.45" height="23.41" fill="#3d91cd" opacity="0.75"/><rect x="535.40" y="292.15" width="0.45" height="31.13" fill="#3d91cd" opacity="0.75"/><rect x="536.83" y="299.98" width="0.45" height="23.30" fill="#3d91cd" opacity="0.75"/><rect x="538.25" y="300.13" width="0.45" height="23.15" fill="#3d91cd" opacity="0.75"/><rect x="539.68" y="290.22" width="0.45" height="33.05" fill="#3d91cd" opacity="0.75"/><rect x="541.10" y="280.15" width="0.45" height="43.13" fill="#3d91cd" opacity="0.75"/><rect x="542.53" y="284.60" width="0.45" height="38.68" fill="#3d91cd" opacity="0.75"/><rect x="543.96" y="289.86" width="0.45" height="33.42" fill="#3d91cd" opacity="0.75"/><rect x="545.38" y="277.15" width="0.45" height="46.13" fill="#3d91cd" opacity="0.75"/><rect x="546.81" y="295.61" width="0.45" height="27.67" fill="#3d91cd" opacity="0.75"/><rect x="548.23" y="276.63" width="0.45" height="46.65" fill="#3d91cd" opacity="0.75"/><rect x="549.66" y="289.19" width="0.45" height="34.08" fill="#3d91cd" opacity="0.75"/><rect x="551.08" y="295.08" width="0.45" height="28.20" fill="#3d91cd" opacity="0.75"/><rect x="552.51" y="290.69" width="0.45" height="32.59" fill="#3d91cd" opacity="0.75"/><rect x="553.94" y="290.12" width="0.45" height="33.16" fill="#3d91cd" opacity="0.75"/><rect x="555.36" y="279.65" width="0.45" height="43.63" fill="#3d91cd" opacity="0.75"/><rect x="556.79" y="292.45" width="0.45" height="30.83" fill="#3d91cd" opacity="0.75"/><rect x="558.21" y="287.43" width="0.45" height="35.85" fill="#3d91cd" opacity="0.75"/><rect x="559.64" y="291.51" width="0.45" height="31.77" fill="#3d91cd" opacity="0.75"/><rect x="561.06" y="290.19" width="0.45" height="33.09" fill="#3d91cd" opacity="0.75"/><rect x="562.49" y="290.70" width="0.45" height="32.58" fill="#3d91cd" opacity="0.75"/><rect x="563.92" y="298.97" width="0.45" height="24.31" fill="#3d91cd" opacity="0.75"/><rect x="565.34" y="300.57" width="0.45" height="22.70" fill="#3d91cd" opacity="0.75"/><rect x="566.77" y="296.58" width="0.45" height="26.69" fill="#3d91cd" opacity="0.75"/><rect x="568.19" y="290.01" width="0.45" height="33.27" fill="#3d91cd" opacity="0.75"/><rect x="569.62" y="294.08" width="0.45" height="29.20" fill="#3d91cd" opacity="0.75"/><rect x="571.04" y="286.83" width="0.45" height="36.45" fill="#3d91cd" opacity="0.75"/><rect x="572.47" y="291.83" width="0.45" height="31.45" fill="#3d91cd" opacity="0.75"/><rect x="573.90" y="294.06" width="0.45" height="29.22" fill="#3d91cd" opacity="0.75"/><rect x="575.32" y="295.96" width="0.45" height="27.32" fill="#3d91cd" opacity="0.75"/><rect x="576.75" y="283.61" width="0.45" height="39.67" fill="#3d91cd" opacity="0.75"/><rect x="578.17" y="283.44" width="0.45" height="39.84" fill="#3d91cd" opacity="0.75"/><rect x="579.60" y="292.49" width="0.45" height="30.79" fill="#3d91cd" opacity="0.75"/><rect x="581.02" y="284.01" width="0.45" height="39.27" fill="#3d91cd" opacity="0.75"/><rect x="582.45" y="283.85" width="0.45" height="39.43" fill="#3d91cd" opacity="0.75"/><rect x="583.88" y="286.56" width="0.45" height="36.71" fill="#3d91cd" opacity="0.75"/><rect x="585.30" y="289.58" width="0.45" height="33.70" fill="#3d91cd" opacity="0.75"/><rect x="586.73" y="299.52" width="0.45" height="23.76" fill="#3d91cd" opacity="0.75"/><rect x="588.15" y="293.70" width="0.45" height="29.58" fill="#3d91cd" opacity="0.75"/><rect x="589.58" y="310.85" width="0.45" height="12.43" fill="#3d91cd" opacity="0.75"/><rect x="591.00" y="313.37" width="0.45" height="9.91" fill="#3d91cd" opacity="0.75"/><rect x="592.43" y="317.94" width="0.45" height="5.34" fill="#3d91cd" opacity="0.75"/><rect x="593.86" y="321.38" width="0.45" height="1.90" fill="#3d91cd" opacity="0.75"/><rect x="595.28" y="322.22" width="0.45" height="1.06" fill="#3d91cd" opacity="0.75"/><use href="#p19" fill="#3d91cd"/><g clip-path="url(#c19)"><rect x="509.57" y="255.99" width="0.5" height="67.29" fill="#fff" opacity="0.22"/><rect x="513.14" y="255.99" width="0.5" height="67.29" fill="#fff" opacity="0.22"/><rect x="516.72" y="255.99" width="0.5" height="67.29" fill="#fff" opacity="0.22"/><rect x="520.30" y="255.99" width="0.5" height="67.29" fill="#fff" opacity="0.22"/><rect x="523.88" y="255.99" width="0.5" height="67.29" fill="#fff" opacity="0.22"/><rect x="527.46" y="255.99" width="0.5" height="67.29" fill="#fff" opacity="0.22"/><rect x="531.04" y="255.99" width="0.5" height="67.29" fill="#fff" opacity="0.22"/><rect x="534.61" y="255.99" width="0.5" height="67.29" fill="#fff" opacity="0.22"/><rect x="538.19" y="255.99" width="0.5" height="67.29" fill="#fff" opacity="0.22"/><rect x="541.77" y="255.99" width="0.5" height="67.29" fill="#fff" opacity="0.22"/><rect x="545.35" y="255.99" width="0.5" height="67.29" fill="#fff" opacity="0.22"/><rect x="548.93" y="255.99" width="0.5" height="67.29" fill="#fff" opacity="0.22"/><rect x="552.51" y="255.99" width="0.5" height="67.29" fill="#fff" opacity="0.22"/><rect x="556.08" y="255.99" width="0.5" height="67.29" fill="#fff" opacity="0.22"/><rect x="559.66" y="255.99" width="0.5" height="67.29" fill="#fff" opacity="0.22"/><rect x="563.24" y="255.99" width="0.5" height="67.29" fill="#fff" opacity="0.22"/><rect x="566.82" y="255.99" width="0.5" height="67.29" fill="#fff" opacity="0.22"/><rect x="570.40" y="255.99" width="0.5" height="67.29" fill="#fff" opacity="0.22"/><rect x="573.98" y="255.99" width="0.5" height="67.29" fill="#fff" opacity="0.22"/><rect x="577.55" y="255.99" width="0.5" height="67.29" fill="#fff" opacity="0.22"/><rect x="581.13" y="255.99" width="0.5" height="67.29" fill="#fff" opacity="0.22"/><rect x="584.71" y="255.99" width="0.5" height="67.29" fill="#fff" opacity="0.22"/><rect x="588.29" y="255.99" width="0.5" height="67.29" fill="#fff" opacity="0.22"/><rect x="591.87" y="255.99" width="0.5" height="67.29" fill="#fff" opacity="0.22"/><rect x="595.45" y="255.99" width="0.5" height="67.29" fill="#fff" opacity="0.22"/><rect x="599.02" y="255.99" width="0.5" height="67.29" fill="#fff" opacity="0.22"/></g><rect x="507.96" y="255.99" width="91.25" height="67.29" fill="none" stroke="#3a3a3a" stroke-width="0.3"/><path d="M525.85 255.99v0.9M525.85 323.28v-0.9M543.74 255.99v0.9M543.74 323.28v-0.9M561.63 255.99v0.9M561.63 323.28v-0.9M579.52 255.99v0.9M579.52 323.28v-0.9M597.41 255.99v0.9M597.41 323.28v-0.9M507.96 261.38h0.9M599.20 261.38h-0.9M507.96 271.76h0.9M599.20 271.76h-0.9M507.96 281.95h0.9M599.20 281.95h-0.9M507.96 292.33h0.9M599.20 292.33h-0.9M507.96 302.71h0.9M599.20 302.71h-0.9M507.96 313.09h0.9M599.20 313.09h-0.9M507.96 323.28h0.9M599.20 323.28h-0.9" stroke="#3a3a3a" stroke-width="0.3" fill="none"/><rect x="507.96" y="323.48" width="91.25" height="4.99" fill="url(#gg)" stroke="#555" stroke-width="0.2"/><text x="506.66" y="262.68" text-anchor="end">3000</text><text x="506.66" y="273.06" text-anchor="end">2500</text><text x="506.66" y="283.25" text-anchor="end">2000</text><text x="506.66" y="293.63" text-anchor="end">1500</text><text x="506.66" y="304.01" text-anchor="end">1000</text><text x="506.66" y="314.39" text-anchor="end">500</text><text x="506.66" y="324.58" text-anchor="end">0</text><text x="507.96" y="333.86" text-anchor="middle">0</text><text x="525.85" y="333.86" text-anchor="middle">50</text><text x="543.74" y="333.86" text-anchor="middle">100</text><text x="561.63" y="333.86" text-anchor="middle">150</text><text x="579.52" y="333.86" text-anchor="middle">200</text><text x="597.41" y="333.86" text-anchor="middle">250</text><text x="554.28" y="337.26" text-anchor="middle" class="b">Grayscale values</text><text transform="translate(497.06 292.00) rotate(-90)" text-anchor="middle" class="b">Frequency distribution</text></g>
<g><use href="#p20" fill="#3d91cd"/><g clip-path="url(#c20)"><rect x="15.58" y="340.39" width="0.5" height="66.09" fill="#fff" opacity="0.22"/><rect x="19.15" y="340.39" width="0.5" height="66.09" fill="#fff" opacity="0.22"/><rect x="22.72" y="340.39" width="0.5" height="66.09" fill="#fff" opacity="0.22"/><rect x="26.29" y="340.39" width="0.5" height="66.09" fill="#fff" opacity="0.22"/><rect x="29.87" y="340.39" width="0.5" height="66.09" fill="#fff" opacity="0.22"/><rect x="33.44" y="340.39" width="0.5" height="66.09" fill="#fff" opacity="0.22"/><rect x="37.01" y="340.39" width="0.5" height="66.09" fill="#fff" opacity="0.22"/><rect x="40.58" y="340.39" width="0.5" height="66.09" fill="#fff" opacity="0.22"/><rect x="44.15" y="340.39" width="0.5" height="66.09" fill="#fff" opacity="0.22"/><rect x="47.72" y="340.39" width="0.5" height="66.09" fill="#fff" opacity="0.22"/><rect x="51.29" y="340.39" width="0.5" height="66.09" fill="#fff" opacity="0.22"/><rect x="54.86" y="340.39" width="0.5" height="66.09" fill="#fff" opacity="0.22"/><rect x="58.43" y="340.39" width="0.5" height="66.09" fill="#fff" opacity="0.22"/><rect x="62.00" y="340.39" width="0.5" height="66.09" fill="#fff" opacity="0.22"/><rect x="65.57" y="340.39" width="0.5" height="66.09" fill="#fff" opacity="0.22"/><rect x="69.14" y="340.39" width="0.5" height="66.09" fill="#fff" opacity="0.22"/><rect x="72.71" y="340.39" width="0.5" height="66.09" fill="#fff" opacity="0.22"/><rect x="76.28" y="340.39" width="0.5" height="66.09" fill="#fff" opacity="0.22"/><rect x="79.85" y="340.39" width="0.5" height="66.09" fill="#fff" opacity="0.22"/><rect x="83.42" y="340.39" width="0.5" height="66.09" fill="#fff" opacity="0.22"/><rect x="86.99" y="340.39" width="0.5" height="66.09" fill="#fff" opacity="0.22"/><rect x="90.56" y="340.39" width="0.5" height="66.09" fill="#fff" opacity="0.22"/><rect x="94.13" y="340.39" width="0.5" height="66.09" fill="#fff" opacity="0.22"/><rect x="97.71" y="340.39" width="0.5" height="66.09" fill="#fff" opacity="0.22"/><rect x="101.28" y="340.39" width="0.5" height="66.09" fill="#fff" opacity="0.22"/><rect x="104.85" y="340.39" width="0.5" height="66.09" fill="#fff" opacity="0.22"/></g><rect x="13.98" y="340.39" width="91.05" height="66.09" fill="none" stroke="#3a3a3a" stroke-width="0.3"/><path d="M31.83 340.39v0.9M31.83 406.48v-0.9M49.68 340.39v0.9M49.68 406.48v-0.9M67.53 340.39v0.9M67.53 406.48v-0.9M85.39 340.39v0.9M85.39 406.48v-0.9M103.24 340.39v0.9M103.24 406.48v-0.9M13.98 346.38h0.9M105.02 346.38h-0.9M13.98 356.37h0.9M105.02 356.37h-0.9M13.98 366.35h0.9M105.02 366.35h-0.9M13.98 376.53h0.9M105.02 376.53h-0.9M13.98 386.52h0.9M105.02 386.52h-0.9M13.98 396.50h0.9M105.02 396.50h-0.9M13.98 406.48h0.9M105.02 406.48h-0.9" stroke="#3a3a3a" stroke-width="0.3" fill="none"/><rect x="13.98" y="406.68" width="91.05" height="4.99" fill="url(#gg)" stroke="#555" stroke-width="0.2"/><text x="12.68" y="347.68" text-anchor="end">3000</text><text x="12.68" y="357.67" text-anchor="end">2500</text><text x="12.68" y="367.65" text-anchor="end">2000</text><text x="12.68" y="377.83" text-anchor="end">1500</text><text x="12.68" y="387.82" text-anchor="end">1000</text><text x="12.68" y="397.80" text-anchor="end">500</text><text x="12.68" y="407.78" text-anchor="end">0</text><text x="13.98" y="417.27" text-anchor="middle">0</text><text x="31.83" y="417.27" text-anchor="middle">50</text><text x="49.68" y="417.27" text-anchor="middle">100</text><text x="67.53" y="417.27" text-anchor="middle">150</text><text x="85.39" y="417.27" text-anchor="middle">200</text><text x="103.24" y="417.27" text-anchor="middle">250</text><text x="60.20" y="420.46" text-anchor="middle" class="b">Grayscale values</text><text transform="translate(3.08 376.50) rotate(-90)" text-anchor="middle" class="b">Frequency distribution</text></g>
<g><use href="#p21" fill="#3d91cd"/><g clip-path="url(#c21)"><rect x="139.18" y="341.39" width="0.5" height="65.49" fill="#fff" opacity="0.22"/><rect x="142.76" y="341.39" width="0.5" height="65.49" fill="#fff" opacity="0.22"/><rect x="146.34" y="341.39" width="0.5" height="65.49" fill="#fff" opacity="0.22"/><rect x="149.92" y="341.39" width="0.5" height="65.49" fill="#fff" opacity="0.22"/><rect x="153.49" y="341.39" width="0.5" height="65.49" fill="#fff" opacity="0.22"/><rect x="157.07" y="341.39" width="0.5" height="65.49" fill="#fff" opacity="0.22"/><rect x="160.65" y="341.39" width="0.5" height="65.49" fill="#fff" opacity="0.22"/><rect x="164.23" y="341.39" width="0.5" height="65.49" fill="#fff" opacity="0.22"/><rect x="167.81" y="341.39" width="0.5" height="65.49" fill="#fff" opacity="0.22"/><rect x="171.39" y="341.39" width="0.5" height="65.49" fill="#fff" opacity="0.22"/><rect x="174.96" y="341.39" width="0.5" height="65.49" fill="#fff" opacity="0.22"/><rect x="178.54" y="341.39" width="0.5" height="65.49" fill="#fff" opacity="0.22"/><rect x="182.12" y="341.39" width="0.5" height="65.49" fill="#fff" opacity="0.22"/><rect x="185.70" y="341.39" width="0.5" height="65.49" fill="#fff" opacity="0.22"/><rect x="189.28" y="341.39" width="0.5" height="65.49" fill="#fff" opacity="0.22"/><rect x="192.86" y="341.39" width="0.5" height="65.49" fill="#fff" opacity="0.22"/><rect x="196.43" y="341.39" width="0.5" height="65.49" fill="#fff" opacity="0.22"/><rect x="200.01" y="341.39" width="0.5" height="65.49" fill="#fff" opacity="0.22"/><rect x="203.59" y="341.39" width="0.5" height="65.49" fill="#fff" opacity="0.22"/><rect x="207.17" y="341.39" width="0.5" height="65.49" fill="#fff" opacity="0.22"/><rect x="210.75" y="341.39" width="0.5" height="65.49" fill="#fff" opacity="0.22"/><rect x="214.33" y="341.39" width="0.5" height="65.49" fill="#fff" opacity="0.22"/><rect x="217.90" y="341.39" width="0.5" height="65.49" fill="#fff" opacity="0.22"/><rect x="221.48" y="341.39" width="0.5" height="65.49" fill="#fff" opacity="0.22"/><rect x="225.06" y="341.39" width="0.5" height="65.49" fill="#fff" opacity="0.22"/><rect x="228.64" y="341.39" width="0.5" height="65.49" fill="#fff" opacity="0.22"/></g><rect x="137.57" y="341.39" width="91.25" height="65.49" fill="none" stroke="#3a3a3a" stroke-width="0.3"/><path d="M155.46 341.39v0.9M155.46 406.88v-0.9M173.35 341.39v0.9M173.35 406.88v-0.9M191.25 341.39v0.9M191.25 406.88v-0.9M209.14 341.39v0.9M209.14 406.88v-0.9M227.03 341.39v0.9M227.03 406.88v-0.9M137.57 347.58h0.9M228.82 347.58h-0.9M137.57 357.36h0.9M228.82 357.36h-0.9M137.57 367.35h0.9M228.82 367.35h-0.9M137.57 377.13h0.9M228.82 377.13h-0.9M137.57 387.11h0.9M228.82 387.11h-0.9M137.57 396.90h0.9M228.82 396.90h-0.9M137.57 406.88h0.9M228.82 406.88h-0.9" stroke="#3a3a3a" stroke-width="0.3" fill="none"/><rect x="137.57" y="407.08" width="91.25" height="5.19" fill="url(#gg)" stroke="#555" stroke-width="0.2"/><text x="136.27" y="348.88" text-anchor="end">3000</text><text x="136.27" y="358.66" text-anchor="end">2500</text><text x="136.27" y="368.65" text-anchor="end">2000</text><text x="136.27" y="378.43" text-anchor="end">1500</text><text x="136.27" y="388.41" text-anchor="end">1000</text><text x="136.27" y="398.20" text-anchor="end">500</text><text x="136.27" y="408.18" text-anchor="end">0</text><text x="137.57" y="417.67" text-anchor="middle">0</text><text x="155.46" y="417.67" text-anchor="middle">50</text><text x="173.35" y="417.67" text-anchor="middle">100</text><text x="191.25" y="417.67" text-anchor="middle">150</text><text x="209.14" y="417.67" text-anchor="middle">200</text><text x="227.03" y="417.67" text-anchor="middle">250</text><text x="183.89" y="420.86" text-anchor="middle" class="b">Grayscale values</text><text transform="translate(126.67 377.70) rotate(-90)" text-anchor="middle" class="b">Frequency distribution</text></g>
<g><use href="#p22" fill="#3d91cd"/><g clip-path="url(#c22)"><rect x="262.58" y="340.39" width="0.5" height="66.49" fill="#fff" opacity="0.22"/><rect x="266.15" y="340.39" width="0.5" height="66.49" fill="#fff" opacity="0.22"/><rect x="269.73" y="340.39" width="0.5" height="66.49" fill="#fff" opacity="0.22"/><rect x="273.31" y="340.39" width="0.5" height="66.49" fill="#fff" opacity="0.22"/><rect x="276.89" y="340.39" width="0.5" height="66.49" fill="#fff" opacity="0.22"/><rect x="280.47" y="340.39" width="0.5" height="66.49" fill="#fff" opacity="0.22"/><rect x="284.05" y="340.39" width="0.5" height="66.49" fill="#fff" opacity="0.22"/><rect x="287.62" y="340.39" width="0.5" height="66.49" fill="#fff" opacity="0.22"/><rect x="291.20" y="340.39" width="0.5" height="66.49" fill="#fff" opacity="0.22"/><rect x="294.78" y="340.39" width="0.5" height="66.49" fill="#fff" opacity="0.22"/><rect x="298.36" y="340.39" width="0.5" height="66.49" fill="#fff" opacity="0.22"/><rect x="301.94" y="340.39" width="0.5" height="66.49" fill="#fff" opacity="0.22"/><rect x="305.52" y="340.39" width="0.5" height="66.49" fill="#fff" opacity="0.22"/><rect x="309.09" y="340.39" width="0.5" height="66.49" fill="#fff" opacity="0.22"/><rect x="312.67" y="340.39" width="0.5" height="66.49" fill="#fff" opacity="0.22"/><rect x="316.25" y="340.39" width="0.5" height="66.49" fill="#fff" opacity="0.22"/><rect x="319.83" y="340.39" width="0.5" height="66.49" fill="#fff" opacity="0.22"/><rect x="323.41" y="340.39" width="0.5" height="66.49" fill="#fff" opacity="0.22"/><rect x="326.99" y="340.39" width="0.5" height="66.49" fill="#fff" opacity="0.22"/><rect x="330.56" y="340.39" width="0.5" height="66.49" fill="#fff" opacity="0.22"/><rect x="334.14" y="340.39" width="0.5" height="66.49" fill="#fff" opacity="0.22"/><rect x="337.72" y="340.39" width="0.5" height="66.49" fill="#fff" opacity="0.22"/><rect x="341.30" y="340.39" width="0.5" height="66.49" fill="#fff" opacity="0.22"/><rect x="344.88" y="340.39" width="0.5" height="66.49" fill="#fff" opacity="0.22"/><rect x="348.46" y="340.39" width="0.5" height="66.49" fill="#fff" opacity="0.22"/><rect x="352.03" y="340.39" width="0.5" height="66.49" fill="#fff" opacity="0.22"/></g><rect x="260.97" y="340.39" width="91.25" height="66.49" fill="none" stroke="#3a3a3a" stroke-width="0.3"/><path d="M278.86 340.39v0.9M278.86 406.88v-0.9M296.75 340.39v0.9M296.75 406.88v-0.9M314.64 340.39v0.9M314.64 406.88v-0.9M332.53 340.39v0.9M332.53 406.88v-0.9M350.42 340.39v0.9M350.42 406.88v-0.9M260.97 349.98h0.9M352.21 349.98h-0.9M260.97 359.36h0.9M352.21 359.36h-0.9M260.97 368.95h0.9M352.21 368.95h-0.9M260.97 378.33h0.9M352.21 378.33h-0.9M260.97 387.91h0.9M352.21 387.91h-0.9M260.97 397.50h0.9M352.21 397.50h-0.9M260.97 406.88h0.9M352.21 406.88h-0.9" stroke="#3a3a3a" stroke-width="0.3" fill="none"/><rect x="260.97" y="407.08" width="91.25" height="5.19" fill="url(#gg)" stroke="#555" stroke-width="0.2"/><text x="259.67" y="351.28" text-anchor="end">3000</text><text x="259.67" y="360.66" text-anchor="end">2500</text><text x="259.67" y="370.25" text-anchor="end">2000</text><text x="259.67" y="379.63" text-anchor="end">1500</text><text x="259.67" y="389.21" text-anchor="end">1000</text><text x="259.67" y="398.80" text-anchor="end">500</text><text x="259.67" y="408.18" text-anchor="end">0</text><text x="260.97" y="417.67" text-anchor="middle">0</text><text x="278.86" y="417.67" text-anchor="middle">50</text><text x="296.75" y="417.67" text-anchor="middle">100</text><text x="314.64" y="417.67" text-anchor="middle">150</text><text x="332.53" y="417.67" text-anchor="middle">200</text><text x="350.42" y="417.67" text-anchor="middle">250</text><text x="307.29" y="420.86" text-anchor="middle" class="b">Grayscale values</text><text transform="translate(250.07 378.20) rotate(-90)" text-anchor="middle" class="b">Frequency distribution</text></g>
<g><use href="#p23" fill="#3d91cd"/><g clip-path="url(#c23)"><rect x="385.98" y="341.99" width="0.5" height="64.09" fill="#fff" opacity="0.22"/><rect x="389.58" y="341.99" width="0.5" height="64.09" fill="#fff" opacity="0.22"/><rect x="393.18" y="341.99" width="0.5" height="64.09" fill="#fff" opacity="0.22"/><rect x="396.79" y="341.99" width="0.5" height="64.09" fill="#fff" opacity="0.22"/><rect x="400.39" y="341.99" width="0.5" height="64.09" fill="#fff" opacity="0.22"/><rect x="403.99" y="341.99" width="0.5" height="64.09" fill="#fff" opacity="0.22"/><rect x="407.59" y="341.99" width="0.5" height="64.09" fill="#fff" opacity="0.22"/><rect x="411.19" y="341.99" width="0.5" height="64.09" fill="#fff" opacity="0.22"/><rect x="414.79" y="341.99" width="0.5" height="64.09" fill="#fff" opacity="0.22"/><rect x="418.40" y="341.99" width="0.5" height="64.09" fill="#fff" opacity="0.22"/><rect x="422.00" y="341.99" width="0.5" height="64.09" fill="#fff" opacity="0.22"/><rect x="425.60" y="341.99" width="0.5" height="64.09" fill="#fff" opacity="0.22"/><rect x="429.20" y="341.99" width="0.5" height="64.09" fill="#fff" opacity="0.22"/><rect x="432.80" y="341.99" width="0.5" height="64.09" fill="#fff" opacity="0.22"/><rect x="436.41" y="341.99" width="0.5" height="64.09" fill="#fff" opacity="0.22"/><rect x="440.01" y="341.99" width="0.5" height="64.09" fill="#fff" opacity="0.22"/><rect x="443.61" y="341.99" width="0.5" height="64.09" fill="#fff" opacity="0.22"/><rect x="447.21" y="341.99" width="0.5" height="64.09" fill="#fff" opacity="0.22"/><rect x="450.81" y="341.99" width="0.5" height="64.09" fill="#fff" opacity="0.22"/><rect x="454.42" y="341.99" width="0.5" height="64.09" fill="#fff" opacity="0.22"/><rect x="458.02" y="341.99" width="0.5" height="64.09" fill="#fff" opacity="0.22"/><rect x="461.62" y="341.99" width="0.5" height="64.09" fill="#fff" opacity="0.22"/><rect x="465.22" y="341.99" width="0.5" height="64.09" fill="#fff" opacity="0.22"/><rect x="468.82" y="341.99" width="0.5" height="64.09" fill="#fff" opacity="0.22"/><rect x="472.42" y="341.99" width="0.5" height="64.09" fill="#fff" opacity="0.22"/><rect x="476.03" y="341.99" width="0.5" height="64.09" fill="#fff" opacity="0.22"/></g><rect x="384.36" y="341.99" width="91.85" height="64.09" fill="none" stroke="#3a3a3a" stroke-width="0.3"/><path d="M402.37 341.99v0.9M402.37 406.08v-0.9M420.38 341.99v0.9M420.38 406.08v-0.9M438.39 341.99v0.9M438.39 406.08v-0.9M456.40 341.99v0.9M456.40 406.08v-0.9M474.41 341.99v0.9M474.41 406.08v-0.9M384.36 352.37h0.9M476.21 352.37h-0.9M384.36 363.15h0.9M476.21 363.15h-0.9M384.36 373.94h0.9M476.21 373.94h-0.9M384.36 384.52h0.9M476.21 384.52h-0.9M384.36 395.30h0.9M476.21 395.30h-0.9M384.36 406.08h0.9M476.21 406.08h-0.9" stroke="#3a3a3a" stroke-width="0.3" fill="none"/><rect x="384.36" y="406.28" width="91.85" height="4.99" fill="url(#gg)" stroke="#555" stroke-width="0.2"/><text x="383.06" y="353.67" text-anchor="end">5000</text><text x="383.06" y="364.45" text-anchor="end">4000</text><text x="383.06" y="375.24" text-anchor="end">3000</text><text x="383.06" y="385.82" text-anchor="end">2000</text><text x="383.06" y="396.60" text-anchor="end">1000</text><text x="383.06" y="407.38" text-anchor="end">0</text><text x="384.36" y="416.67" text-anchor="middle">0</text><text x="402.37" y="416.67" text-anchor="middle">50</text><text x="420.38" y="416.67" text-anchor="middle">100</text><text x="438.39" y="416.67" text-anchor="middle">150</text><text x="456.40" y="416.67" text-anchor="middle">200</text><text x="474.41" y="416.67" text-anchor="middle">250</text><text x="430.98" y="420.06" text-anchor="middle" class="b">Grayscale values</text><text transform="translate(373.46 380.00) rotate(-90)" text-anchor="middle" class="b">Frequency distribution</text></g>
<g><use href="#p24" fill="#3d91cd"/><g clip-path="url(#c24)"><rect x="509.56" y="342.39" width="0.5" height="64.09" fill="#fff" opacity="0.22"/><rect x="513.12" y="342.39" width="0.5" height="64.09" fill="#fff" opacity="0.22"/><rect x="516.68" y="342.39" width="0.5" height="64.09" fill="#fff" opacity="0.22"/><rect x="520.25" y="342.39" width="0.5" height="64.09" fill="#fff" opacity="0.22"/><rect x="523.81" y="342.39" width="0.5" height="64.09" fill="#fff" opacity="0.22"/><rect x="527.37" y="342.39" width="0.5" height="64.09" fill="#fff" opacity="0.22"/><rect x="530.93" y="342.39" width="0.5" height="64.09" fill="#fff" opacity="0.22"/><rect x="534.50" y="342.39" width="0.5" height="64.09" fill="#fff" opacity="0.22"/><rect x="538.06" y="342.39" width="0.5" height="64.09" fill="#fff" opacity="0.22"/><rect x="541.62" y="342.39" width="0.5" height="64.09" fill="#fff" opacity="0.22"/><rect x="545.19" y="342.39" width="0.5" height="64.09" fill="#fff" opacity="0.22"/><rect x="548.75" y="342.39" width="0.5" height="64.09" fill="#fff" opacity="0.22"/><rect x="552.31" y="342.39" width="0.5" height="64.09" fill="#fff" opacity="0.22"/><rect x="555.87" y="342.39" width="0.5" height="64.09" fill="#fff" opacity="0.22"/><rect x="559.44" y="342.39" width="0.5" height="64.09" fill="#fff" opacity="0.22"/><rect x="563.00" y="342.39" width="0.5" height="64.09" fill="#fff" opacity="0.22"/><rect x="566.56" y="342.39" width="0.5" height="64.09" fill="#fff" opacity="0.22"/><rect x="570.12" y="342.39" width="0.5" height="64.09" fill="#fff" opacity="0.22"/><rect x="573.69" y="342.39" width="0.5" height="64.09" fill="#fff" opacity="0.22"/><rect x="577.25" y="342.39" width="0.5" height="64.09" fill="#fff" opacity="0.22"/><rect x="580.81" y="342.39" width="0.5" height="64.09" fill="#fff" opacity="0.22"/><rect x="584.37" y="342.39" width="0.5" height="64.09" fill="#fff" opacity="0.22"/><rect x="587.94" y="342.39" width="0.5" height="64.09" fill="#fff" opacity="0.22"/><rect x="591.50" y="342.39" width="0.5" height="64.09" fill="#fff" opacity="0.22"/><rect x="595.06" y="342.39" width="0.5" height="64.09" fill="#fff" opacity="0.22"/><rect x="598.63" y="342.39" width="0.5" height="64.09" fill="#fff" opacity="0.22"/></g><rect x="507.96" y="342.39" width="90.85" height="64.09" fill="none" stroke="#3a3a3a" stroke-width="0.3"/><path d="M525.77 342.39v0.9M525.77 406.48v-0.9M543.58 342.39v0.9M543.58 406.48v-0.9M561.40 342.39v0.9M561.40 406.48v-0.9M579.21 342.39v0.9M579.21 406.48v-0.9M597.02 342.39v0.9M597.02 406.48v-0.9M507.96 350.38h0.9M598.80 350.38h-0.9M507.96 369.14h0.9M598.80 369.14h-0.9M507.96 387.91h0.9M598.80 387.91h-0.9M507.96 406.48h0.9M598.80 406.48h-0.9" stroke="#3a3a3a" stroke-width="0.3" fill="none"/><rect x="507.96" y="406.68" width="90.85" height="4.99" fill="url(#gg)" stroke="#555" stroke-width="0.2"/><text x="506.66" y="351.68" text-anchor="end">15000</text><text x="506.66" y="370.44" text-anchor="end">10000</text><text x="506.66" y="389.21" text-anchor="end">5000</text><text x="506.66" y="407.78" text-anchor="end">0</text><text x="507.96" y="416.87" text-anchor="middle">0</text><text x="525.77" y="416.87" text-anchor="middle">50</text><text x="543.58" y="416.87" text-anchor="middle">100</text><text x="561.40" y="416.87" text-anchor="middle">150</text><text x="579.21" y="416.87" text-anchor="middle">200</text><text x="597.02" y="416.87" text-anchor="middle">250</text><text x="554.08" y="420.26" text-anchor="middle" class="b">Grayscale values</text><text transform="translate(495.26 379.00) rotate(-90)" text-anchor="middle" class="b">Frequency distribution</text></g>
</g>
<g class="l"><text x="53.5" y="433.9" text-anchor="middle">(a)</text><text x="177.0" y="433.9" text-anchor="middle">(b)</text><text x="300.5" y="433.9" text-anchor="middle">(c)</text><text x="424.0" y="433.9" text-anchor="middle">(d)</text><text x="546.5" y="433.9" text-anchor="middle">(e)</text></g>
</svg>
</body></html>
